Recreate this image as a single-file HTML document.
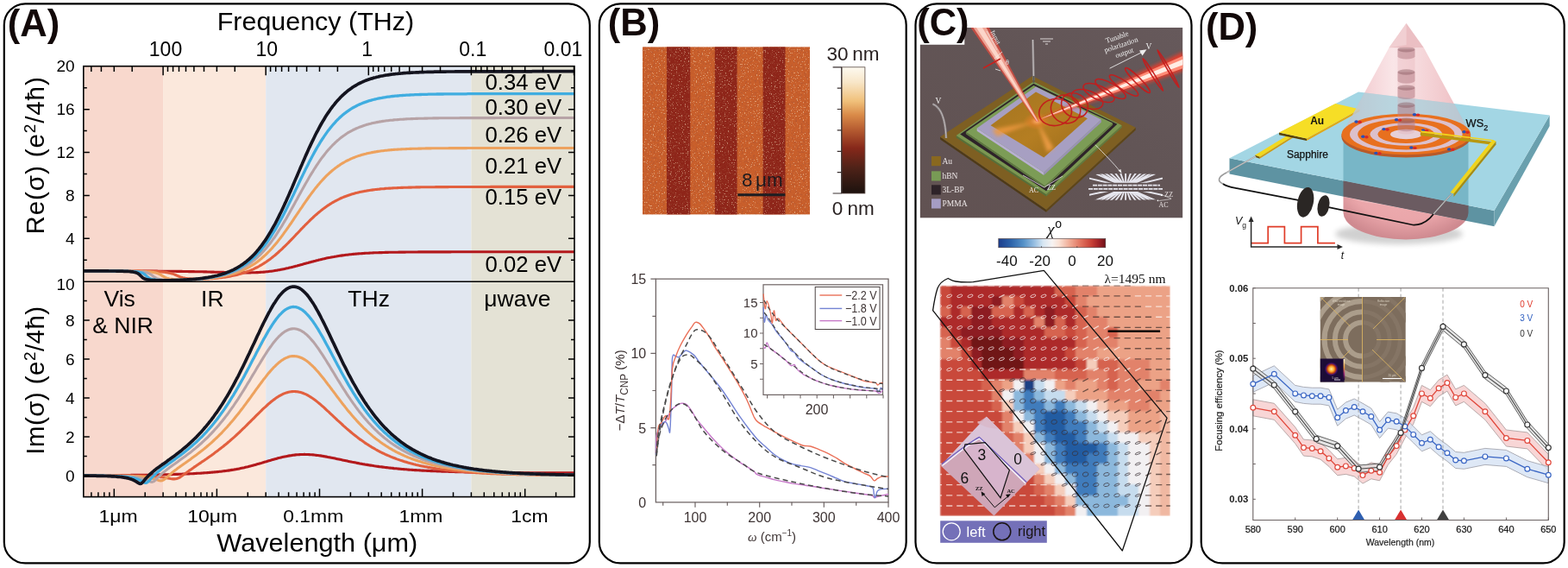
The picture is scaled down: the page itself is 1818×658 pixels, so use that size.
<!DOCTYPE html>
<html><head><meta charset="utf-8"><title>Figure</title>
<style>
html,body{margin:0;padding:0;background:#fff;width:1818px;height:658px;overflow:hidden}
svg{display:block;font-family:"Liberation Sans",Arial,sans-serif}
</style></head><body>
<svg width="1818" height="658" viewBox="0 0 1818 658">
<rect width="1818" height="658" fill="#fff"/>
<rect x="4.8" y="4.4" width="679.0" height="648.0" rx="24.5" ry="24.5" fill="#fff" stroke="#000" stroke-width="2.2"/>
<rect x="694.8" y="4.4" width="355.9" height="648.0" rx="24.5" ry="24.5" fill="#fff" stroke="#000" stroke-width="2.2"/>
<rect x="1061.5" y="4.4" width="320.0" height="648.0" rx="24.5" ry="24.5" fill="#fff" stroke="#000" stroke-width="2.2"/>
<rect x="1392.7" y="4.4" width="421.0" height="648.0" rx="24.5" ry="24.5" fill="#fff" stroke="#000" stroke-width="2.2"/>
<rect x="96.8" y="76.7" width="92.3" height="498.9" fill="#f8d8cd"/>
<rect x="189.1" y="76.7" width="119.1" height="498.9" fill="#fbe8dc"/>
<rect x="308.2" y="76.7" width="238.2" height="498.9" fill="#e1e7f0"/>
<rect x="546.4" y="76.7" width="119.6" height="498.9" fill="#e4e2d5"/>
<clipPath id="ca1"><rect x="96.8" y="76.7" width="569.2" height="249.5"/></clipPath><clipPath id="ca2"><rect x="96.8" y="326.2" width="569.2" height="249.4"/></clipPath>
<g clip-path="url(#ca1)" stroke-linejoin="round"><path d="M96.8,313.8 L98.2,313.8 L99.6,313.8 L101,313.8 L102.4,313.8 L103.9,313.8 L105.3,313.8 L106.7,313.8 L108.1,313.8 L109.6,313.8 L111,313.8 L112.4,313.8 L113.8,313.8 L115.3,313.8 L116.7,313.8 L118.1,313.9 L119.5,313.9 L120.9,313.9 L122.4,313.9 L123.8,313.9 L125.2,313.9 L126.6,313.9 L128.1,313.9 L129.5,313.9 L130.9,313.9 L132.3,313.9 L133.8,313.9 L135.2,313.9 L136.6,313.9 L138,313.9 L139.4,313.9 L140.9,313.9 L142.3,313.9 L143.7,313.9 L145.1,313.9 L146.6,313.9 L148,313.9 L149.4,314 L150.8,314 L152.3,314 L153.7,314 L155.1,314 L156.5,314 L157.9,314 L159.4,314 L160.8,314 L162.2,314 L163.6,314 L165.1,314 L166.5,314 L167.9,314 L169.3,314.1 L170.8,314.1 L172.2,314.1 L173.6,314.1 L175,314.1 L176.4,314.1 L177.9,314.1 L179.3,314.1 L180.7,314.1 L182.1,314.1 L183.6,314.2 L185,314.2 L186.4,314.2 L187.8,314.2 L189.3,314.2 L190.7,314.2 L192.1,314.2 L193.5,314.2 L194.9,314.3 L196.4,314.3 L197.8,314.3 L199.2,314.3 L200.6,314.3 L202.1,314.3 L203.5,314.3 L204.9,314.4 L206.3,314.4 L207.8,314.4 L209.2,314.4 L210.6,314.4 L212,314.5 L213.4,314.5 L214.9,314.5 L216.3,314.5 L217.7,314.5 L219.1,314.6 L220.6,314.6 L222,314.6 L223.4,314.6 L224.8,314.6 L226.3,314.7 L227.7,314.7 L229.1,314.7 L230.5,314.8 L231.9,314.8 L233.4,314.8 L234.8,314.8 L236.2,314.9 L237.6,314.9 L239.1,314.9 L240.5,315 L241.9,315 L243.3,315 L244.8,315.1 L246.2,315.1 L247.6,315.1 L249,315.2 L250.4,315.2 L251.9,315.2 L253.3,315.3 L254.7,315.3 L256.1,315.3 L257.6,315.4 L259,315.4 L260.4,315.5 L261.8,315.5 L263.3,315.5 L264.7,315.6 L266.1,315.6 L267.5,315.6 L268.9,315.7 L270.4,315.7 L271.8,315.7 L273.2,315.8 L274.6,315.8 L276.1,315.8 L277.5,315.8 L278.9,315.9 L280.3,315.9 L281.8,315.9 L283.2,315.9 L284.6,315.9 L286,315.9 L287.4,315.9 L288.9,315.9 L290.3,315.9 L291.7,315.8 L293.1,315.8 L294.6,315.8 L296,315.7 L297.4,315.6 L298.8,315.6 L300.3,315.5 L301.7,315.4 L303.1,315.3 L304.5,315.2 L305.9,315.1 L307.4,315 L308.8,314.8 L310.2,314.7 L311.6,314.5 L313.1,314.3 L314.5,314.2 L315.9,314 L317.3,313.8 L318.8,313.5 L320.2,313.3 L321.6,313.1 L323,312.8 L324.4,312.6 L325.9,312.3 L327.3,312 L328.7,311.7 L330.1,311.4 L331.6,311.1 L333,310.8 L334.4,310.5 L335.8,310.1 L337.3,309.8 L338.7,309.4 L340.1,309.1 L341.5,308.7 L342.9,308.3 L344.4,308 L345.8,307.6 L347.2,307.2 L348.6,306.8 L350.1,306.4 L351.5,306 L352.9,305.6 L354.3,305.2 L355.8,304.8 L357.2,304.5 L358.6,304.1 L360,303.7 L361.4,303.3 L362.9,302.9 L364.3,302.5 L365.7,302.2 L367.1,301.8 L368.6,301.5 L370,301.1 L371.4,300.8 L372.8,300.4 L374.3,300.1 L375.7,299.8 L377.1,299.4 L378.5,299.1 L379.9,298.8 L381.4,298.5 L382.8,298.3 L384.2,298 L385.6,297.7 L387.1,297.5 L388.5,297.2 L389.9,297 L391.3,296.7 L392.8,296.5 L394.2,296.3 L395.6,296.1 L397,295.9 L398.4,295.7 L399.9,295.5 L401.3,295.3 L402.7,295.2 L404.1,295 L405.6,294.8 L407,294.7 L408.4,294.5 L409.8,294.4 L411.3,294.3 L412.7,294.1 L414.1,294 L415.5,293.9 L416.9,293.8 L418.4,293.7 L419.8,293.6 L421.2,293.5 L422.6,293.4 L424.1,293.3 L425.5,293.3 L426.9,293.2 L428.3,293.1 L429.8,293 L431.2,293 L432.6,292.9 L434,292.8 L435.4,292.8 L436.9,292.7 L438.3,292.7 L439.7,292.6 L441.1,292.6 L442.6,292.6 L444,292.5 L445.4,292.5 L446.8,292.4 L448.3,292.4 L449.7,292.4 L451.1,292.3 L452.5,292.3 L453.9,292.3 L455.4,292.3 L456.8,292.2 L458.2,292.2 L459.6,292.2 L461.1,292.2 L462.5,292.1 L463.9,292.1 L465.3,292.1 L466.8,292.1 L468.2,292.1 L469.6,292.1 L471,292 L472.4,292 L473.9,292 L475.3,292 L476.7,292 L478.1,292 L479.6,292 L481,292 L482.4,292 L483.8,292 L485.3,291.9 L486.7,291.9 L488.1,291.9 L489.5,291.9 L490.9,291.9 L492.4,291.9 L493.8,291.9 L495.2,291.9 L496.6,291.9 L498.1,291.9 L499.5,291.9 L500.9,291.9 L502.3,291.9 L503.8,291.9 L505.2,291.9 L506.6,291.9 L508,291.9 L509.4,291.9 L510.9,291.9 L512.3,291.9 L513.7,291.9 L515.1,291.9 L516.6,291.9 L518,291.9 L519.4,291.9 L520.8,291.9 L522.3,291.9 L523.7,291.8 L525.1,291.8 L526.5,291.8 L527.9,291.8 L529.4,291.8 L530.8,291.8 L532.2,291.8 L533.6,291.8 L535.1,291.8 L536.5,291.8 L537.9,291.8 L539.3,291.8 L540.8,291.8 L542.2,291.8 L543.6,291.8 L545,291.8 L546.4,291.8 L547.9,291.8 L549.3,291.8 L550.7,291.8 L552.1,291.8 L553.6,291.8 L555,291.8 L556.4,291.8 L557.8,291.8 L559.3,291.8 L560.7,291.8 L562.1,291.8 L563.5,291.8 L564.9,291.8 L566.4,291.8 L567.8,291.8 L569.2,291.8 L570.6,291.8 L572.1,291.8 L573.5,291.8 L574.9,291.8 L576.3,291.8 L577.8,291.8 L579.2,291.8 L580.6,291.8 L582,291.8 L583.4,291.8 L584.9,291.8 L586.3,291.8 L587.7,291.8 L589.1,291.8 L590.6,291.8 L592,291.8 L593.4,291.8 L594.8,291.8 L596.3,291.8 L597.7,291.8 L599.1,291.8 L600.5,291.8 L601.9,291.8 L603.4,291.8 L604.8,291.8 L606.2,291.8 L607.6,291.8 L609.1,291.8 L610.5,291.8 L611.9,291.8 L613.3,291.8 L614.8,291.8 L616.2,291.8 L617.6,291.8 L619,291.8 L620.4,291.8 L621.9,291.8 L623.3,291.8 L624.7,291.8 L626.1,291.8 L627.6,291.8 L629,291.8 L630.4,291.8 L631.8,291.8 L633.3,291.8 L634.7,291.8 L636.1,291.8 L637.5,291.8 L638.9,291.8 L640.4,291.8 L641.8,291.8 L643.2,291.8 L644.6,291.8 L646.1,291.8 L647.5,291.8 L648.9,291.8 L650.3,291.8 L651.8,291.8 L653.2,291.8 L654.6,291.8 L656,291.8 L657.4,291.8 L658.9,291.8 L660.3,291.8 L661.7,291.8 L663.1,291.8 L664.6,291.8 L666,291.8" fill="none" stroke="#b3191c" stroke-width="3.1"/><path d="M96.8,313.8 L98.2,313.8 L99.6,313.8 L101,313.8 L102.4,313.8 L103.9,313.8 L105.3,313.8 L106.7,313.8 L108.1,313.8 L109.6,313.8 L111,313.8 L112.4,313.8 L113.8,313.8 L115.3,313.9 L116.7,313.9 L118.1,313.9 L119.5,313.9 L120.9,313.9 L122.4,313.9 L123.8,313.9 L125.2,313.9 L126.6,313.9 L128.1,313.9 L129.5,313.9 L130.9,313.9 L132.3,313.9 L133.8,313.9 L135.2,313.9 L136.6,313.9 L138,313.9 L139.4,313.9 L140.9,314 L142.3,314 L143.7,314 L145.1,314 L146.6,314 L148,314 L149.4,314 L150.8,314 L152.3,314 L153.7,314 L155.1,314.1 L156.5,314.1 L157.9,314.1 L159.4,314.1 L160.8,314.1 L162.2,314.1 L163.6,314.2 L165.1,314.2 L166.5,314.2 L167.9,314.2 L169.3,314.2 L170.8,314.3 L172.2,314.3 L173.6,314.3 L175,314.4 L176.4,314.4 L177.9,314.5 L179.3,314.5 L180.7,314.6 L182.1,314.6 L183.6,314.7 L185,314.8 L186.4,314.9 L187.8,315 L189.3,315.1 L190.7,315.3 L192.1,315.4 L193.5,315.6 L194.9,315.9 L196.4,316.2 L197.8,316.5 L199.2,316.9 L200.6,317.4 L202.1,317.9 L203.5,318.5 L204.9,319.1 L206.3,319.7 L207.8,320.3 L209.2,320.9 L210.6,321.3 L212,321.7 L213.4,322 L214.9,322.3 L216.3,322.5 L217.7,322.7 L219.1,322.8 L220.6,323 L222,323 L223.4,323.1 L224.8,323.2 L226.3,323.2 L227.7,323.2 L229.1,323.2 L230.5,323.2 L231.9,323.2 L233.4,323.2 L234.8,323.2 L236.2,323.1 L237.6,323.1 L239.1,323 L240.5,322.9 L241.9,322.9 L243.3,322.8 L244.8,322.7 L246.2,322.6 L247.6,322.5 L249,322.4 L250.4,322.2 L251.9,322.1 L253.3,322 L254.7,321.8 L256.1,321.6 L257.6,321.5 L259,321.3 L260.4,321.1 L261.8,320.9 L263.3,320.6 L264.7,320.4 L266.1,320.2 L267.5,319.9 L268.9,319.6 L270.4,319.3 L271.8,319 L273.2,318.7 L274.6,318.4 L276.1,318 L277.5,317.6 L278.9,317.2 L280.3,316.8 L281.8,316.4 L283.2,315.9 L284.6,315.4 L286,314.9 L287.4,314.4 L288.9,313.9 L290.3,313.3 L291.7,312.7 L293.1,312.1 L294.6,311.4 L296,310.7 L297.4,310 L298.8,309.3 L300.3,308.5 L301.7,307.7 L303.1,306.9 L304.5,306 L305.9,305.1 L307.4,304.2 L308.8,303.3 L310.2,302.3 L311.6,301.3 L313.1,300.2 L314.5,299.1 L315.9,298 L317.3,296.9 L318.8,295.7 L320.2,294.5 L321.6,293.3 L323,292 L324.4,290.7 L325.9,289.4 L327.3,288.1 L328.7,286.7 L330.1,285.3 L331.6,283.9 L333,282.5 L334.4,281.1 L335.8,279.6 L337.3,278.1 L338.7,276.7 L340.1,275.2 L341.5,273.7 L342.9,272.2 L344.4,270.7 L345.8,269.2 L347.2,267.7 L348.6,266.2 L350.1,264.7 L351.5,263.2 L352.9,261.8 L354.3,260.3 L355.8,258.9 L357.2,257.5 L358.6,256.1 L360,254.7 L361.4,253.3 L362.9,252 L364.3,250.7 L365.7,249.4 L367.1,248.2 L368.6,246.9 L370,245.7 L371.4,244.6 L372.8,243.4 L374.3,242.3 L375.7,241.3 L377.1,240.2 L378.5,239.2 L379.9,238.2 L381.4,237.3 L382.8,236.4 L384.2,235.5 L385.6,234.7 L387.1,233.8 L388.5,233 L389.9,232.3 L391.3,231.6 L392.8,230.9 L394.2,230.2 L395.6,229.5 L397,228.9 L398.4,228.3 L399.9,227.7 L401.3,227.2 L402.7,226.7 L404.1,226.2 L405.6,225.7 L407,225.2 L408.4,224.8 L409.8,224.4 L411.3,224 L412.7,223.6 L414.1,223.3 L415.5,222.9 L416.9,222.6 L418.4,222.3 L419.8,222 L421.2,221.7 L422.6,221.4 L424.1,221.2 L425.5,220.9 L426.9,220.7 L428.3,220.5 L429.8,220.3 L431.2,220.1 L432.6,219.9 L434,219.7 L435.4,219.5 L436.9,219.4 L438.3,219.2 L439.7,219.1 L441.1,218.9 L442.6,218.8 L444,218.7 L445.4,218.6 L446.8,218.4 L448.3,218.3 L449.7,218.2 L451.1,218.1 L452.5,218.1 L453.9,218 L455.4,217.9 L456.8,217.8 L458.2,217.7 L459.6,217.7 L461.1,217.6 L462.5,217.5 L463.9,217.5 L465.3,217.4 L466.8,217.4 L468.2,217.3 L469.6,217.3 L471,217.2 L472.4,217.2 L473.9,217.1 L475.3,217.1 L476.7,217.1 L478.1,217 L479.6,217 L481,217 L482.4,216.9 L483.8,216.9 L485.3,216.9 L486.7,216.9 L488.1,216.8 L489.5,216.8 L490.9,216.8 L492.4,216.8 L493.8,216.8 L495.2,216.7 L496.6,216.7 L498.1,216.7 L499.5,216.7 L500.9,216.7 L502.3,216.7 L503.8,216.7 L505.2,216.6 L506.6,216.6 L508,216.6 L509.4,216.6 L510.9,216.6 L512.3,216.6 L513.7,216.6 L515.1,216.6 L516.6,216.6 L518,216.6 L519.4,216.6 L520.8,216.5 L522.3,216.5 L523.7,216.5 L525.1,216.5 L526.5,216.5 L527.9,216.5 L529.4,216.5 L530.8,216.5 L532.2,216.5 L533.6,216.5 L535.1,216.5 L536.5,216.5 L537.9,216.5 L539.3,216.5 L540.8,216.5 L542.2,216.5 L543.6,216.5 L545,216.5 L546.4,216.5 L547.9,216.5 L549.3,216.5 L550.7,216.5 L552.1,216.5 L553.6,216.5 L555,216.5 L556.4,216.5 L557.8,216.5 L559.3,216.5 L560.7,216.5 L562.1,216.5 L563.5,216.5 L564.9,216.5 L566.4,216.5 L567.8,216.5 L569.2,216.4 L570.6,216.4 L572.1,216.4 L573.5,216.4 L574.9,216.4 L576.3,216.4 L577.8,216.4 L579.2,216.4 L580.6,216.4 L582,216.4 L583.4,216.4 L584.9,216.4 L586.3,216.4 L587.7,216.4 L589.1,216.4 L590.6,216.4 L592,216.4 L593.4,216.4 L594.8,216.4 L596.3,216.4 L597.7,216.4 L599.1,216.4 L600.5,216.4 L601.9,216.4 L603.4,216.4 L604.8,216.4 L606.2,216.4 L607.6,216.4 L609.1,216.4 L610.5,216.4 L611.9,216.4 L613.3,216.4 L614.8,216.4 L616.2,216.4 L617.6,216.4 L619,216.4 L620.4,216.4 L621.9,216.4 L623.3,216.4 L624.7,216.4 L626.1,216.4 L627.6,216.4 L629,216.4 L630.4,216.4 L631.8,216.4 L633.3,216.4 L634.7,216.4 L636.1,216.4 L637.5,216.4 L638.9,216.4 L640.4,216.4 L641.8,216.4 L643.2,216.4 L644.6,216.4 L646.1,216.4 L647.5,216.4 L648.9,216.4 L650.3,216.4 L651.8,216.4 L653.2,216.4 L654.6,216.4 L656,216.4 L657.4,216.4 L658.9,216.4 L660.3,216.4 L661.7,216.4 L663.1,216.4 L664.6,216.4 L666,216.4" fill="none" stroke="#e2603f" stroke-width="3.1"/><path d="M96.8,313.8 L98.2,313.8 L99.6,313.8 L101,313.8 L102.4,313.8 L103.9,313.8 L105.3,313.8 L106.7,313.8 L108.1,313.8 L109.6,313.8 L111,313.8 L112.4,313.9 L113.8,313.9 L115.3,313.9 L116.7,313.9 L118.1,313.9 L119.5,313.9 L120.9,313.9 L122.4,313.9 L123.8,313.9 L125.2,313.9 L126.6,313.9 L128.1,313.9 L129.5,313.9 L130.9,313.9 L132.3,313.9 L133.8,313.9 L135.2,313.9 L136.6,314 L138,314 L139.4,314 L140.9,314 L142.3,314 L143.7,314 L145.1,314 L146.6,314 L148,314.1 L149.4,314.1 L150.8,314.1 L152.3,314.1 L153.7,314.1 L155.1,314.1 L156.5,314.2 L157.9,314.2 L159.4,314.2 L160.8,314.3 L162.2,314.3 L163.6,314.4 L165.1,314.4 L166.5,314.5 L167.9,314.5 L169.3,314.6 L170.8,314.7 L172.2,314.8 L173.6,314.9 L175,315 L176.4,315.2 L177.9,315.4 L179.3,315.7 L180.7,316 L182.1,316.4 L183.6,317 L185,317.6 L186.4,318.4 L187.8,319.3 L189.3,320.2 L190.7,321 L192.1,321.7 L193.5,322.2 L194.9,322.6 L196.4,323 L197.8,323.2 L199.2,323.4 L200.6,323.6 L202.1,323.7 L203.5,323.8 L204.9,323.9 L206.3,323.9 L207.8,324 L209.2,324 L210.6,324 L212,324 L213.4,324 L214.9,324 L216.3,324 L217.7,324 L219.1,324 L220.6,323.9 L222,323.9 L223.4,323.8 L224.8,323.8 L226.3,323.7 L227.7,323.6 L229.1,323.6 L230.5,323.5 L231.9,323.4 L233.4,323.3 L234.8,323.2 L236.2,323.1 L237.6,323 L239.1,322.8 L240.5,322.7 L241.9,322.6 L243.3,322.4 L244.8,322.3 L246.2,322.1 L247.6,321.9 L249,321.7 L250.4,321.5 L251.9,321.3 L253.3,321.1 L254.7,320.8 L256.1,320.6 L257.6,320.3 L259,320 L260.4,319.7 L261.8,319.4 L263.3,319.1 L264.7,318.8 L266.1,318.4 L267.5,318 L268.9,317.6 L270.4,317.2 L271.8,316.7 L273.2,316.3 L274.6,315.8 L276.1,315.3 L277.5,314.7 L278.9,314.2 L280.3,313.6 L281.8,312.9 L283.2,312.3 L284.6,311.6 L286,310.9 L287.4,310.1 L288.9,309.4 L290.3,308.5 L291.7,307.7 L293.1,306.8 L294.6,305.9 L296,304.9 L297.4,303.9 L298.8,302.9 L300.3,301.8 L301.7,300.6 L303.1,299.5 L304.5,298.2 L305.9,297 L307.4,295.7 L308.8,294.3 L310.2,292.9 L311.6,291.5 L313.1,290 L314.5,288.5 L315.9,286.9 L317.3,285.3 L318.8,283.6 L320.2,281.9 L321.6,280.2 L323,278.4 L324.4,276.6 L325.9,274.7 L327.3,272.8 L328.7,270.9 L330.1,268.9 L331.6,266.9 L333,264.9 L334.4,262.9 L335.8,260.8 L337.3,258.8 L338.7,256.7 L340.1,254.6 L341.5,252.4 L342.9,250.3 L344.4,248.2 L345.8,246.1 L347.2,244 L348.6,241.9 L350.1,239.8 L351.5,237.7 L352.9,235.6 L354.3,233.6 L355.8,231.5 L357.2,229.5 L358.6,227.5 L360,225.6 L361.4,223.7 L362.9,221.8 L364.3,219.9 L365.7,218.1 L367.1,216.4 L368.6,214.6 L370,212.9 L371.4,211.3 L372.8,209.7 L374.3,208.1 L375.7,206.6 L377.1,205.1 L378.5,203.7 L379.9,202.3 L381.4,201 L382.8,199.7 L384.2,198.5 L385.6,197.3 L387.1,196.1 L388.5,195 L389.9,193.9 L391.3,192.9 L392.8,191.9 L394.2,190.9 L395.6,190 L397,189.1 L398.4,188.3 L399.9,187.5 L401.3,186.7 L402.7,186 L404.1,185.3 L405.6,184.6 L407,183.9 L408.4,183.3 L409.8,182.7 L411.3,182.2 L412.7,181.6 L414.1,181.1 L415.5,180.6 L416.9,180.2 L418.4,179.7 L419.8,179.3 L421.2,178.9 L422.6,178.5 L424.1,178.2 L425.5,177.8 L426.9,177.5 L428.3,177.2 L429.8,176.9 L431.2,176.6 L432.6,176.4 L434,176.1 L435.4,175.9 L436.9,175.6 L438.3,175.4 L439.7,175.2 L441.1,175 L442.6,174.8 L444,174.7 L445.4,174.5 L446.8,174.3 L448.3,174.2 L449.7,174 L451.1,173.9 L452.5,173.8 L453.9,173.6 L455.4,173.5 L456.8,173.4 L458.2,173.3 L459.6,173.2 L461.1,173.1 L462.5,173 L463.9,173 L465.3,172.9 L466.8,172.8 L468.2,172.7 L469.6,172.7 L471,172.6 L472.4,172.5 L473.9,172.5 L475.3,172.4 L476.7,172.4 L478.1,172.3 L479.6,172.3 L481,172.2 L482.4,172.2 L483.8,172.2 L485.3,172.1 L486.7,172.1 L488.1,172.1 L489.5,172 L490.9,172 L492.4,172 L493.8,171.9 L495.2,171.9 L496.6,171.9 L498.1,171.9 L499.5,171.9 L500.9,171.8 L502.3,171.8 L503.8,171.8 L505.2,171.8 L506.6,171.8 L508,171.7 L509.4,171.7 L510.9,171.7 L512.3,171.7 L513.7,171.7 L515.1,171.7 L516.6,171.7 L518,171.7 L519.4,171.7 L520.8,171.6 L522.3,171.6 L523.7,171.6 L525.1,171.6 L526.5,171.6 L527.9,171.6 L529.4,171.6 L530.8,171.6 L532.2,171.6 L533.6,171.6 L535.1,171.6 L536.5,171.6 L537.9,171.6 L539.3,171.6 L540.8,171.6 L542.2,171.5 L543.6,171.5 L545,171.5 L546.4,171.5 L547.9,171.5 L549.3,171.5 L550.7,171.5 L552.1,171.5 L553.6,171.5 L555,171.5 L556.4,171.5 L557.8,171.5 L559.3,171.5 L560.7,171.5 L562.1,171.5 L563.5,171.5 L564.9,171.5 L566.4,171.5 L567.8,171.5 L569.2,171.5 L570.6,171.5 L572.1,171.5 L573.5,171.5 L574.9,171.5 L576.3,171.5 L577.8,171.5 L579.2,171.5 L580.6,171.5 L582,171.5 L583.4,171.5 L584.9,171.5 L586.3,171.5 L587.7,171.5 L589.1,171.5 L590.6,171.5 L592,171.5 L593.4,171.5 L594.8,171.5 L596.3,171.5 L597.7,171.5 L599.1,171.5 L600.5,171.5 L601.9,171.5 L603.4,171.5 L604.8,171.5 L606.2,171.5 L607.6,171.5 L609.1,171.5 L610.5,171.5 L611.9,171.5 L613.3,171.5 L614.8,171.5 L616.2,171.5 L617.6,171.5 L619,171.5 L620.4,171.5 L621.9,171.5 L623.3,171.5 L624.7,171.5 L626.1,171.5 L627.6,171.5 L629,171.5 L630.4,171.5 L631.8,171.5 L633.3,171.5 L634.7,171.5 L636.1,171.5 L637.5,171.5 L638.9,171.5 L640.4,171.5 L641.8,171.5 L643.2,171.5 L644.6,171.5 L646.1,171.5 L647.5,171.5 L648.9,171.5 L650.3,171.5 L651.8,171.5 L653.2,171.5 L654.6,171.5 L656,171.5 L657.4,171.5 L658.9,171.5 L660.3,171.5 L661.7,171.5 L663.1,171.5 L664.6,171.5 L666,171.5" fill="none" stroke="#eda25e" stroke-width="3.1"/><path d="M96.8,313.8 L98.2,313.8 L99.6,313.8 L101,313.8 L102.4,313.8 L103.9,313.8 L105.3,313.8 L106.7,313.8 L108.1,313.8 L109.6,313.8 L111,313.9 L112.4,313.9 L113.8,313.9 L115.3,313.9 L116.7,313.9 L118.1,313.9 L119.5,313.9 L120.9,313.9 L122.4,313.9 L123.8,313.9 L125.2,313.9 L126.6,313.9 L128.1,313.9 L129.5,313.9 L130.9,313.9 L132.3,314 L133.8,314 L135.2,314 L136.6,314 L138,314 L139.4,314 L140.9,314 L142.3,314 L143.7,314.1 L145.1,314.1 L146.6,314.1 L148,314.1 L149.4,314.2 L150.8,314.2 L152.3,314.2 L153.7,314.3 L155.1,314.3 L156.5,314.4 L157.9,314.4 L159.4,314.5 L160.8,314.6 L162.2,314.7 L163.6,314.8 L165.1,314.9 L166.5,315.1 L167.9,315.3 L169.3,315.6 L170.8,316 L172.2,316.5 L173.6,317.1 L175,318 L176.4,319 L177.9,320.2 L179.3,321.2 L180.7,322 L182.1,322.6 L183.6,323.1 L185,323.4 L186.4,323.7 L187.8,323.9 L189.3,324 L190.7,324.1 L192.1,324.2 L193.5,324.3 L194.9,324.3 L196.4,324.4 L197.8,324.4 L199.2,324.4 L200.6,324.4 L202.1,324.4 L203.5,324.4 L204.9,324.4 L206.3,324.4 L207.8,324.4 L209.2,324.4 L210.6,324.3 L212,324.3 L213.4,324.2 L214.9,324.2 L216.3,324.1 L217.7,324.1 L219.1,324 L220.6,324 L222,323.9 L223.4,323.8 L224.8,323.7 L226.3,323.6 L227.7,323.5 L229.1,323.4 L230.5,323.3 L231.9,323.2 L233.4,323 L234.8,322.9 L236.2,322.8 L237.6,322.6 L239.1,322.5 L240.5,322.3 L241.9,322.1 L243.3,321.9 L244.8,321.7 L246.2,321.5 L247.6,321.3 L249,321 L250.4,320.8 L251.9,320.5 L253.3,320.2 L254.7,319.9 L256.1,319.6 L257.6,319.3 L259,318.9 L260.4,318.6 L261.8,318.2 L263.3,317.8 L264.7,317.4 L266.1,316.9 L267.5,316.4 L268.9,315.9 L270.4,315.4 L271.8,314.9 L273.2,314.3 L274.6,313.7 L276.1,313 L277.5,312.4 L278.9,311.7 L280.3,310.9 L281.8,310.2 L283.2,309.4 L284.6,308.5 L286,307.7 L287.4,306.7 L288.9,305.8 L290.3,304.8 L291.7,303.7 L293.1,302.6 L294.6,301.5 L296,300.3 L297.4,299.1 L298.8,297.8 L300.3,296.4 L301.7,295.1 L303.1,293.6 L304.5,292.1 L305.9,290.6 L307.4,289 L308.8,287.3 L310.2,285.6 L311.6,283.8 L313.1,282 L314.5,280.1 L315.9,278.2 L317.3,276.2 L318.8,274.2 L320.2,272.1 L321.6,269.9 L323,267.7 L324.4,265.5 L325.9,263.2 L327.3,260.9 L328.7,258.5 L330.1,256.1 L331.6,253.7 L333,251.2 L334.4,248.7 L335.8,246.2 L337.3,243.6 L338.7,241.1 L340.1,238.5 L341.5,235.9 L342.9,233.3 L344.4,230.7 L345.8,228.1 L347.2,225.5 L348.6,222.9 L350.1,220.3 L351.5,217.8 L352.9,215.2 L354.3,212.7 L355.8,210.2 L357.2,207.8 L358.6,205.3 L360,202.9 L361.4,200.6 L362.9,198.3 L364.3,196 L365.7,193.8 L367.1,191.6 L368.6,189.5 L370,187.4 L371.4,185.4 L372.8,183.4 L374.3,181.5 L375.7,179.7 L377.1,177.9 L378.5,176.1 L379.9,174.4 L381.4,172.8 L382.8,171.2 L384.2,169.7 L385.6,168.2 L387.1,166.8 L388.5,165.4 L389.9,164.1 L391.3,162.8 L392.8,161.6 L394.2,160.4 L395.6,159.3 L397,158.2 L398.4,157.2 L399.9,156.2 L401.3,155.2 L402.7,154.3 L404.1,153.4 L405.6,152.6 L407,151.8 L408.4,151.1 L409.8,150.3 L411.3,149.7 L412.7,149 L414.1,148.4 L415.5,147.8 L416.9,147.2 L418.4,146.7 L419.8,146.2 L421.2,145.7 L422.6,145.2 L424.1,144.8 L425.5,144.3 L426.9,143.9 L428.3,143.5 L429.8,143.2 L431.2,142.8 L432.6,142.5 L434,142.2 L435.4,141.9 L436.9,141.6 L438.3,141.4 L439.7,141.1 L441.1,140.9 L442.6,140.6 L444,140.4 L445.4,140.2 L446.8,140 L448.3,139.8 L449.7,139.7 L451.1,139.5 L452.5,139.3 L453.9,139.2 L455.4,139.1 L456.8,138.9 L458.2,138.8 L459.6,138.7 L461.1,138.6 L462.5,138.5 L463.9,138.3 L465.3,138.3 L466.8,138.2 L468.2,138.1 L469.6,138 L471,137.9 L472.4,137.8 L473.9,137.8 L475.3,137.7 L476.7,137.6 L478.1,137.6 L479.6,137.5 L481,137.5 L482.4,137.4 L483.8,137.4 L485.3,137.3 L486.7,137.3 L488.1,137.2 L489.5,137.2 L490.9,137.2 L492.4,137.1 L493.8,137.1 L495.2,137.1 L496.6,137 L498.1,137 L499.5,137 L500.9,137 L502.3,136.9 L503.8,136.9 L505.2,136.9 L506.6,136.9 L508,136.9 L509.4,136.8 L510.9,136.8 L512.3,136.8 L513.7,136.8 L515.1,136.8 L516.6,136.8 L518,136.8 L519.4,136.7 L520.8,136.7 L522.3,136.7 L523.7,136.7 L525.1,136.7 L526.5,136.7 L527.9,136.7 L529.4,136.7 L530.8,136.7 L532.2,136.7 L533.6,136.6 L535.1,136.6 L536.5,136.6 L537.9,136.6 L539.3,136.6 L540.8,136.6 L542.2,136.6 L543.6,136.6 L545,136.6 L546.4,136.6 L547.9,136.6 L549.3,136.6 L550.7,136.6 L552.1,136.6 L553.6,136.6 L555,136.6 L556.4,136.6 L557.8,136.6 L559.3,136.6 L560.7,136.6 L562.1,136.6 L563.5,136.6 L564.9,136.6 L566.4,136.6 L567.8,136.6 L569.2,136.6 L570.6,136.6 L572.1,136.6 L573.5,136.6 L574.9,136.5 L576.3,136.5 L577.8,136.5 L579.2,136.5 L580.6,136.5 L582,136.5 L583.4,136.5 L584.9,136.5 L586.3,136.5 L587.7,136.5 L589.1,136.5 L590.6,136.5 L592,136.5 L593.4,136.5 L594.8,136.5 L596.3,136.5 L597.7,136.5 L599.1,136.5 L600.5,136.5 L601.9,136.5 L603.4,136.5 L604.8,136.5 L606.2,136.5 L607.6,136.5 L609.1,136.5 L610.5,136.5 L611.9,136.5 L613.3,136.5 L614.8,136.5 L616.2,136.5 L617.6,136.5 L619,136.5 L620.4,136.5 L621.9,136.5 L623.3,136.5 L624.7,136.5 L626.1,136.5 L627.6,136.5 L629,136.5 L630.4,136.5 L631.8,136.5 L633.3,136.5 L634.7,136.5 L636.1,136.5 L637.5,136.5 L638.9,136.5 L640.4,136.5 L641.8,136.5 L643.2,136.5 L644.6,136.5 L646.1,136.5 L647.5,136.5 L648.9,136.5 L650.3,136.5 L651.8,136.5 L653.2,136.5 L654.6,136.5 L656,136.5 L657.4,136.5 L658.9,136.5 L660.3,136.5 L661.7,136.5 L663.1,136.5 L664.6,136.5 L666,136.5" fill="none" stroke="#b7a3a6" stroke-width="3.1"/><path d="M96.8,313.8 L98.2,313.8 L99.6,313.8 L101,313.8 L102.4,313.8 L103.9,313.8 L105.3,313.8 L106.7,313.8 L108.1,313.9 L109.6,313.9 L111,313.9 L112.4,313.9 L113.8,313.9 L115.3,313.9 L116.7,313.9 L118.1,313.9 L119.5,313.9 L120.9,313.9 L122.4,313.9 L123.8,313.9 L125.2,313.9 L126.6,313.9 L128.1,313.9 L129.5,314 L130.9,314 L132.3,314 L133.8,314 L135.2,314 L136.6,314 L138,314 L139.4,314.1 L140.9,314.1 L142.3,314.1 L143.7,314.1 L145.1,314.2 L146.6,314.2 L148,314.2 L149.4,314.3 L150.8,314.3 L152.3,314.4 L153.7,314.5 L155.1,314.6 L156.5,314.7 L157.9,314.8 L159.4,315 L160.8,315.2 L162.2,315.5 L163.6,315.8 L165.1,316.3 L166.5,317.1 L167.9,318 L169.3,319.2 L170.8,320.5 L172.2,321.6 L173.6,322.4 L175,323 L176.4,323.5 L177.9,323.8 L179.3,324 L180.7,324.2 L182.1,324.3 L183.6,324.4 L185,324.5 L186.4,324.5 L187.8,324.6 L189.3,324.6 L190.7,324.6 L192.1,324.7 L193.5,324.7 L194.9,324.7 L196.4,324.7 L197.8,324.7 L199.2,324.6 L200.6,324.6 L202.1,324.6 L203.5,324.6 L204.9,324.5 L206.3,324.5 L207.8,324.5 L209.2,324.4 L210.6,324.4 L212,324.3 L213.4,324.2 L214.9,324.2 L216.3,324.1 L217.7,324 L219.1,323.9 L220.6,323.9 L222,323.8 L223.4,323.7 L224.8,323.6 L226.3,323.4 L227.7,323.3 L229.1,323.2 L230.5,323.1 L231.9,322.9 L233.4,322.8 L234.8,322.6 L236.2,322.4 L237.6,322.3 L239.1,322.1 L240.5,321.9 L241.9,321.7 L243.3,321.4 L244.8,321.2 L246.2,321 L247.6,320.7 L249,320.4 L250.4,320.1 L251.9,319.8 L253.3,319.5 L254.7,319.2 L256.1,318.8 L257.6,318.4 L259,318 L260.4,317.6 L261.8,317.1 L263.3,316.7 L264.7,316.2 L266.1,315.7 L267.5,315.1 L268.9,314.6 L270.4,314 L271.8,313.3 L273.2,312.7 L274.6,312 L276.1,311.2 L277.5,310.5 L278.9,309.7 L280.3,308.8 L281.8,307.9 L283.2,307 L284.6,306.1 L286,305.1 L287.4,304 L288.9,302.9 L290.3,301.7 L291.7,300.5 L293.1,299.3 L294.6,298 L296,296.6 L297.4,295.2 L298.8,293.7 L300.3,292.2 L301.7,290.6 L303.1,288.9 L304.5,287.2 L305.9,285.4 L307.4,283.6 L308.8,281.7 L310.2,279.7 L311.6,277.7 L313.1,275.6 L314.5,273.4 L315.9,271.2 L317.3,268.9 L318.8,266.6 L320.2,264.2 L321.6,261.7 L323,259.2 L324.4,256.7 L325.9,254 L327.3,251.4 L328.7,248.7 L330.1,245.9 L331.6,243.1 L333,240.3 L334.4,237.4 L335.8,234.5 L337.3,231.6 L338.7,228.6 L340.1,225.7 L341.5,222.7 L342.9,219.7 L344.4,216.7 L345.8,213.7 L347.2,210.8 L348.6,207.8 L350.1,204.8 L351.5,201.9 L352.9,199 L354.3,196.1 L355.8,193.2 L357.2,190.4 L358.6,187.6 L360,184.9 L361.4,182.2 L362.9,179.5 L364.3,176.9 L365.7,174.4 L367.1,171.9 L368.6,169.4 L370,167.1 L371.4,164.7 L372.8,162.5 L374.3,160.3 L375.7,158.1 L377.1,156.1 L378.5,154.1 L379.9,152.1 L381.4,150.2 L382.8,148.4 L384.2,146.7 L385.6,145 L387.1,143.3 L388.5,141.8 L389.9,140.2 L391.3,138.8 L392.8,137.4 L394.2,136 L395.6,134.7 L397,133.5 L398.4,132.3 L399.9,131.2 L401.3,130.1 L402.7,129.1 L404.1,128.1 L405.6,127.1 L407,126.2 L408.4,125.3 L409.8,124.5 L411.3,123.7 L412.7,123 L414.1,122.2 L415.5,121.6 L416.9,120.9 L418.4,120.3 L419.8,119.7 L421.2,119.1 L422.6,118.6 L424.1,118.1 L425.5,117.6 L426.9,117.1 L428.3,116.7 L429.8,116.3 L431.2,115.9 L432.6,115.5 L434,115.2 L435.4,114.8 L436.9,114.5 L438.3,114.2 L439.7,113.9 L441.1,113.6 L442.6,113.4 L444,113.1 L445.4,112.9 L446.8,112.7 L448.3,112.4 L449.7,112.2 L451.1,112.1 L452.5,111.9 L453.9,111.7 L455.4,111.5 L456.8,111.4 L458.2,111.2 L459.6,111.1 L461.1,111 L462.5,110.9 L463.9,110.7 L465.3,110.6 L466.8,110.5 L468.2,110.4 L469.6,110.3 L471,110.2 L472.4,110.2 L473.9,110.1 L475.3,110 L476.7,109.9 L478.1,109.9 L479.6,109.8 L481,109.7 L482.4,109.7 L483.8,109.6 L485.3,109.6 L486.7,109.5 L488.1,109.5 L489.5,109.4 L490.9,109.4 L492.4,109.3 L493.8,109.3 L495.2,109.3 L496.6,109.2 L498.1,109.2 L499.5,109.2 L500.9,109.1 L502.3,109.1 L503.8,109.1 L505.2,109.1 L506.6,109 L508,109 L509.4,109 L510.9,109 L512.3,109 L513.7,109 L515.1,108.9 L516.6,108.9 L518,108.9 L519.4,108.9 L520.8,108.9 L522.3,108.9 L523.7,108.9 L525.1,108.8 L526.5,108.8 L527.9,108.8 L529.4,108.8 L530.8,108.8 L532.2,108.8 L533.6,108.8 L535.1,108.8 L536.5,108.8 L537.9,108.8 L539.3,108.8 L540.8,108.8 L542.2,108.7 L543.6,108.7 L545,108.7 L546.4,108.7 L547.9,108.7 L549.3,108.7 L550.7,108.7 L552.1,108.7 L553.6,108.7 L555,108.7 L556.4,108.7 L557.8,108.7 L559.3,108.7 L560.7,108.7 L562.1,108.7 L563.5,108.7 L564.9,108.7 L566.4,108.7 L567.8,108.7 L569.2,108.7 L570.6,108.7 L572.1,108.7 L573.5,108.7 L574.9,108.7 L576.3,108.7 L577.8,108.7 L579.2,108.7 L580.6,108.7 L582,108.7 L583.4,108.7 L584.9,108.7 L586.3,108.7 L587.7,108.7 L589.1,108.7 L590.6,108.7 L592,108.7 L593.4,108.7 L594.8,108.7 L596.3,108.7 L597.7,108.7 L599.1,108.7 L600.5,108.7 L601.9,108.7 L603.4,108.7 L604.8,108.7 L606.2,108.7 L607.6,108.7 L609.1,108.7 L610.5,108.6 L611.9,108.6 L613.3,108.6 L614.8,108.6 L616.2,108.6 L617.6,108.6 L619,108.6 L620.4,108.6 L621.9,108.6 L623.3,108.6 L624.7,108.6 L626.1,108.6 L627.6,108.6 L629,108.6 L630.4,108.6 L631.8,108.6 L633.3,108.6 L634.7,108.6 L636.1,108.6 L637.5,108.6 L638.9,108.6 L640.4,108.6 L641.8,108.6 L643.2,108.6 L644.6,108.6 L646.1,108.6 L647.5,108.6 L648.9,108.6 L650.3,108.6 L651.8,108.6 L653.2,108.6 L654.6,108.6 L656,108.6 L657.4,108.6 L658.9,108.6 L660.3,108.6 L661.7,108.6 L663.1,108.6 L664.6,108.6 L666,108.6" fill="none" stroke="#40ade0" stroke-width="3.3"/><path d="M96.8,313.8 L98.2,313.8 L99.6,313.8 L101,313.8 L102.4,313.8 L103.9,313.8 L105.3,313.8 L106.7,313.9 L108.1,313.9 L109.6,313.9 L111,313.9 L112.4,313.9 L113.8,313.9 L115.3,313.9 L116.7,313.9 L118.1,313.9 L119.5,313.9 L120.9,313.9 L122.4,313.9 L123.8,313.9 L125.2,313.9 L126.6,314 L128.1,314 L129.5,314 L130.9,314 L132.3,314 L133.8,314 L135.2,314.1 L136.6,314.1 L138,314.1 L139.4,314.1 L140.9,314.2 L142.3,314.2 L143.7,314.3 L145.1,314.3 L146.6,314.4 L148,314.4 L149.4,314.5 L150.8,314.6 L152.3,314.8 L153.7,314.9 L155.1,315.2 L156.5,315.5 L157.9,315.9 L159.4,316.5 L160.8,317.4 L162.2,318.6 L163.6,320 L165.1,321.4 L166.5,322.4 L167.9,323.1 L169.3,323.6 L170.8,323.9 L172.2,324.1 L173.6,324.3 L175,324.5 L176.4,324.6 L177.9,324.6 L179.3,324.7 L180.7,324.8 L182.1,324.8 L183.6,324.8 L185,324.8 L186.4,324.9 L187.8,324.9 L189.3,324.9 L190.7,324.9 L192.1,324.8 L193.5,324.8 L194.9,324.8 L196.4,324.8 L197.8,324.8 L199.2,324.7 L200.6,324.7 L202.1,324.7 L203.5,324.6 L204.9,324.6 L206.3,324.5 L207.8,324.5 L209.2,324.4 L210.6,324.3 L212,324.3 L213.4,324.2 L214.9,324.1 L216.3,324 L217.7,323.9 L219.1,323.8 L220.6,323.7 L222,323.6 L223.4,323.5 L224.8,323.4 L226.3,323.3 L227.7,323.1 L229.1,323 L230.5,322.8 L231.9,322.7 L233.4,322.5 L234.8,322.3 L236.2,322.1 L237.6,321.9 L239.1,321.7 L240.5,321.5 L241.9,321.2 L243.3,321 L244.8,320.7 L246.2,320.4 L247.6,320.2 L249,319.8 L250.4,319.5 L251.9,319.2 L253.3,318.8 L254.7,318.4 L256.1,318 L257.6,317.6 L259,317.1 L260.4,316.7 L261.8,316.2 L263.3,315.6 L264.7,315.1 L266.1,314.5 L267.5,313.9 L268.9,313.3 L270.4,312.6 L271.8,311.9 L273.2,311.1 L274.6,310.4 L276.1,309.5 L277.5,308.7 L278.9,307.8 L280.3,306.8 L281.8,305.9 L283.2,304.8 L284.6,303.7 L286,302.6 L287.4,301.4 L288.9,300.2 L290.3,298.9 L291.7,297.6 L293.1,296.2 L294.6,294.7 L296,293.2 L297.4,291.6 L298.8,289.9 L300.3,288.2 L301.7,286.4 L303.1,284.6 L304.5,282.6 L305.9,280.7 L307.4,278.6 L308.8,276.5 L310.2,274.3 L311.6,272 L313.1,269.6 L314.5,267.2 L315.9,264.7 L317.3,262.2 L318.8,259.6 L320.2,256.9 L321.6,254.1 L323,251.3 L324.4,248.4 L325.9,245.5 L327.3,242.5 L328.7,239.5 L330.1,236.4 L331.6,233.3 L333,230.1 L334.4,226.9 L335.8,223.6 L337.3,220.4 L338.7,217.1 L340.1,213.7 L341.5,210.4 L342.9,207.1 L344.4,203.7 L345.8,200.4 L347.2,197.1 L348.6,193.7 L350.1,190.4 L351.5,187.1 L352.9,183.9 L354.3,180.6 L355.8,177.4 L357.2,174.3 L358.6,171.1 L360,168.1 L361.4,165.1 L362.9,162.1 L364.3,159.2 L365.7,156.3 L367.1,153.5 L368.6,150.8 L370,148.1 L371.4,145.5 L372.8,143 L374.3,140.5 L375.7,138.2 L377.1,135.8 L378.5,133.6 L379.9,131.4 L381.4,129.3 L382.8,127.3 L384.2,125.3 L385.6,123.4 L387.1,121.6 L388.5,119.8 L389.9,118.1 L391.3,116.5 L392.8,114.9 L394.2,113.4 L395.6,112 L397,110.6 L398.4,109.3 L399.9,108 L401.3,106.8 L402.7,105.6 L404.1,104.5 L405.6,103.4 L407,102.4 L408.4,101.4 L409.8,100.5 L411.3,99.6 L412.7,98.8 L414.1,98 L415.5,97.2 L416.9,96.5 L418.4,95.8 L419.8,95.1 L421.2,94.5 L422.6,93.9 L424.1,93.3 L425.5,92.8 L426.9,92.3 L428.3,91.8 L429.8,91.3 L431.2,90.9 L432.6,90.4 L434,90 L435.4,89.7 L436.9,89.3 L438.3,89 L439.7,88.6 L441.1,88.3 L442.6,88 L444,87.8 L445.4,87.5 L446.8,87.2 L448.3,87 L449.7,86.8 L451.1,86.6 L452.5,86.4 L453.9,86.2 L455.4,86 L456.8,85.8 L458.2,85.7 L459.6,85.5 L461.1,85.4 L462.5,85.2 L463.9,85.1 L465.3,85 L466.8,84.8 L468.2,84.7 L469.6,84.6 L471,84.5 L472.4,84.4 L473.9,84.3 L475.3,84.3 L476.7,84.2 L478.1,84.1 L479.6,84 L481,84 L482.4,83.9 L483.8,83.8 L485.3,83.8 L486.7,83.7 L488.1,83.7 L489.5,83.6 L490.9,83.6 L492.4,83.5 L493.8,83.5 L495.2,83.4 L496.6,83.4 L498.1,83.4 L499.5,83.3 L500.9,83.3 L502.3,83.3 L503.8,83.2 L505.2,83.2 L506.6,83.2 L508,83.2 L509.4,83.1 L510.9,83.1 L512.3,83.1 L513.7,83.1 L515.1,83.1 L516.6,83.1 L518,83 L519.4,83 L520.8,83 L522.3,83 L523.7,83 L525.1,83 L526.5,83 L527.9,82.9 L529.4,82.9 L530.8,82.9 L532.2,82.9 L533.6,82.9 L535.1,82.9 L536.5,82.9 L537.9,82.9 L539.3,82.9 L540.8,82.9 L542.2,82.9 L543.6,82.9 L545,82.8 L546.4,82.8 L547.9,82.8 L549.3,82.8 L550.7,82.8 L552.1,82.8 L553.6,82.8 L555,82.8 L556.4,82.8 L557.8,82.8 L559.3,82.8 L560.7,82.8 L562.1,82.8 L563.5,82.8 L564.9,82.8 L566.4,82.8 L567.8,82.8 L569.2,82.8 L570.6,82.8 L572.1,82.8 L573.5,82.8 L574.9,82.8 L576.3,82.8 L577.8,82.8 L579.2,82.8 L580.6,82.8 L582,82.8 L583.4,82.8 L584.9,82.8 L586.3,82.8 L587.7,82.8 L589.1,82.8 L590.6,82.8 L592,82.8 L593.4,82.8 L594.8,82.8 L596.3,82.8 L597.7,82.8 L599.1,82.8 L600.5,82.8 L601.9,82.8 L603.4,82.8 L604.8,82.8 L606.2,82.8 L607.6,82.8 L609.1,82.8 L610.5,82.8 L611.9,82.8 L613.3,82.8 L614.8,82.8 L616.2,82.8 L617.6,82.7 L619,82.7 L620.4,82.7 L621.9,82.7 L623.3,82.7 L624.7,82.7 L626.1,82.7 L627.6,82.7 L629,82.7 L630.4,82.7 L631.8,82.7 L633.3,82.7 L634.7,82.7 L636.1,82.7 L637.5,82.7 L638.9,82.7 L640.4,82.7 L641.8,82.7 L643.2,82.7 L644.6,82.7 L646.1,82.7 L647.5,82.7 L648.9,82.7 L650.3,82.7 L651.8,82.7 L653.2,82.7 L654.6,82.7 L656,82.7 L657.4,82.7 L658.9,82.7 L660.3,82.7 L661.7,82.7 L663.1,82.7 L664.6,82.7 L666,82.7" fill="none" stroke="#14141f" stroke-width="3.7"/></g>
<g clip-path="url(#ca2)" stroke-linejoin="round"><path d="M96.8,550.8 L98.2,550.8 L99.6,550.8 L101,550.8 L102.4,550.8 L103.9,550.8 L105.3,550.8 L106.7,550.8 L108.1,550.8 L109.6,550.8 L111,550.8 L112.4,550.7 L113.8,550.7 L115.3,550.7 L116.7,550.7 L118.1,550.7 L119.5,550.7 L120.9,550.7 L122.4,550.7 L123.8,550.7 L125.2,550.7 L126.6,550.7 L128.1,550.7 L129.5,550.6 L130.9,550.6 L132.3,550.6 L133.8,550.6 L135.2,550.6 L136.6,550.6 L138,550.6 L139.4,550.6 L140.9,550.6 L142.3,550.5 L143.7,550.5 L145.1,550.5 L146.6,550.5 L148,550.5 L149.4,550.5 L150.8,550.5 L152.3,550.4 L153.7,550.4 L155.1,550.4 L156.5,550.4 L157.9,550.4 L159.4,550.4 L160.8,550.3 L162.2,550.3 L163.6,550.3 L165.1,550.3 L166.5,550.3 L167.9,550.2 L169.3,550.2 L170.8,550.2 L172.2,550.2 L173.6,550.1 L175,550.1 L176.4,550.1 L177.9,550.1 L179.3,550 L180.7,550 L182.1,550 L183.6,550 L185,549.9 L186.4,549.9 L187.8,549.9 L189.3,549.8 L190.7,549.8 L192.1,549.8 L193.5,549.7 L194.9,549.7 L196.4,549.7 L197.8,549.6 L199.2,549.6 L200.6,549.5 L202.1,549.5 L203.5,549.4 L204.9,549.4 L206.3,549.4 L207.8,549.3 L209.2,549.3 L210.6,549.2 L212,549.1 L213.4,549.1 L214.9,549 L216.3,549 L217.7,548.9 L219.1,548.9 L220.6,548.8 L222,548.7 L223.4,548.7 L224.8,548.6 L226.3,548.5 L227.7,548.4 L229.1,548.3 L230.5,548.3 L231.9,548.2 L233.4,548.1 L234.8,548 L236.2,547.9 L237.6,547.8 L239.1,547.7 L240.5,547.6 L241.9,547.5 L243.3,547.4 L244.8,547.3 L246.2,547.1 L247.6,547 L249,546.9 L250.4,546.8 L251.9,546.6 L253.3,546.5 L254.7,546.3 L256.1,546.2 L257.6,546 L259,545.8 L260.4,545.6 L261.8,545.5 L263.3,545.3 L264.7,545.1 L266.1,544.9 L267.5,544.6 L268.9,544.4 L270.4,544.2 L271.8,543.9 L273.2,543.7 L274.6,543.4 L276.1,543.2 L277.5,542.9 L278.9,542.6 L280.3,542.3 L281.8,542 L283.2,541.7 L284.6,541.3 L286,541 L287.4,540.7 L288.9,540.3 L290.3,539.9 L291.7,539.6 L293.1,539.2 L294.6,538.8 L296,538.4 L297.4,538 L298.8,537.6 L300.3,537.2 L301.7,536.8 L303.1,536.4 L304.5,535.9 L305.9,535.5 L307.4,535.1 L308.8,534.7 L310.2,534.2 L311.6,533.8 L313.1,533.4 L314.5,533 L315.9,532.6 L317.3,532.2 L318.8,531.8 L320.2,531.4 L321.6,531 L323,530.6 L324.4,530.3 L325.9,529.9 L327.3,529.6 L328.7,529.3 L330.1,529 L331.6,528.7 L333,528.4 L334.4,528.1 L335.8,527.9 L337.3,527.7 L338.7,527.4 L340.1,527.3 L341.5,527.1 L342.9,526.9 L344.4,526.8 L345.8,526.7 L347.2,526.6 L348.6,526.5 L350.1,526.5 L351.5,526.5 L352.9,526.4 L354.3,526.5 L355.8,526.5 L357.2,526.5 L358.6,526.6 L360,526.7 L361.4,526.8 L362.9,526.9 L364.3,527 L365.7,527.2 L367.1,527.4 L368.6,527.5 L370,527.7 L371.4,527.9 L372.8,528.1 L374.3,528.4 L375.7,528.6 L377.1,528.9 L378.5,529.1 L379.9,529.4 L381.4,529.7 L382.8,529.9 L384.2,530.2 L385.6,530.5 L387.1,530.8 L388.5,531.1 L389.9,531.4 L391.3,531.7 L392.8,532 L394.2,532.3 L395.6,532.6 L397,532.9 L398.4,533.2 L399.9,533.5 L401.3,533.8 L402.7,534.1 L404.1,534.4 L405.6,534.7 L407,535 L408.4,535.3 L409.8,535.5 L411.3,535.8 L412.7,536.1 L414.1,536.4 L415.5,536.6 L416.9,536.9 L418.4,537.2 L419.8,537.4 L421.2,537.7 L422.6,537.9 L424.1,538.2 L425.5,538.4 L426.9,538.6 L428.3,538.9 L429.8,539.1 L431.2,539.3 L432.6,539.5 L434,539.8 L435.4,540 L436.9,540.2 L438.3,540.4 L439.7,540.6 L441.1,540.7 L442.6,540.9 L444,541.1 L445.4,541.3 L446.8,541.5 L448.3,541.6 L449.7,541.8 L451.1,542 L452.5,542.1 L453.9,542.3 L455.4,542.4 L456.8,542.6 L458.2,542.7 L459.6,542.8 L461.1,543 L462.5,543.1 L463.9,543.2 L465.3,543.4 L466.8,543.5 L468.2,543.6 L469.6,543.7 L471,543.8 L472.4,544 L473.9,544.1 L475.3,544.2 L476.7,544.3 L478.1,544.4 L479.6,544.5 L481,544.6 L482.4,544.6 L483.8,544.7 L485.3,544.8 L486.7,544.9 L488.1,545 L489.5,545.1 L490.9,545.1 L492.4,545.2 L493.8,545.3 L495.2,545.4 L496.6,545.4 L498.1,545.5 L499.5,545.6 L500.9,545.6 L502.3,545.7 L503.8,545.8 L505.2,545.8 L506.6,545.9 L508,545.9 L509.4,546 L510.9,546 L512.3,546.1 L513.7,546.1 L515.1,546.2 L516.6,546.2 L518,546.3 L519.4,546.3 L520.8,546.4 L522.3,546.4 L523.7,546.5 L525.1,546.5 L526.5,546.5 L527.9,546.6 L529.4,546.6 L530.8,546.7 L532.2,546.7 L533.6,546.7 L535.1,546.8 L536.5,546.8 L537.9,546.8 L539.3,546.9 L540.8,546.9 L542.2,546.9 L543.6,546.9 L545,547 L546.4,547 L547.9,547 L549.3,547.1 L550.7,547.1 L552.1,547.1 L553.6,547.1 L555,547.1 L556.4,547.2 L557.8,547.2 L559.3,547.2 L560.7,547.2 L562.1,547.3 L563.5,547.3 L564.9,547.3 L566.4,547.3 L567.8,547.3 L569.2,547.3 L570.6,547.4 L572.1,547.4 L573.5,547.4 L574.9,547.4 L576.3,547.4 L577.8,547.4 L579.2,547.5 L580.6,547.5 L582,547.5 L583.4,547.5 L584.9,547.5 L586.3,547.5 L587.7,547.5 L589.1,547.5 L590.6,547.6 L592,547.6 L593.4,547.6 L594.8,547.6 L596.3,547.6 L597.7,547.6 L599.1,547.6 L600.5,547.6 L601.9,547.6 L603.4,547.6 L604.8,547.7 L606.2,547.7 L607.6,547.7 L609.1,547.7 L610.5,547.7 L611.9,547.7 L613.3,547.7 L614.8,547.7 L616.2,547.7 L617.6,547.7 L619,547.7 L620.4,547.7 L621.9,547.7 L623.3,547.7 L624.7,547.8 L626.1,547.8 L627.6,547.8 L629,547.8 L630.4,547.8 L631.8,547.8 L633.3,547.8 L634.7,547.8 L636.1,547.8 L637.5,547.8 L638.9,547.8 L640.4,547.8 L641.8,547.8 L643.2,547.8 L644.6,547.8 L646.1,547.8 L647.5,547.8 L648.9,547.8 L650.3,547.8 L651.8,547.8 L653.2,547.8 L654.6,547.8 L656,547.9 L657.4,547.9 L658.9,547.9 L660.3,547.9 L661.7,547.9 L663.1,547.9 L664.6,547.9 L666,547.9" fill="none" stroke="#b3191c" stroke-width="3.1"/><path d="M96.8,551 L98.2,551 L99.6,551 L101,551 L102.4,551 L103.9,551 L105.3,551 L106.7,551 L108.1,551 L109.6,551 L111,551 L112.4,551 L113.8,551 L115.3,551 L116.7,551 L118.1,551 L119.5,551 L120.9,551 L122.4,551 L123.8,551 L125.2,551 L126.6,551 L128.1,551 L129.5,551 L130.9,551 L132.3,551 L133.8,551 L135.2,551 L136.6,551 L138,551 L139.4,551 L140.9,551 L142.3,551 L143.7,551 L145.1,551.1 L146.6,551.1 L148,551.1 L149.4,551.1 L150.8,551.1 L152.3,551.1 L153.7,551.1 L155.1,551.2 L156.5,551.2 L157.9,551.2 L159.4,551.2 L160.8,551.2 L162.2,551.3 L163.6,551.3 L165.1,551.3 L166.5,551.4 L167.9,551.4 L169.3,551.5 L170.8,551.5 L172.2,551.6 L173.6,551.7 L175,551.7 L176.4,551.8 L177.9,551.9 L179.3,552 L180.7,552.1 L182.1,552.2 L183.6,552.3 L185,552.5 L186.4,552.6 L187.8,552.8 L189.3,553 L190.7,553.2 L192.1,553.5 L193.5,553.7 L194.9,553.9 L196.4,554.2 L197.8,554.5 L199.2,554.7 L200.6,554.9 L202.1,554.9 L203.5,554.8 L204.9,554.5 L206.3,554.1 L207.8,553.4 L209.2,552.6 L210.6,551.6 L212,550.6 L213.4,549.6 L214.9,548.5 L216.3,547.5 L217.7,546.4 L219.1,545.4 L220.6,544.4 L222,543.4 L223.4,542.4 L224.8,541.4 L226.3,540.4 L227.7,539.4 L229.1,538.5 L230.5,537.5 L231.9,536.6 L233.4,535.6 L234.8,534.6 L236.2,533.7 L237.6,532.7 L239.1,531.7 L240.5,530.7 L241.9,529.7 L243.3,528.7 L244.8,527.7 L246.2,526.7 L247.6,525.7 L249,524.6 L250.4,523.6 L251.9,522.5 L253.3,521.4 L254.7,520.3 L256.1,519.2 L257.6,518.1 L259,517 L260.4,515.8 L261.8,514.7 L263.3,513.5 L264.7,512.3 L266.1,511.1 L267.5,509.8 L268.9,508.6 L270.4,507.3 L271.8,506.1 L273.2,504.8 L274.6,503.5 L276.1,502.2 L277.5,500.8 L278.9,499.5 L280.3,498.1 L281.8,496.7 L283.2,495.4 L284.6,494 L286,492.6 L287.4,491.2 L288.9,489.7 L290.3,488.3 L291.7,486.9 L293.1,485.5 L294.6,484.1 L296,482.6 L297.4,481.2 L298.8,479.8 L300.3,478.4 L301.7,477 L303.1,475.6 L304.5,474.2 L305.9,472.9 L307.4,471.6 L308.8,470.3 L310.2,469 L311.6,467.7 L313.1,466.5 L314.5,465.3 L315.9,464.2 L317.3,463.1 L318.8,462.1 L320.2,461.1 L321.6,460.1 L323,459.2 L324.4,458.4 L325.9,457.6 L327.3,456.9 L328.7,456.2 L330.1,455.6 L331.6,455.1 L333,454.7 L334.4,454.3 L335.8,454 L337.3,453.8 L338.7,453.6 L340.1,453.5 L341.5,453.5 L342.9,453.6 L344.4,453.7 L345.8,453.9 L347.2,454.2 L348.6,454.6 L350.1,455 L351.5,455.5 L352.9,456.1 L354.3,456.7 L355.8,457.4 L357.2,458.2 L358.6,459 L360,459.9 L361.4,460.8 L362.9,461.8 L364.3,462.8 L365.7,463.8 L367.1,464.9 L368.6,466.1 L370,467.2 L371.4,468.4 L372.8,469.7 L374.3,470.9 L375.7,472.2 L377.1,473.5 L378.5,474.8 L379.9,476.1 L381.4,477.4 L382.8,478.8 L384.2,480.1 L385.6,481.4 L387.1,482.8 L388.5,484.1 L389.9,485.5 L391.3,486.8 L392.8,488.1 L394.2,489.4 L395.6,490.7 L397,492 L398.4,493.3 L399.9,494.6 L401.3,495.9 L402.7,497.1 L404.1,498.3 L405.6,499.5 L407,500.7 L408.4,501.9 L409.8,503.1 L411.3,504.2 L412.7,505.3 L414.1,506.4 L415.5,507.5 L416.9,508.6 L418.4,509.6 L419.8,510.6 L421.2,511.6 L422.6,512.6 L424.1,513.6 L425.5,514.5 L426.9,515.4 L428.3,516.3 L429.8,517.2 L431.2,518.1 L432.6,518.9 L434,519.7 L435.4,520.5 L436.9,521.3 L438.3,522.1 L439.7,522.8 L441.1,523.6 L442.6,524.3 L444,525 L445.4,525.6 L446.8,526.3 L448.3,527 L449.7,527.6 L451.1,528.2 L452.5,528.8 L453.9,529.4 L455.4,530 L456.8,530.5 L458.2,531 L459.6,531.6 L461.1,532.1 L462.5,532.6 L463.9,533.1 L465.3,533.6 L466.8,534 L468.2,534.5 L469.6,534.9 L471,535.3 L472.4,535.8 L473.9,536.2 L475.3,536.6 L476.7,536.9 L478.1,537.3 L479.6,537.7 L481,538 L482.4,538.4 L483.8,538.7 L485.3,539.1 L486.7,539.4 L488.1,539.7 L489.5,540 L490.9,540.3 L492.4,540.6 L493.8,540.8 L495.2,541.1 L496.6,541.4 L498.1,541.6 L499.5,541.9 L500.9,542.1 L502.3,542.4 L503.8,542.6 L505.2,542.8 L506.6,543 L508,543.3 L509.4,543.5 L510.9,543.7 L512.3,543.9 L513.7,544 L515.1,544.2 L516.6,544.4 L518,544.6 L519.4,544.8 L520.8,544.9 L522.3,545.1 L523.7,545.2 L525.1,545.4 L526.5,545.5 L527.9,545.7 L529.4,545.8 L530.8,546 L532.2,546.1 L533.6,546.2 L535.1,546.4 L536.5,546.5 L537.9,546.6 L539.3,546.7 L540.8,546.8 L542.2,546.9 L543.6,547.1 L545,547.2 L546.4,547.3 L547.9,547.4 L549.3,547.5 L550.7,547.5 L552.1,547.6 L553.6,547.7 L555,547.8 L556.4,547.9 L557.8,548 L559.3,548.1 L560.7,548.1 L562.1,548.2 L563.5,548.3 L564.9,548.4 L566.4,548.4 L567.8,548.5 L569.2,548.6 L570.6,548.6 L572.1,548.7 L573.5,548.7 L574.9,548.8 L576.3,548.9 L577.8,548.9 L579.2,549 L580.6,549 L582,549.1 L583.4,549.1 L584.9,549.2 L586.3,549.2 L587.7,549.3 L589.1,549.3 L590.6,549.3 L592,549.4 L593.4,549.4 L594.8,549.5 L596.3,549.5 L597.7,549.5 L599.1,549.6 L600.5,549.6 L601.9,549.7 L603.4,549.7 L604.8,549.7 L606.2,549.8 L607.6,549.8 L609.1,549.8 L610.5,549.8 L611.9,549.9 L613.3,549.9 L614.8,549.9 L616.2,550 L617.6,550 L619,550 L620.4,550 L621.9,550.1 L623.3,550.1 L624.7,550.1 L626.1,550.1 L627.6,550.1 L629,550.2 L630.4,550.2 L631.8,550.2 L633.3,550.2 L634.7,550.2 L636.1,550.3 L637.5,550.3 L638.9,550.3 L640.4,550.3 L641.8,550.3 L643.2,550.3 L644.6,550.4 L646.1,550.4 L647.5,550.4 L648.9,550.4 L650.3,550.4 L651.8,550.4 L653.2,550.4 L654.6,550.5 L656,550.5 L657.4,550.5 L658.9,550.5 L660.3,550.5 L661.7,550.5 L663.1,550.5 L664.6,550.5 L666,550.5" fill="none" stroke="#e2603f" stroke-width="3.1"/><path d="M96.8,551 L98.2,551 L99.6,551 L101,551 L102.4,551 L103.9,551 L105.3,551 L106.7,551 L108.1,551 L109.6,551 L111,551 L112.4,551 L113.8,551 L115.3,551 L116.7,551 L118.1,551 L119.5,551 L120.9,551 L122.4,551 L123.8,551 L125.2,551 L126.6,551 L128.1,551 L129.5,551 L130.9,551 L132.3,551.1 L133.8,551.1 L135.2,551.1 L136.6,551.1 L138,551.1 L139.4,551.1 L140.9,551.2 L142.3,551.2 L143.7,551.2 L145.1,551.2 L146.6,551.3 L148,551.3 L149.4,551.4 L150.8,551.4 L152.3,551.5 L153.7,551.5 L155.1,551.6 L156.5,551.7 L157.9,551.7 L159.4,551.8 L160.8,551.9 L162.2,552 L163.6,552.1 L165.1,552.3 L166.5,552.4 L167.9,552.6 L169.3,552.8 L170.8,553 L172.2,553.3 L173.6,553.5 L175,553.8 L176.4,554.2 L177.9,554.6 L179.3,555 L180.7,555.4 L182.1,555.9 L183.6,556.4 L185,556.7 L186.4,556.9 L187.8,556.7 L189.3,556.1 L190.7,555.2 L192.1,554.1 L193.5,552.8 L194.9,551.6 L196.4,550.3 L197.8,549.1 L199.2,547.8 L200.6,546.7 L202.1,545.5 L203.5,544.4 L204.9,543.4 L206.3,542.3 L207.8,541.3 L209.2,540.2 L210.6,539.2 L212,538.2 L213.4,537.2 L214.9,536.2 L216.3,535.2 L217.7,534.2 L219.1,533.2 L220.6,532.2 L222,531.1 L223.4,530.1 L224.8,529.1 L226.3,528 L227.7,527 L229.1,525.9 L230.5,524.8 L231.9,523.7 L233.4,522.6 L234.8,521.5 L236.2,520.4 L237.6,519.2 L239.1,518 L240.5,516.8 L241.9,515.6 L243.3,514.4 L244.8,513.1 L246.2,511.8 L247.6,510.5 L249,509.2 L250.4,507.9 L251.9,506.5 L253.3,505.1 L254.7,503.7 L256.1,502.3 L257.6,500.8 L259,499.3 L260.4,497.8 L261.8,496.3 L263.3,494.7 L264.7,493.1 L266.1,491.5 L267.5,489.8 L268.9,488.2 L270.4,486.5 L271.8,484.8 L273.2,483 L274.6,481.3 L276.1,479.5 L277.5,477.7 L278.9,475.8 L280.3,474 L281.8,472.1 L283.2,470.2 L284.6,468.3 L286,466.4 L287.4,464.5 L288.9,462.5 L290.3,460.6 L291.7,458.6 L293.1,456.6 L294.6,454.7 L296,452.7 L297.4,450.7 L298.8,448.8 L300.3,446.8 L301.7,444.9 L303.1,443 L304.5,441.1 L305.9,439.2 L307.4,437.4 L308.8,435.6 L310.2,433.8 L311.6,432.1 L313.1,430.4 L314.5,428.8 L315.9,427.2 L317.3,425.7 L318.8,424.3 L320.2,422.9 L321.6,421.6 L323,420.3 L324.4,419.2 L325.9,418.1 L327.3,417.1 L328.7,416.2 L330.1,415.4 L331.6,414.7 L333,414.1 L334.4,413.5 L335.8,413.1 L337.3,412.8 L338.7,412.6 L340.1,412.5 L341.5,412.6 L342.9,412.7 L344.4,412.9 L345.8,413.2 L347.2,413.7 L348.6,414.2 L350.1,414.8 L351.5,415.5 L352.9,416.4 L354.3,417.3 L355.8,418.3 L357.2,419.4 L358.6,420.5 L360,421.8 L361.4,423.1 L362.9,424.5 L364.3,425.9 L365.7,427.4 L367.1,429 L368.6,430.6 L370,432.3 L371.4,434 L372.8,435.7 L374.3,437.5 L375.7,439.3 L377.1,441.1 L378.5,443 L379.9,444.9 L381.4,446.7 L382.8,448.6 L384.2,450.5 L385.6,452.4 L387.1,454.3 L388.5,456.2 L389.9,458.1 L391.3,460 L392.8,461.9 L394.2,463.8 L395.6,465.6 L397,467.5 L398.4,469.3 L399.9,471.1 L401.3,472.9 L402.7,474.7 L404.1,476.4 L405.6,478.1 L407,479.8 L408.4,481.5 L409.8,483.1 L411.3,484.7 L412.7,486.3 L414.1,487.9 L415.5,489.4 L416.9,490.9 L418.4,492.4 L419.8,493.8 L421.2,495.3 L422.6,496.6 L424.1,498 L425.5,499.3 L426.9,500.6 L428.3,501.9 L429.8,503.2 L431.2,504.4 L432.6,505.6 L434,506.7 L435.4,507.9 L436.9,509 L438.3,510.1 L439.7,511.1 L441.1,512.2 L442.6,513.2 L444,514.2 L445.4,515.1 L446.8,516.1 L448.3,517 L449.7,517.9 L451.1,518.8 L452.5,519.6 L453.9,520.4 L455.4,521.3 L456.8,522 L458.2,522.8 L459.6,523.6 L461.1,524.3 L462.5,525 L463.9,525.7 L465.3,526.4 L466.8,527 L468.2,527.7 L469.6,528.3 L471,528.9 L472.4,529.5 L473.9,530.1 L475.3,530.6 L476.7,531.2 L478.1,531.7 L479.6,532.2 L481,532.7 L482.4,533.2 L483.8,533.7 L485.3,534.2 L486.7,534.6 L488.1,535 L489.5,535.5 L490.9,535.9 L492.4,536.3 L493.8,536.7 L495.2,537.1 L496.6,537.5 L498.1,537.8 L499.5,538.2 L500.9,538.5 L502.3,538.9 L503.8,539.2 L505.2,539.5 L506.6,539.8 L508,540.1 L509.4,540.4 L510.9,540.7 L512.3,541 L513.7,541.2 L515.1,541.5 L516.6,541.8 L518,542 L519.4,542.2 L520.8,542.5 L522.3,542.7 L523.7,542.9 L525.1,543.2 L526.5,543.4 L527.9,543.6 L529.4,543.8 L530.8,544 L532.2,544.2 L533.6,544.3 L535.1,544.5 L536.5,544.7 L537.9,544.9 L539.3,545 L540.8,545.2 L542.2,545.3 L543.6,545.5 L545,545.6 L546.4,545.8 L547.9,545.9 L549.3,546.1 L550.7,546.2 L552.1,546.3 L553.6,546.4 L555,546.6 L556.4,546.7 L557.8,546.8 L559.3,546.9 L560.7,547 L562.1,547.1 L563.5,547.2 L564.9,547.3 L566.4,547.4 L567.8,547.5 L569.2,547.6 L570.6,547.7 L572.1,547.8 L573.5,547.9 L574.9,548 L576.3,548.1 L577.8,548.1 L579.2,548.2 L580.6,548.3 L582,548.4 L583.4,548.4 L584.9,548.5 L586.3,548.6 L587.7,548.6 L589.1,548.7 L590.6,548.7 L592,548.8 L593.4,548.9 L594.8,548.9 L596.3,549 L597.7,549 L599.1,549.1 L600.5,549.1 L601.9,549.2 L603.4,549.2 L604.8,549.3 L606.2,549.3 L607.6,549.4 L609.1,549.4 L610.5,549.5 L611.9,549.5 L613.3,549.5 L614.8,549.6 L616.2,549.6 L617.6,549.6 L619,549.7 L620.4,549.7 L621.9,549.7 L623.3,549.8 L624.7,549.8 L626.1,549.8 L627.6,549.9 L629,549.9 L630.4,549.9 L631.8,550 L633.3,550 L634.7,550 L636.1,550 L637.5,550.1 L638.9,550.1 L640.4,550.1 L641.8,550.1 L643.2,550.2 L644.6,550.2 L646.1,550.2 L647.5,550.2 L648.9,550.2 L650.3,550.3 L651.8,550.3 L653.2,550.3 L654.6,550.3 L656,550.3 L657.4,550.3 L658.9,550.4 L660.3,550.4 L661.7,550.4 L663.1,550.4 L664.6,550.4 L666,550.4" fill="none" stroke="#eda25e" stroke-width="3.1"/><path d="M96.8,551 L98.2,551 L99.6,551 L101,551 L102.4,551 L103.9,551 L105.3,551 L106.7,551 L108.1,551 L109.6,551 L111,551 L112.4,551 L113.8,551 L115.3,551.1 L116.7,551.1 L118.1,551.1 L119.5,551.1 L120.9,551.1 L122.4,551.1 L123.8,551.1 L125.2,551.2 L126.6,551.2 L128.1,551.2 L129.5,551.2 L130.9,551.2 L132.3,551.3 L133.8,551.3 L135.2,551.3 L136.6,551.4 L138,551.4 L139.4,551.5 L140.9,551.5 L142.3,551.6 L143.7,551.7 L145.1,551.7 L146.6,551.8 L148,551.9 L149.4,552 L150.8,552.1 L152.3,552.2 L153.7,552.4 L155.1,552.5 L156.5,552.7 L157.9,552.9 L159.4,553.1 L160.8,553.4 L162.2,553.7 L163.6,554 L165.1,554.4 L166.5,554.8 L167.9,555.3 L169.3,555.9 L170.8,556.5 L172.2,557.2 L173.6,557.8 L175,558.3 L176.4,558.4 L177.9,557.9 L179.3,556.9 L180.7,555.6 L182.1,554.1 L183.6,552.7 L185,551.3 L186.4,549.9 L187.8,548.6 L189.3,547.4 L190.7,546.2 L192.1,545.1 L193.5,544 L194.9,542.9 L196.4,541.8 L197.8,540.8 L199.2,539.7 L200.6,538.7 L202.1,537.7 L203.5,536.7 L204.9,535.7 L206.3,534.7 L207.8,533.6 L209.2,532.6 L210.6,531.6 L212,530.6 L213.4,529.5 L214.9,528.5 L216.3,527.4 L217.7,526.3 L219.1,525.3 L220.6,524.2 L222,523.1 L223.4,521.9 L224.8,520.8 L226.3,519.6 L227.7,518.4 L229.1,517.2 L230.5,516 L231.9,514.8 L233.4,513.5 L234.8,512.2 L236.2,510.9 L237.6,509.5 L239.1,508.2 L240.5,506.8 L241.9,505.4 L243.3,503.9 L244.8,502.4 L246.2,500.9 L247.6,499.4 L249,497.8 L250.4,496.2 L251.9,494.6 L253.3,493 L254.7,491.3 L256.1,489.6 L257.6,487.8 L259,486 L260.4,484.2 L261.8,482.4 L263.3,480.5 L264.7,478.6 L266.1,476.6 L267.5,474.7 L268.9,472.7 L270.4,470.6 L271.8,468.5 L273.2,466.4 L274.6,464.3 L276.1,462.1 L277.5,459.9 L278.9,457.7 L280.3,455.5 L281.8,453.2 L283.2,450.9 L284.6,448.6 L286,446.3 L287.4,443.9 L288.9,441.6 L290.3,439.2 L291.7,436.8 L293.1,434.4 L294.6,432 L296,429.7 L297.4,427.3 L298.8,424.9 L300.3,422.5 L301.7,420.2 L303.1,417.9 L304.5,415.6 L305.9,413.3 L307.4,411 L308.8,408.8 L310.2,406.7 L311.6,404.6 L313.1,402.5 L314.5,400.6 L315.9,398.6 L317.3,396.8 L318.8,395 L320.2,393.3 L321.6,391.7 L323,390.2 L324.4,388.8 L325.9,387.5 L327.3,386.3 L328.7,385.2 L330.1,384.2 L331.6,383.4 L333,382.6 L334.4,382 L335.8,381.5 L337.3,381.1 L338.7,380.9 L340.1,380.8 L341.5,380.8 L342.9,381 L344.4,381.3 L345.8,381.7 L347.2,382.2 L348.6,382.9 L350.1,383.7 L351.5,384.6 L352.9,385.6 L354.3,386.7 L355.8,387.9 L357.2,389.3 L358.6,390.7 L360,392.2 L361.4,393.9 L362.9,395.6 L364.3,397.3 L365.7,399.2 L367.1,401.1 L368.6,403.1 L370,405.2 L371.4,407.3 L372.8,409.4 L374.3,411.6 L375.7,413.8 L377.1,416 L378.5,418.3 L379.9,420.6 L381.4,422.9 L382.8,425.3 L384.2,427.6 L385.6,429.9 L387.1,432.3 L388.5,434.6 L389.9,437 L391.3,439.3 L392.8,441.6 L394.2,443.9 L395.6,446.2 L397,448.4 L398.4,450.7 L399.9,452.9 L401.3,455.1 L402.7,457.3 L404.1,459.4 L405.6,461.5 L407,463.6 L408.4,465.6 L409.8,467.6 L411.3,469.6 L412.7,471.6 L414.1,473.5 L415.5,475.4 L416.9,477.2 L418.4,479 L419.8,480.8 L421.2,482.6 L422.6,484.3 L424.1,485.9 L425.5,487.6 L426.9,489.2 L428.3,490.7 L429.8,492.3 L431.2,493.8 L432.6,495.2 L434,496.7 L435.4,498.1 L436.9,499.4 L438.3,500.8 L439.7,502.1 L441.1,503.3 L442.6,504.6 L444,505.8 L445.4,507 L446.8,508.1 L448.3,509.3 L449.7,510.4 L451.1,511.4 L452.5,512.5 L453.9,513.5 L455.4,514.5 L456.8,515.5 L458.2,516.4 L459.6,517.3 L461.1,518.2 L462.5,519.1 L463.9,519.9 L465.3,520.8 L466.8,521.6 L468.2,522.4 L469.6,523.1 L471,523.9 L472.4,524.6 L473.9,525.3 L475.3,526 L476.7,526.7 L478.1,527.3 L479.6,528 L481,528.6 L482.4,529.2 L483.8,529.8 L485.3,530.3 L486.7,530.9 L488.1,531.4 L489.5,532 L490.9,532.5 L492.4,533 L493.8,533.5 L495.2,533.9 L496.6,534.4 L498.1,534.8 L499.5,535.3 L500.9,535.7 L502.3,536.1 L503.8,536.5 L505.2,536.9 L506.6,537.3 L508,537.7 L509.4,538 L510.9,538.4 L512.3,538.7 L513.7,539 L515.1,539.4 L516.6,539.7 L518,540 L519.4,540.3 L520.8,540.6 L522.3,540.8 L523.7,541.1 L525.1,541.4 L526.5,541.6 L527.9,541.9 L529.4,542.1 L530.8,542.4 L532.2,542.6 L533.6,542.8 L535.1,543.1 L536.5,543.3 L537.9,543.5 L539.3,543.7 L540.8,543.9 L542.2,544.1 L543.6,544.3 L545,544.4 L546.4,544.6 L547.9,544.8 L549.3,545 L550.7,545.1 L552.1,545.3 L553.6,545.4 L555,545.6 L556.4,545.7 L557.8,545.9 L559.3,546 L560.7,546.1 L562.1,546.3 L563.5,546.4 L564.9,546.5 L566.4,546.7 L567.8,546.8 L569.2,546.9 L570.6,547 L572.1,547.1 L573.5,547.2 L574.9,547.3 L576.3,547.4 L577.8,547.5 L579.2,547.6 L580.6,547.7 L582,547.8 L583.4,547.9 L584.9,547.9 L586.3,548 L587.7,548.1 L589.1,548.2 L590.6,548.3 L592,548.3 L593.4,548.4 L594.8,548.5 L596.3,548.5 L597.7,548.6 L599.1,548.7 L600.5,548.7 L601.9,548.8 L603.4,548.9 L604.8,548.9 L606.2,549 L607.6,549 L609.1,549.1 L610.5,549.1 L611.9,549.2 L613.3,549.2 L614.8,549.3 L616.2,549.3 L617.6,549.4 L619,549.4 L620.4,549.4 L621.9,549.5 L623.3,549.5 L624.7,549.6 L626.1,549.6 L627.6,549.6 L629,549.7 L630.4,549.7 L631.8,549.7 L633.3,549.8 L634.7,549.8 L636.1,549.8 L637.5,549.9 L638.9,549.9 L640.4,549.9 L641.8,550 L643.2,550 L644.6,550 L646.1,550 L647.5,550.1 L648.9,550.1 L650.3,550.1 L651.8,550.1 L653.2,550.2 L654.6,550.2 L656,550.2 L657.4,550.2 L658.9,550.2 L660.3,550.3 L661.7,550.3 L663.1,550.3 L664.6,550.3 L666,550.3" fill="none" stroke="#b7a3a6" stroke-width="3.1"/><path d="M96.8,551 L98.2,551 L99.6,551 L101,551 L102.4,551 L103.9,551.1 L105.3,551.1 L106.7,551.1 L108.1,551.1 L109.6,551.1 L111,551.1 L112.4,551.1 L113.8,551.1 L115.3,551.1 L116.7,551.2 L118.1,551.2 L119.5,551.2 L120.9,551.2 L122.4,551.3 L123.8,551.3 L125.2,551.3 L126.6,551.4 L128.1,551.4 L129.5,551.4 L130.9,551.5 L132.3,551.5 L133.8,551.6 L135.2,551.6 L136.6,551.7 L138,551.8 L139.4,551.9 L140.9,552 L142.3,552.1 L143.7,552.2 L145.1,552.3 L146.6,552.5 L148,552.7 L149.4,552.8 L150.8,553.1 L152.3,553.3 L153.7,553.6 L155.1,553.9 L156.5,554.2 L157.9,554.7 L159.4,555.1 L160.8,555.7 L162.2,556.3 L163.6,557 L165.1,557.8 L166.5,558.6 L167.9,559.3 L169.3,559.4 L170.8,558.8 L172.2,557.6 L173.6,556 L175,554.4 L176.4,552.9 L177.9,551.4 L179.3,550 L180.7,548.7 L182.1,547.4 L183.6,546.2 L185,545.1 L186.4,543.9 L187.8,542.8 L189.3,541.8 L190.7,540.7 L192.1,539.7 L193.5,538.7 L194.9,537.6 L196.4,536.6 L197.8,535.6 L199.2,534.6 L200.6,533.6 L202.1,532.6 L203.5,531.5 L204.9,530.5 L206.3,529.5 L207.8,528.4 L209.2,527.3 L210.6,526.3 L212,525.2 L213.4,524.1 L214.9,523 L216.3,521.8 L217.7,520.7 L219.1,519.5 L220.6,518.3 L222,517.1 L223.4,515.8 L224.8,514.6 L226.3,513.3 L227.7,512 L229.1,510.7 L230.5,509.3 L231.9,507.9 L233.4,506.5 L234.8,505.1 L236.2,503.6 L237.6,502.1 L239.1,500.6 L240.5,499 L241.9,497.4 L243.3,495.8 L244.8,494.2 L246.2,492.5 L247.6,490.7 L249,489 L250.4,487.2 L251.9,485.4 L253.3,483.5 L254.7,481.6 L256.1,479.6 L257.6,477.6 L259,475.6 L260.4,473.6 L261.8,471.5 L263.3,469.3 L264.7,467.2 L266.1,465 L267.5,462.7 L268.9,460.4 L270.4,458.1 L271.8,455.7 L273.2,453.3 L274.6,450.9 L276.1,448.4 L277.5,445.9 L278.9,443.4 L280.3,440.9 L281.8,438.3 L283.2,435.7 L284.6,433 L286,430.4 L287.4,427.7 L288.9,425 L290.3,422.3 L291.7,419.6 L293.1,416.8 L294.6,414.1 L296,411.4 L297.4,408.6 L298.8,405.9 L300.3,403.2 L301.7,400.5 L303.1,397.9 L304.5,395.2 L305.9,392.6 L307.4,390.1 L308.8,387.6 L310.2,385.1 L311.6,382.7 L313.1,380.4 L314.5,378.1 L315.9,375.9 L317.3,373.8 L318.8,371.7 L320.2,369.8 L321.6,368 L323,366.3 L324.4,364.6 L325.9,363.2 L327.3,361.8 L328.7,360.5 L330.1,359.4 L331.6,358.4 L333,357.6 L334.4,356.9 L335.8,356.3 L337.3,355.9 L338.7,355.7 L340.1,355.5 L341.5,355.6 L342.9,355.7 L344.4,356.1 L345.8,356.5 L347.2,357.2 L348.6,357.9 L350.1,358.8 L351.5,359.9 L352.9,361 L354.3,362.3 L355.8,363.8 L357.2,365.3 L358.6,366.9 L360,368.7 L361.4,370.6 L362.9,372.5 L364.3,374.6 L365.7,376.7 L367.1,378.9 L368.6,381.2 L370,383.6 L371.4,386 L372.8,388.4 L374.3,390.9 L375.7,393.5 L377.1,396.1 L378.5,398.7 L379.9,401.3 L381.4,404 L382.8,406.6 L384.2,409.3 L385.6,412 L387.1,414.7 L388.5,417.4 L389.9,420.1 L391.3,422.7 L392.8,425.4 L394.2,428 L395.6,430.7 L397,433.3 L398.4,435.8 L399.9,438.4 L401.3,440.9 L402.7,443.4 L404.1,445.8 L405.6,448.3 L407,450.7 L408.4,453 L409.8,455.3 L411.3,457.6 L412.7,459.8 L414.1,462 L415.5,464.2 L416.9,466.3 L418.4,468.4 L419.8,470.4 L421.2,472.4 L422.6,474.4 L424.1,476.3 L425.5,478.2 L426.9,480 L428.3,481.8 L429.8,483.6 L431.2,485.3 L432.6,487 L434,488.6 L435.4,490.2 L436.9,491.8 L438.3,493.3 L439.7,494.8 L441.1,496.3 L442.6,497.7 L444,499.1 L445.4,500.5 L446.8,501.8 L448.3,503.1 L449.7,504.4 L451.1,505.6 L452.5,506.8 L453.9,508 L455.4,509.1 L456.8,510.2 L458.2,511.3 L459.6,512.3 L461.1,513.4 L462.5,514.4 L463.9,515.4 L465.3,516.3 L466.8,517.2 L468.2,518.1 L469.6,519 L471,519.9 L472.4,520.7 L473.9,521.5 L475.3,522.3 L476.7,523.1 L478.1,523.8 L479.6,524.6 L481,525.3 L482.4,526 L483.8,526.6 L485.3,527.3 L486.7,527.9 L488.1,528.5 L489.5,529.2 L490.9,529.7 L492.4,530.3 L493.8,530.9 L495.2,531.4 L496.6,531.9 L498.1,532.5 L499.5,533 L500.9,533.4 L502.3,533.9 L503.8,534.4 L505.2,534.8 L506.6,535.3 L508,535.7 L509.4,536.1 L510.9,536.5 L512.3,536.9 L513.7,537.3 L515.1,537.6 L516.6,538 L518,538.4 L519.4,538.7 L520.8,539 L522.3,539.4 L523.7,539.7 L525.1,540 L526.5,540.3 L527.9,540.6 L529.4,540.8 L530.8,541.1 L532.2,541.4 L533.6,541.7 L535.1,541.9 L536.5,542.1 L537.9,542.4 L539.3,542.6 L540.8,542.8 L542.2,543.1 L543.6,543.3 L545,543.5 L546.4,543.7 L547.9,543.9 L549.3,544.1 L550.7,544.3 L552.1,544.5 L553.6,544.6 L555,544.8 L556.4,545 L557.8,545.1 L559.3,545.3 L560.7,545.4 L562.1,545.6 L563.5,545.7 L564.9,545.9 L566.4,546 L567.8,546.2 L569.2,546.3 L570.6,546.4 L572.1,546.5 L573.5,546.7 L574.9,546.8 L576.3,546.9 L577.8,547 L579.2,547.1 L580.6,547.2 L582,547.3 L583.4,547.4 L584.9,547.5 L586.3,547.6 L587.7,547.7 L589.1,547.8 L590.6,547.9 L592,548 L593.4,548 L594.8,548.1 L596.3,548.2 L597.7,548.3 L599.1,548.3 L600.5,548.4 L601.9,548.5 L603.4,548.6 L604.8,548.6 L606.2,548.7 L607.6,548.7 L609.1,548.8 L610.5,548.9 L611.9,548.9 L613.3,549 L614.8,549 L616.2,549.1 L617.6,549.1 L619,549.2 L620.4,549.2 L621.9,549.3 L623.3,549.3 L624.7,549.4 L626.1,549.4 L627.6,549.5 L629,549.5 L630.4,549.5 L631.8,549.6 L633.3,549.6 L634.7,549.7 L636.1,549.7 L637.5,549.7 L638.9,549.8 L640.4,549.8 L641.8,549.8 L643.2,549.9 L644.6,549.9 L646.1,549.9 L647.5,549.9 L648.9,550 L650.3,550 L651.8,550 L653.2,550.1 L654.6,550.1 L656,550.1 L657.4,550.1 L658.9,550.1 L660.3,550.2 L661.7,550.2 L663.1,550.2 L664.6,550.2 L666,550.3" fill="none" stroke="#40ade0" stroke-width="3.3"/><path d="M96.8,551.1 L98.2,551.1 L99.6,551.1 L101,551.1 L102.4,551.1 L103.9,551.2 L105.3,551.2 L106.7,551.2 L108.1,551.2 L109.6,551.2 L111,551.2 L112.4,551.3 L113.8,551.3 L115.3,551.3 L116.7,551.3 L118.1,551.4 L119.5,551.4 L120.9,551.5 L122.4,551.5 L123.8,551.5 L125.2,551.6 L126.6,551.7 L128.1,551.7 L129.5,551.8 L130.9,551.9 L132.3,551.9 L133.8,552 L135.2,552.1 L136.6,552.3 L138,552.4 L139.4,552.5 L140.9,552.7 L142.3,552.9 L143.7,553.1 L145.1,553.3 L146.6,553.6 L148,553.9 L149.4,554.3 L150.8,554.7 L152.3,555.1 L153.7,555.7 L155.1,556.3 L156.5,557.1 L157.9,557.9 L159.4,558.9 L160.8,559.8 L162.2,560.4 L163.6,560.2 L165.1,559.1 L166.5,557.5 L167.9,555.7 L169.3,554 L170.8,552.5 L172.2,551 L173.6,549.6 L175,548.3 L176.4,547.1 L177.9,545.9 L179.3,544.7 L180.7,543.6 L182.1,542.6 L183.6,541.5 L185,540.5 L186.4,539.4 L187.8,538.4 L189.3,537.4 L190.7,536.4 L192.1,535.4 L193.5,534.4 L194.9,533.3 L196.4,532.3 L197.8,531.3 L199.2,530.3 L200.6,529.2 L202.1,528.2 L203.5,527.1 L204.9,526 L206.3,524.9 L207.8,523.8 L209.2,522.7 L210.6,521.6 L212,520.4 L213.4,519.2 L214.9,518 L216.3,516.8 L217.7,515.6 L219.1,514.3 L220.6,513 L222,511.7 L223.4,510.4 L224.8,509 L226.3,507.6 L227.7,506.2 L229.1,504.7 L230.5,503.2 L231.9,501.7 L233.4,500.2 L234.8,498.6 L236.2,497 L237.6,495.3 L239.1,493.7 L240.5,491.9 L241.9,490.2 L243.3,488.4 L244.8,486.6 L246.2,484.7 L247.6,482.8 L249,480.8 L250.4,478.8 L251.9,476.8 L253.3,474.7 L254.7,472.6 L256.1,470.5 L257.6,468.3 L259,466 L260.4,463.7 L261.8,461.4 L263.3,459 L264.7,456.6 L266.1,454.2 L267.5,451.7 L268.9,449.1 L270.4,446.5 L271.8,443.9 L273.2,441.2 L274.6,438.5 L276.1,435.8 L277.5,433 L278.9,430.2 L280.3,427.3 L281.8,424.4 L283.2,421.5 L284.6,418.6 L286,415.6 L287.4,412.6 L288.9,409.6 L290.3,406.6 L291.7,403.5 L293.1,400.5 L294.6,397.5 L296,394.4 L297.4,391.4 L298.8,388.3 L300.3,385.3 L301.7,382.3 L303.1,379.3 L304.5,376.4 L305.9,373.5 L307.4,370.6 L308.8,367.8 L310.2,365.1 L311.6,362.4 L313.1,359.8 L314.5,357.2 L315.9,354.8 L317.3,352.4 L318.8,350.2 L320.2,348 L321.6,346 L323,344 L324.4,342.2 L325.9,340.6 L327.3,339 L328.7,337.6 L330.1,336.4 L331.6,335.3 L333,334.4 L334.4,333.6 L335.8,333 L337.3,332.5 L338.7,332.2 L340.1,332.1 L341.5,332.1 L342.9,332.3 L344.4,332.7 L345.8,333.2 L347.2,333.9 L348.6,334.8 L350.1,335.8 L351.5,337 L352.9,338.3 L354.3,339.7 L355.8,341.3 L357.2,343 L358.6,344.9 L360,346.9 L361.4,349 L362.9,351.1 L364.3,353.4 L365.7,355.8 L367.1,358.3 L368.6,360.9 L370,363.5 L371.4,366.2 L372.8,369 L374.3,371.8 L375.7,374.6 L377.1,377.5 L378.5,380.4 L379.9,383.4 L381.4,386.4 L382.8,389.4 L384.2,392.4 L385.6,395.4 L387.1,398.4 L388.5,401.4 L389.9,404.4 L391.3,407.4 L392.8,410.4 L394.2,413.3 L395.6,416.3 L397,419.2 L398.4,422.1 L399.9,424.9 L401.3,427.7 L402.7,430.5 L404.1,433.3 L405.6,436 L407,438.6 L408.4,441.3 L409.8,443.9 L411.3,446.4 L412.7,448.9 L414.1,451.4 L415.5,453.8 L416.9,456.2 L418.4,458.5 L419.8,460.8 L421.2,463 L422.6,465.2 L424.1,467.4 L425.5,469.5 L426.9,471.5 L428.3,473.5 L429.8,475.5 L431.2,477.4 L432.6,479.3 L434,481.2 L435.4,483 L436.9,484.7 L438.3,486.4 L439.7,488.1 L441.1,489.8 L442.6,491.4 L444,492.9 L445.4,494.4 L446.8,495.9 L448.3,497.4 L449.7,498.8 L451.1,500.2 L452.5,501.5 L453.9,502.8 L455.4,504.1 L456.8,505.3 L458.2,506.5 L459.6,507.7 L461.1,508.9 L462.5,510 L463.9,511.1 L465.3,512.2 L466.8,513.2 L468.2,514.2 L469.6,515.2 L471,516.2 L472.4,517.1 L473.9,518 L475.3,518.9 L476.7,519.7 L478.1,520.6 L479.6,521.4 L481,522.2 L482.4,523 L483.8,523.7 L485.3,524.5 L486.7,525.2 L488.1,525.9 L489.5,526.5 L490.9,527.2 L492.4,527.8 L493.8,528.5 L495.2,529.1 L496.6,529.7 L498.1,530.2 L499.5,530.8 L500.9,531.4 L502.3,531.9 L503.8,532.4 L505.2,532.9 L506.6,533.4 L508,533.9 L509.4,534.3 L510.9,534.8 L512.3,535.2 L513.7,535.6 L515.1,536.1 L516.6,536.5 L518,536.9 L519.4,537.2 L520.8,537.6 L522.3,538 L523.7,538.3 L525.1,538.7 L526.5,539 L527.9,539.3 L529.4,539.6 L530.8,539.9 L532.2,540.2 L533.6,540.5 L535.1,540.8 L536.5,541.1 L537.9,541.4 L539.3,541.6 L540.8,541.9 L542.2,542.1 L543.6,542.4 L545,542.6 L546.4,542.8 L547.9,543 L549.3,543.3 L550.7,543.5 L552.1,543.7 L553.6,543.9 L555,544.1 L556.4,544.3 L557.8,544.4 L559.3,544.6 L560.7,544.8 L562.1,545 L563.5,545.1 L564.9,545.3 L566.4,545.4 L567.8,545.6 L569.2,545.7 L570.6,545.9 L572.1,546 L573.5,546.1 L574.9,546.3 L576.3,546.4 L577.8,546.5 L579.2,546.6 L580.6,546.8 L582,546.9 L583.4,547 L584.9,547.1 L586.3,547.2 L587.7,547.3 L589.1,547.4 L590.6,547.5 L592,547.6 L593.4,547.7 L594.8,547.8 L596.3,547.9 L597.7,548 L599.1,548 L600.5,548.1 L601.9,548.2 L603.4,548.3 L604.8,548.3 L606.2,548.4 L607.6,548.5 L609.1,548.6 L610.5,548.6 L611.9,548.7 L613.3,548.7 L614.8,548.8 L616.2,548.9 L617.6,548.9 L619,549 L620.4,549 L621.9,549.1 L623.3,549.1 L624.7,549.2 L626.1,549.2 L627.6,549.3 L629,549.3 L630.4,549.4 L631.8,549.4 L633.3,549.5 L634.7,549.5 L636.1,549.5 L637.5,549.6 L638.9,549.6 L640.4,549.7 L641.8,549.7 L643.2,549.7 L644.6,549.8 L646.1,549.8 L647.5,549.8 L648.9,549.9 L650.3,549.9 L651.8,549.9 L653.2,549.9 L654.6,550 L656,550 L657.4,550 L658.9,550.1 L660.3,550.1 L661.7,550.1 L663.1,550.1 L664.6,550.1 L666,550.2" fill="none" stroke="#14141f" stroke-width="3.7"/></g>
<rect x="96.8" y="76.7" width="569.2" height="498.9" fill="none" stroke="#000" stroke-width="1.6"/>
<line x1="96.8" y1="326.2" x2="666.0" y2="326.2" stroke="#000" stroke-width="1.6"/>
<path d="M665.5,76.7v10.5M629.6,76.7v6.3M608.7,76.7v6.3M593.8,76.7v6.3M582.2,76.7v6.3M572.8,76.7v6.3M564.8,76.7v6.3M557.9,76.7v6.3M551.8,76.7v6.3M546.4,76.7v10.5M510.5,76.7v6.3M489.6,76.7v6.3M474.7,76.7v6.3M463.1,76.7v6.3M453.7,76.7v6.3M445.7,76.7v6.3M438.8,76.7v6.3M432.7,76.7v6.3M427.3,76.7v10.5M391.4,76.7v6.3M370.5,76.7v6.3M355.6,76.7v6.3M344,76.7v6.3M334.6,76.7v6.3M326.6,76.7v6.3M319.7,76.7v6.3M313.6,76.7v6.3M308.2,76.7v10.5M272.3,76.7v6.3M251.4,76.7v6.3M236.5,76.7v6.3M224.9,76.7v6.3M215.5,76.7v6.3M207.5,76.7v6.3M200.6,76.7v6.3M194.5,76.7v6.3M189.1,76.7v10.5M153.2,76.7v6.3M132.3,76.7v6.3M117.4,76.7v6.3M105.8,76.7v6.3M105.9,575.6v-5.3M113.9,575.6v-5.3M120.8,575.6v-5.3M126.9,575.6v-5.3M132.3,575.6v-9.3M168.2,575.6v-5.3M189.1,575.6v-5.3M204,575.6v-5.3M215.5,575.6v-5.3M225,575.6v-5.3M233,575.6v-5.3M239.9,575.6v-5.3M246,575.6v-5.3M251.4,575.6v-9.3M287.3,575.6v-5.3M308.2,575.6v-5.3M323.1,575.6v-5.3M334.6,575.6v-5.3M344.1,575.6v-5.3M352.1,575.6v-5.3M359,575.6v-5.3M365.1,575.6v-5.3M370.5,575.6v-9.3M406.4,575.6v-5.3M427.3,575.6v-5.3M442.2,575.6v-5.3M453.7,575.6v-5.3M463.2,575.6v-5.3M471.2,575.6v-5.3M478.1,575.6v-5.3M484.2,575.6v-5.3M489.6,575.6v-9.3M525.5,575.6v-5.3M546.4,575.6v-5.3M561.3,575.6v-5.3M572.8,575.6v-5.3M582.3,575.6v-5.3M590.3,575.6v-5.3M597.2,575.6v-5.3M603.3,575.6v-5.3M608.7,575.6v-9.3M644.6,575.6v-5.3M96.8,301.3h4M666.0,301.3h-4M96.8,276.3h7M666.0,276.3h-7M96.8,251.4h4M666.0,251.4h-4M96.8,226.4h7M666.0,226.4h-7M96.8,201.5h4M666.0,201.5h-4M96.8,176.6h7M666.0,176.6h-7M96.8,151.6h4M666.0,151.6h-4M96.8,126.7h7M666.0,126.7h-7M96.8,101.7h4M666.0,101.7h-4M96.8,551h7M666.0,551h-7M96.8,528.5h4M666.0,528.5h-4M96.8,506h7M666.0,506h-7M96.8,483.5h4M666.0,483.5h-4M96.8,461h7M666.0,461h-7M96.8,438.5h4M666.0,438.5h-4M96.8,416h7M666.0,416h-7M96.8,393.5h4M666.0,393.5h-4M96.8,371h7M666.0,371h-7M96.8,348.5h4M666.0,348.5h-4" stroke="#000" stroke-width="1.5" fill="none"/>
<text x="8.8" y="41.6" font-size="43.5" font-weight="bold" fill="#120808">(A)</text>
<text transform="translate(365.9,35) scale(1.015,1)" font-size="30" text-anchor="middle" fill="#000">Frequency (THz)</text>
<text transform="translate(192,64.8)" font-size="23" text-anchor="middle" fill="#000">100</text>
<text transform="translate(309.3,64.8)" font-size="23" text-anchor="middle" fill="#000">10</text>
<text transform="translate(425.6,64.8)" font-size="23" text-anchor="middle" fill="#000">1</text>
<text transform="translate(548.3,64.8)" font-size="23" text-anchor="middle" fill="#000">0.1</text>
<text transform="translate(652.9,64.8)" font-size="23" text-anchor="middle" fill="#000">0.01</text>
<text x="86.6" y="83.4" font-size="19" text-anchor="end" fill="#000">20</text>
<text x="86.6" y="133.3" font-size="19" text-anchor="end" fill="#000">16</text>
<text x="86.6" y="183.2" font-size="19" text-anchor="end" fill="#000">12</text>
<text x="86.6" y="233" font-size="19" text-anchor="end" fill="#000">8</text>
<text x="86.6" y="282.9" font-size="19" text-anchor="end" fill="#000">4</text>
<text x="86.6" y="336" font-size="19" text-anchor="end" fill="#000">10</text>
<text x="86.6" y="377.6" font-size="19" text-anchor="end" fill="#000">8</text>
<text x="86.6" y="422.6" font-size="19" text-anchor="end" fill="#000">6</text>
<text x="86.6" y="467.6" font-size="19" text-anchor="end" fill="#000">4</text>
<text x="86.6" y="512.6" font-size="19" text-anchor="end" fill="#000">2</text>
<text x="86.6" y="557.6" font-size="19" text-anchor="end" fill="#000">0</text>
<text transform="translate(51,179.9) rotate(-90)" font-size="29.5" text-anchor="middle" letter-spacing="0.9">Re(σ) (e<tspan font-size="19" dy="-10.5">2</tspan><tspan dy="10.5">/4ħ)</tspan></text>
<text transform="translate(51,440.6) rotate(-90)" font-size="29.5" text-anchor="middle" letter-spacing="0.45">Im(σ) (e<tspan font-size="19" dy="-10.5">2</tspan><tspan dy="10.5">/4ħ)</tspan></text>
<text transform="translate(651.2,104.2) scale(1.03,1)" font-size="25" text-anchor="end" fill="#000">0.34 eV</text>
<text transform="translate(651.2,133.4) scale(1.03,1)" font-size="25" text-anchor="end" fill="#000">0.30 eV</text>
<text transform="translate(651.2,164.6) scale(1.03,1)" font-size="25" text-anchor="end" fill="#000">0.26 eV</text>
<text transform="translate(651.2,200.7) scale(1.03,1)" font-size="25" text-anchor="end" fill="#000">0.21 eV</text>
<text transform="translate(651.2,237.3) scale(1.03,1)" font-size="25" text-anchor="end" fill="#000">0.15 eV</text>
<text transform="translate(651.2,315.1) scale(1.03,1)" font-size="25" text-anchor="end" fill="#000">0.02 eV</text>
<text transform="translate(138.6,354.6) scale(1.04,1)" font-size="25.5" text-anchor="middle" fill="#000">Vis</text>
<text transform="translate(142.6,385.5) scale(1.04,1)" font-size="25.5" text-anchor="middle" fill="#000">&amp; NIR</text>
<text transform="translate(246.3,354.6) scale(1.04,1)" font-size="25.5" text-anchor="middle" fill="#000">IR</text>
<text transform="translate(427.6,354.6) scale(1.04,1)" font-size="25.5" text-anchor="middle" fill="#000">THz</text>
<text transform="translate(599.9,354.8) scale(1.04,1)" font-size="25.5" text-anchor="middle" fill="#000">μwave</text>
<text transform="translate(137,605.2) scale(1.12,1)" font-size="20.5" text-anchor="middle" fill="#000">1μm</text>
<text transform="translate(246.1,605.2) scale(1.12,1)" font-size="20.5" text-anchor="middle" fill="#000">10μm</text>
<text transform="translate(363.2,605.2) scale(1.12,1)" font-size="20.5" text-anchor="middle" fill="#000">0.1mm</text>
<text transform="translate(488,605.2) scale(1.12,1)" font-size="20.5" text-anchor="middle" fill="#000">1mm</text>
<text transform="translate(614,605.2) scale(1.12,1)" font-size="20.5" text-anchor="middle" fill="#000">1cm</text>
<text transform="translate(367.8,638.6) scale(1.04,1)" font-size="29.5" text-anchor="middle" fill="#000">Wavelength (μm)</text>
<text x="704.8" y="41.2" font-size="43.5" font-weight="bold" fill="#120808">(B)</text>
<defs><filter id="grain" x="0" y="0" width="100%" height="100%"><feTurbulence type="fractalNoise" baseFrequency="0.7" numOctaves="2" seed="3" result="n"/><feColorMatrix in="n" type="matrix" values="0 0 0 0 1  0 0 0 0 0.86  0 0 0 0 0.6  9 0 0 0 -5.7" result="m"/><feComposite in="m" in2="SourceGraphic" operator="in"/></filter><filter id="grain2" x="0" y="0" width="100%" height="100%"><feTurbulence type="fractalNoise" baseFrequency="0.45" numOctaves="2" seed="9" result="n"/><feColorMatrix in="n" type="matrix" values="0 0 0 0 0.35  0 0 0 0 0.08  0 0 0 0 0.04  5 0 0 0 -2.6" result="m"/><feComposite in="m" in2="SourceGraphic" operator="in"/></filter><linearGradient id="afmcb" x1="0" y1="0" x2="0" y2="1"><stop offset="0" stop-color="#fdf9f0"/><stop offset="0.12" stop-color="#f8e6c8"/><stop offset="0.27" stop-color="#f0c07a"/><stop offset="0.38" stop-color="#d98a48"/><stop offset="0.5" stop-color="#b45a30"/><stop offset="0.64" stop-color="#86281a"/><stop offset="0.8" stop-color="#4e2218"/><stop offset="1" stop-color="#1c120e"/></linearGradient></defs>
<rect x="745" y="54.4" width="194" height="194" fill="#c95f2b"/>
<rect x="773" y="54.4" width="27.3" height="194" fill="#8e2519"/>
<rect x="828.8" y="54.4" width="25.8" height="194" fill="#8e2519"/>
<rect x="884.6" y="54.4" width="25.9" height="194" fill="#8e2519"/>
<rect x="745" y="54.4" width="194" height="194" fill="#fff" filter="url(#grain2)" opacity="0.35"/>
<rect x="745" y="54.4" width="194" height="194" fill="#fff" filter="url(#grain)" opacity="0.45"/>
<rect x="855.3" y="224.2" width="55.1" height="3.1" fill="#1e1e22"/>
<text x="860" y="215.8" font-size="22.5" fill="#1c1a1e">8<tspan dx="3.5">μm</tspan></text>
<rect x="975.8" y="77.8" width="27.1" height="146.2" fill="url(#afmcb)"/>
<rect x="975.8" y="77.8" width="27.1" height="146.2" fill="none" stroke="#5a4a44" stroke-width="0.8"/>
<path d="M965.6,77.8H975.8M970.7,102.2H975.8M970.7,126.5H975.8M970.7,150.9H975.8M970.7,175.3H975.8M970.7,199.7H975.8M965.6,224H975.8M975.8,77.8V224" stroke="#3a3030" stroke-width="1.2" fill="none"/>
<text x="958.5" y="70.3" font-size="22.5" fill="#2a2222">30<tspan dx="4.6">nm</tspan></text>
<text x="964.8" y="248.7" font-size="22.5" fill="#2a2222">0<tspan dx="5.2">nm</tspan></text>
<path d="M760.4,323.2H1030.0V581.8H760.4Z" fill="none" stroke="#6e6464" stroke-width="1.3"/>
<path d="M768.7,581.8v4M806,581.8v6M843.3,581.8v4M880.7,581.8v6M918,581.8v4M955.3,581.8v6M992.7,581.8v4M1030,581.8v6M760.4,538.7h-4M760.4,495.6h-6M760.4,452.5h-4M760.4,409.4h-6M760.4,366.3h-4M760.4,323.2h-6" stroke="#6e6464" stroke-width="1.2" fill="none"/>
<text x="749.2" y="587.7" font-size="16" text-anchor="end" fill="#3e3434">0</text>
<text x="749.2" y="501.5" font-size="16" text-anchor="end" fill="#3e3434">5</text>
<text x="749.2" y="415.3" font-size="16" text-anchor="end" fill="#3e3434">10</text>
<text x="749.2" y="329.1" font-size="16" text-anchor="end" fill="#3e3434">15</text>
<text x="806" y="604.8" font-size="16" text-anchor="middle" fill="#3e3434">100</text>
<text x="880.7" y="604.8" font-size="16" text-anchor="middle" fill="#3e3434">200</text>
<text x="955.3" y="604.8" font-size="16" text-anchor="middle" fill="#3e3434">300</text>
<text x="1030" y="604.8" font-size="16" text-anchor="middle" fill="#3e3434">400</text>
<text x="895" y="626.7" font-size="15" text-anchor="middle" fill="#3e3434"><tspan font-style="italic" font-family="Liberation Serif, serif">ω</tspan> (cm<tspan font-size="10" dy="-6">−1</tspan><tspan dy="6">)</tspan></text>
<text transform="translate(724,452.3) rotate(-90) scale(0.98,1)" font-size="15.5" text-anchor="middle" fill="#3e3434">−Δ<tspan font-style="italic">T</tspan>/<tspan font-style="italic">T</tspan><tspan font-size="12" dy="4">CNP</tspan><tspan dy="-4"> (%)</tspan></text>
<g fill="none" stroke-width="1.4" stroke-linejoin="round"><path d="M760.5,524.9 C760.6,521.5 760.5,509.6 761.2,504.7 C761.9,499.9 763.2,498.3 764.9,495.6 C766.6,492.9 769.8,490.7 771.4,488.4 C773,486.1 773.3,484.2 774.6,481.8 C776,479.4 778.1,475.7 779.6,473.9 C781.1,472 782.2,471.6 783.6,470.6 C785,469.6 786.5,468.4 787.8,467.8 C789,467.3 789.7,467 791.1,467.2 C792.4,467.3 794.1,467 796,468.5 C797.9,470.1 800.3,473.8 802.3,476.6 C804.2,479.4 805.1,482 807.5,485.3 C809.9,488.6 813.4,492.6 816.6,496.5 C819.8,500.3 823.5,504.8 826.9,508.5 C830.3,512.3 833.7,515.9 837.1,519 C840.4,522.2 843.7,524.8 847.1,527.5 C850.5,530.2 854.4,533.3 857.5,535.4 C860.6,537.6 863,538.7 865.7,540.4 C868.5,542.1 871.9,544.2 873.9,545.8 C876,547.3 875.8,548.7 878.2,549.9 C880.6,551.1 884.7,551.8 888.1,552.8 C891.6,553.8 895.3,555.1 898.7,555.9 C902.2,556.8 905.6,557.3 909,558 C912.5,558.7 914,559.2 919.2,560.1 C924.4,560.9 933.6,562.1 940.4,563.2 C947.3,564.2 953.5,565.2 960.3,566.3 C967,567.3 973.9,568.4 980.7,569.4 C987.6,570.4 996.6,571.8 1001.3,572.5 C1006.1,573.2 1007.3,573.2 1009.1,573.5 C1010.9,573.9 1011.3,574 1012.1,574.6 C1012.8,575.1 1013,576.4 1013.6,576.6 C1014.2,576.8 1014.3,576.2 1015.8,575.8 C1017.3,575.3 1020.2,574.6 1022.5,574 C1024.9,573.5 1028.8,572.7 1030,572.5" stroke="#c678c8"/><path d="M760.5,526.6 C760.8,522.6 761.7,508.2 762.7,502.5 C763.7,496.7 765.1,494.5 766.4,492.2 C767.8,489.9 769.6,489 770.7,488.7 C771.8,488.4 772.4,489.2 773.1,490.4 C773.9,491.7 774.6,494.8 775.2,496.1 C775.9,497.4 776.3,505.5 776.9,498.2 C777.5,490.9 778.2,466.5 778.7,452.5 C779.1,438.5 778.7,421 779.6,414.4 C780.4,407.8 782.3,413 783.6,412.8 C784.9,412.7 785.9,414.5 787.3,413.7 C788.7,413 790.6,409.6 792,408.4 C793.5,407.1 794,405.7 796,406.1 C798,406.6 802,409.1 804.3,411.1 C806.6,413.1 807.7,415.4 809.7,418 C811.8,420.6 813.7,423.2 816.6,426.6 C819.5,430.1 823.5,434.6 826.9,438.7 C830.3,442.8 833.7,446.9 837.1,451.5 C840.4,456.1 843.7,461.2 847.1,466.3 C850.5,471.4 854,477.1 857.5,482.2 C861,487.2 864.5,492 868,496.5 C871.4,500.9 874.8,505.3 878.2,508.9 C881.6,512.5 884.7,514.9 888.1,518 C891.6,521.1 895.3,524.7 898.7,527.3 C902.2,529.9 905.6,531.8 909,533.5 C912.5,535.3 915.8,536.7 919.2,537.7 C922.6,538.7 925.8,538.9 929.2,539.6 C932.6,540.2 936.3,540.6 939.7,541.6 C943,542.6 945.9,544.2 949.4,545.6 C952.8,547 956.8,548.5 960.3,549.9 C963.8,551.3 966.9,552.8 970.3,554.2 C973.7,555.6 977.2,557.2 980.7,558.2 C984.2,559.2 987.7,559.6 991.2,560.2 C994.6,560.9 997.9,561.4 1001.3,562.1 C1004.7,562.9 1009.6,563 1011.6,564.6 C1013.5,566.1 1012.7,569.4 1013.2,571.5 C1013.7,573.5 1013.9,576.3 1014.3,576.6 C1014.8,576.9 1015.3,574.6 1015.8,573.2 C1016.4,571.8 1016.5,569.4 1017.6,568.4 C1018.7,567.3 1020.5,567 1022.5,566.6 C1024.6,566.3 1028.8,566.3 1030,566.3" stroke="#7484d4"/><path d="M761.2,524.9 C761.5,520 762.3,501.3 763.2,495.6 C764.1,489.9 765.1,492.7 766.4,490.4 C767.8,488.1 769.9,482.7 771.4,481.8 C772.9,480.9 774.5,488.1 775.5,485.3 C776.6,482.4 777,474.3 777.6,464.6 C778.3,454.8 778.6,435.3 779.6,426.6 C780.6,418 782.2,416.9 783.6,412.8 C785,408.8 785.7,406.7 787.8,402.5 C789.8,398.3 793.6,391.7 796,387.7 C798.4,383.7 800.5,380.8 802.3,378.4 C804,376 804.8,373.9 806.3,373.4 C807.8,372.8 809.5,373.5 811.2,374.9 C812.9,376.3 814.7,379.1 816.6,381.6 C818.5,384.2 820.4,387 822.4,390.4 C824.5,393.9 826.5,398.2 828.9,402.2 C831.4,406.2 834,409.7 837.1,414.4 C840.1,419.1 843.7,424.6 847.1,430.1 C850.5,435.6 854.4,441.9 857.5,447.3 C860.6,452.8 863,457 865.7,462.8 C868.5,468.6 871.9,477.9 873.9,482.2 C876,486.4 875.8,486.3 878.2,488.4 C880.6,490.5 884.7,492.7 888.1,494.7 C891.6,496.8 895,498.6 898.7,500.6 C902.5,502.6 906.4,504.8 910.5,506.8 C914.6,508.8 919.8,511.3 923.3,512.8 C926.8,514.4 928.7,515.6 931.4,516.3 C934.2,517 936.7,516.3 939.7,517 C942.6,517.7 945.9,519.2 949.4,520.6 C952.8,522 956.8,523.5 960.3,525.3 C963.8,527 966.9,528.9 970.3,530.9 C973.7,533 977.2,535.7 980.7,537.7 C984.2,539.7 987.7,541.3 991.2,543 C994.6,544.7 998.3,546.4 1001.3,547.8 C1004.3,549.3 1007.1,550.1 1009.1,551.6 C1011.1,553.1 1012.2,556.4 1013.6,556.8 C1015,557.2 1016.1,555 1017.6,554.2 C1019.1,553.4 1020.5,552.5 1022.5,552.1 C1024.6,551.8 1028.8,552 1030,552" stroke="#ea7058"/></g>
<g fill="none" stroke="#4a4a4a" stroke-width="1.5" stroke-dasharray="6 4"><path d="M761.2,526.6 C761.6,522.3 761.6,511.7 763.4,500.8 C765.3,489.9 769.7,471.8 772.4,461.1 C775.1,450.5 777.1,444.5 779.6,437 C782.1,429.5 784.6,422.6 787.3,416.3 C790.1,410 793.5,403.9 796,399.1 C798.5,394.2 800.2,389.9 802.3,387 C804.3,384.1 805.2,381.7 808.2,381.8 C811.3,381.9 815.9,382.6 820.7,387.7 C825.5,392.8 830.2,401.7 837.1,412.3 C843.9,423 854.8,440.5 861.7,451.5 C868.6,462.4 872.1,469.8 878.2,478 C884.4,486.2 890.4,494.1 898.6,500.6 C906.8,507.1 917.1,511.8 927.4,517 C937.7,522.1 947.9,526.7 960.3,531.5 C972.6,536.3 989.7,542.2 1001.3,545.8 C1013,549.3 1025.2,551.7 1030,552.8"/><path d="M761.2,528.4 C761.8,523.5 763.1,510 764.9,499 C766.8,488.1 769.9,473.2 772.4,462.8 C774.9,452.5 777.6,443.9 779.9,437 C782.1,430.1 783.8,425.6 785.8,421.5 C787.9,417.4 789.9,414.1 792,412.3 C794.2,410.6 796.5,410.8 798.5,411.1 C800.6,411.5 800.6,411.1 804.3,414.4 C808,417.7 815.2,423.9 820.7,430.8 C826.2,437.6 830.9,445.8 837.1,455.4 C843.2,465 850.7,478.8 857.5,488.4 C864.4,497.9 871.3,506 878.2,512.8 C885.1,519.7 890.6,524.6 898.8,529.4 C907,534.2 917.3,537.5 927.6,541.6 C937.8,545.7 947.9,550.6 960.3,554 C972.6,557.5 989.9,560 1001.5,562.1 C1013.1,564.2 1025.3,565.9 1030,566.6"/><path d="M761.2,524.9 C761.8,521.2 763.1,509.4 764.9,502.5 C766.8,495.6 769.9,488.4 772.4,483.5 C774.9,478.6 777.3,475.8 779.9,473.2 C782.4,470.6 785.1,468.4 787.8,467.8 C790.5,467.3 793,467.1 796,469.7 C799,472.4 802.6,478.4 806,483.5 C809.4,488.7 811.4,494.3 816.6,500.6 C821.8,506.9 829.5,514.9 837.1,521.1 C844.6,527.3 854.8,533.2 861.7,537.7 C868.6,542.1 868.6,544.4 878.2,547.8 C887.8,551.3 905.5,555.1 919.2,558.2 C932.9,561.3 946.6,563.9 960.3,566.3 C974,568.7 989.9,571.1 1001.5,572.5 C1013.1,573.9 1025.3,574.5 1030,574.9"/></g>
<rect x="885.0" y="329.8" width="138.5" height="127.6" fill="#fff" stroke="#6e6464" stroke-width="1.2"/>
<g fill="none" stroke-width="1.3" stroke-linejoin="round"><path d="M885.1,401.9 C885.5,402.1 886.5,403.9 887.2,403 C887.9,402.1 888.4,396.8 889.2,396.8 C890.1,396.8 890.4,400.9 892.3,403 C894.2,405.1 897.4,406.7 900.5,409.1 C903.6,411.5 908.1,414.9 910.8,417.3 C913.5,419.7 915.2,422.6 916.9,423.5 C918.6,424.4 919.8,421.7 921,422.4 C922.2,423.1 922.4,425.7 924.1,427.6 C925.8,429.5 928.4,431.8 931.3,433.7 C934.2,435.6 938.1,437.2 941.5,438.8 C944.9,440.4 948.2,441.7 951.8,443 C955.4,444.3 959.2,445.5 963.3,446.5 C967.4,447.5 971.9,448.3 976.2,449.1 C980.5,449.9 984.8,450.7 989.1,451.2 C993.4,451.7 997.7,451.9 1002,452.2 C1006.3,452.5 1012.2,452.4 1015,453 C1017.8,453.6 1017.7,455.4 1018.8,455.6 C1019.9,455.8 1020.6,454.9 1021.4,454.3 C1022.2,453.7 1023.1,452.6 1023.5,452.2" stroke="#c678c8"/><path d="M885.1,355.8 C885.3,358.7 885.7,371.7 886.2,373.2 C886.7,374.7 887.5,365.5 888.2,365 C888.9,364.5 889.1,368.2 890.3,370.1 C891.5,372 893.7,373.9 895.4,376.3 C897.1,378.7 897.9,381.1 900.5,384.5 C903.1,387.9 908.1,393.2 910.8,396.8 C913.5,400.4 915.4,404.2 916.9,406 C918.4,407.8 919.1,407 920,407.5 C920.9,408 921.3,408.2 922,409.1 C922.7,410.1 922.6,411.5 924.1,413.2 C925.6,414.9 928.4,417.2 931.3,419.4 C934.2,421.6 938.1,424.1 941.5,426.5 C944.9,428.9 948.2,431.6 951.8,433.7 C955.4,435.8 959.2,437.7 963.3,439.3 C967.4,440.9 971.9,442.3 976.2,443.5 C980.5,444.7 984.8,445.6 989.1,446.5 C993.4,447.4 997.7,448.5 1002,449.1 C1006.3,449.8 1012.2,449.6 1015,450.4 C1017.8,451.2 1017.7,454 1018.8,453.8 C1019.9,453.6 1020.6,449.5 1021.4,449.1 C1022.2,448.8 1023.1,451.3 1023.5,451.7" stroke="#7484d4"/><path d="M885.1,340.4 C885.5,343.3 886.5,356.4 887.2,357.8 C887.9,359.2 888.4,348.6 889.2,348.6 C890.1,348.6 891.5,354.9 892.3,357.8 C893.1,360.7 893.5,363.3 894,366 C894.5,368.7 894.8,375.2 895.4,374.2 C896,373.2 896.7,360.4 897.4,359.9 C898.1,359.4 898.6,369.7 899.5,371.2 C900.4,372.7 900.7,367.7 902.6,369.1 C904.5,370.5 907.7,376 910.8,379.4 C913.9,382.8 917.6,386.2 921,389.6 C924.4,393 927.9,396.5 931.3,399.9 C934.7,403.3 938.1,406.9 941.5,410.1 C944.9,413.4 948.7,417 951.8,419.4 C954.9,421.8 955.9,422.6 960,424.5 C964.1,426.4 971.4,429.1 976.2,431 C981.1,432.9 984.8,434.5 989.1,436.2 C993.4,437.9 997.7,440.2 1002,441.4 C1006.3,442.6 1012.4,442.7 1015,443.5 C1017.6,444.3 1016.4,446 1017.5,446 C1018.6,446 1020.4,443.9 1021.4,443.5 C1022.4,443.1 1023.1,443.5 1023.5,443.5" stroke="#ea7058"/></g>
<g fill="none" stroke="#4a4a4a" stroke-width="1.3" stroke-dasharray="5 3.5"><path d="M886,348 C887,349.7 889.7,354.6 892,358 C894.3,361.4 896.9,364.9 900,368.5 C903.1,372.1 907.3,375.9 910.8,379.4 C914.3,382.9 917.6,386.2 921,389.6 C924.4,393 927.9,396.5 931.3,399.9 C934.7,403.3 938.1,406.9 941.5,410.1 C944.9,413.4 948.2,416.7 951.8,419.4 C955.4,422.1 959.2,424.5 963.3,426.5 C967.4,428.5 971.9,429.8 976.2,431.5 C980.5,433.2 984.8,435 989.1,436.5 C993.4,438 997.7,439.4 1002,440.5 C1006.3,441.6 1011.4,442.6 1015,443.3 C1018.6,444 1022.1,444.3 1023.5,444.5"/><path d="M886,362 C887,363.3 889.6,366.5 892,370 C894.4,373.5 897.4,378.5 900.5,383 C903.6,387.5 907.4,392.6 910.8,396.8 C914.2,401 917.6,404.4 921,408 C924.4,411.6 927.9,415.4 931.3,418.5 C934.7,421.6 938.1,424 941.5,426.5 C944.9,429 948.2,431.6 951.8,433.7 C955.4,435.8 959.2,437.7 963.3,439.3 C967.4,440.9 971.9,442.3 976.2,443.5 C980.5,444.7 984.8,445.6 989.1,446.5 C993.4,447.4 997.7,448 1002,448.6 C1006.3,449.2 1011.4,449.6 1015,450 C1018.6,450.4 1022.1,450.7 1023.5,450.8"/><path d="M886,399 C887,399.7 889.6,401.3 892,403 C894.4,404.7 897.4,406.7 900.5,409.1 C903.6,411.5 907.4,414.7 910.8,417.3 C914.2,419.9 917.6,422 921,424.5 C924.4,427 927.9,430.1 931.3,432.5 C934.7,434.9 938.1,437.1 941.5,438.8 C944.9,440.6 948.2,441.7 951.8,443 C955.4,444.3 959.2,445.5 963.3,446.5 C967.4,447.5 971.9,448.4 976.2,449.1 C980.5,449.9 984.8,450.5 989.1,451 C993.4,451.5 997.7,451.9 1002,452.2 C1006.3,452.5 1011.4,452.8 1015,453 C1018.6,453.2 1022.1,453.3 1023.5,453.4"/></g>
<path d="M885.0,439.2h-4M885.0,421.5h-4M885.0,403.8h-4M885.0,386h-4M885.0,368.2h-4M885.0,350.5h-4M889.6,457.4v4M908.8,457.4v4M928,457.4v4M947.2,457.4v4M966.4,457.4v4M985.6,457.4v4M1004.8,457.4v4M1024,457.4v4" stroke="#6e6464" stroke-width="1.1" fill="none"/>
<text x="878.5" y="426.8" font-size="15" text-anchor="end" fill="#3e3434">5</text>
<text x="878.5" y="391.3" font-size="15" text-anchor="end" fill="#3e3434">10</text>
<text x="878.5" y="355.8" font-size="15" text-anchor="end" fill="#3e3434">15</text>
<text x="947" y="480" font-size="16" text-anchor="middle" fill="#3e3434">200</text>
<rect x="945.2" y="332.4" width="74.8" height="49.1" fill="#fff" stroke="#4a4242" stroke-width="1"/>
<line x1="950.4" y1="342" x2="976.2" y2="342" stroke="#ea7058" stroke-width="1.4"/>
<text transform="translate(980,347) scale(0.9,1)" font-size="14" fill="#3e3434">−2.2 V</text>
<line x1="950.4" y1="357.4" x2="976.2" y2="357.4" stroke="#7484d4" stroke-width="1.4"/>
<text transform="translate(980,362.4) scale(0.9,1)" font-size="14" fill="#3e3434">−1.8 V</text>
<line x1="950.4" y1="371.6" x2="976.2" y2="371.6" stroke="#c678c8" stroke-width="1.4"/>
<text transform="translate(980,376.6) scale(0.9,1)" font-size="14" fill="#3e3434">−1.0 V</text>
<defs><linearGradient id="cbg" x1="0" y1="1" x2="1" y2="0"><stop offset="0" stop-color="#615252"/><stop offset="0.6" stop-color="#625556"/><stop offset="1" stop-color="#66595b"/></linearGradient><radialGradient id="cspot" cx="0.5" cy="0.5" r="0.5"><stop offset="0" stop-color="#ffb070" stop-opacity="1"/><stop offset="0.5" stop-color="#e8802a" stop-opacity="0.55"/><stop offset="1" stop-color="#e8802a" stop-opacity="0"/></radialGradient><linearGradient id="cin" x1="0" y1="0" x2="1" y2="1"><stop offset="0" stop-color="#ff7060" stop-opacity="0.9"/><stop offset="1" stop-color="#ffc0a0" stop-opacity="0.95"/></linearGradient><filter id="cglow" x="-20%" y="-20%" width="140%" height="140%"><feGaussianBlur stdDeviation="2.2"/></filter><filter id="cblur1" x="-10%" y="-10%" width="120%" height="120%"><feGaussianBlur stdDeviation="0.6"/></filter></defs>
<clipPath id="cimg"><rect x="1066.6" y="31.9" width="304.8" height="220.7"/></clipPath>
<g clip-path="url(#cimg)">
<rect x="1066.6" y="31.9" width="304.8" height="220.7" fill="url(#cbg)"/>
<polygon points="1090.1,158.5 1213,242.8 1213,245.8 1090.1,161.5" fill="#4e3a18"/><polygon points="1213,242.8 1316.7,147.8 1316.7,150.8 1213,245.8" fill="#5e4618"/><polygon points="1090.1,158.5 1197,88 1316.7,147.8 1213,242.8" fill="#7e5f22"/>
<polygon points="1108.7,157.1 1213,225 1213,227.5 1108.7,159.6" fill="#55703a"/><polygon points="1213,225 1300.7,145.2 1300.7,147.7 1213,227.5" fill="#607a40"/><polygon points="1108.7,157.1 1198.4,94.6 1300.7,145.2 1213,225" fill="#7a9852"/>
<polygon points="1113.2,155.6 1198.4,96.8 1295.4,143.8 1213,221.2" fill="#2e2329"/>
<polygon points="1119.9,153.1 1211.6,215.6 1211.6,217.8 1119.9,155.3" fill="#5e7a40"/><polygon points="1211.6,215.6 1290.1,142.5 1290.1,144.7 1211.6,217.8" fill="#688444"/><polygon points="1119.9,153.1 1198.4,99.1 1290.1,142.5 1211.6,215.6" fill="#7c9c56"/>
<polygon points="1132.7,148.6 1210.3,199.7 1210.3,202.9 1132.7,151.8" fill="#b8b0d2"/><polygon points="1210.3,199.7 1276.8,138.5 1276.8,141.7 1210.3,202.9" fill="#9a92b6"/><polygon points="1132.7,148.6 1201,100.5 1276.8,138.5 1210.3,199.7" fill="#a79fc2"/>
<defs><linearGradient id="cau" x1="0" y1="0" x2="1" y2="1"><stop offset="0" stop-color="#a27420"/><stop offset="0.55" stop-color="#b57e22"/><stop offset="1" stop-color="#9a6c1c"/></linearGradient></defs>
<polygon points="1148.6,145.2 1201,106.6 1260.9,137.2 1210.3,182.4" fill="url(#cau)"/>
<g filter="url(#cglow)" opacity="0.85"><polygon points="1202.3,140.6 1150,150 1156,158" fill="#f09a40"/><polygon points="1202.3,140.6 1214,176 1222,172" fill="#f4a048"/></g>
<ellipse cx="1202.3" cy="140.6" rx="16" ry="10" fill="url(#cspot)"/>
<path d="M1186,203 L1210.5,217 L1232,204" fill="none" stroke="#e8e0e8" stroke-width="0.8"/>
<path d="M1081.5,120.5 C1090,124 1096,135 1097,160" fill="none" stroke="#8a8486" stroke-width="2.6"/>
<path d="M1081.5,120.5 C1090,124 1096,135 1097,160" fill="none" stroke="#c9c2c2" stroke-width="0.9"/>
<path d="M1197.5,46 L1198.5,93" fill="none" stroke="#8a8486" stroke-width="2.6"/>
<path d="M1197.5,46 L1198.5,93" fill="none" stroke="#cfc8c8" stroke-width="0.9"/>
<path d="M1198.5,88 L1198.5,96" stroke="#5a5a50" stroke-width="2"/>
<path d="M1206,45h15M1209,48h9M1212,51h3" stroke="#dcd6d6" stroke-width="1"/>
<text x="1088" y="120" font-size="9.5" text-anchor="middle" font-family="Liberation Serif, serif" fill="#eee">V</text>
<g filter="url(#cblur1)">
<polygon points="1125.5,31.9 1147,31.9 1204.5,140.5 1201.5,141" fill="#e24a3c" opacity="0.75"/>
<polygon points="1128.5,31.9 1143.5,31.9 1203.6,140.3 1202.2,140.8" fill="#f7b4a4" opacity="0.85"/>
<polygon points="1132,31.9 1139,31.9 1203,140.4 1202.6,140.6" fill="#ffe2d6" opacity="0.8"/>
</g>
<g filter="url(#cglow)">
<polygon points="1202.8,139.4 1372,60 1372,82" fill="#f03a2a" opacity="0.9"/>
</g>
<polygon points="1202.8,139.4 1372,64.5 1372,79" fill="#ff8f7a" opacity="0.95"/>
<polygon points="1204,138.6 1372,68.5 1372,75" fill="#fff2ea" opacity="0.95"/>
<g fill="none" stroke="#c41c1c" stroke-width="1.6" opacity="0.95"><ellipse cx="1223.6" cy="130" rx="19" ry="15.5" transform="rotate(-10 1223.6 130)"/><ellipse cx="1235.6" cy="126.5" rx="17.5" ry="16" transform="rotate(30 1235.6 126.5)"/><ellipse cx="1246" cy="122" rx="16" ry="13.5" transform="rotate(30 1246 122)"/><ellipse cx="1260.6" cy="115" rx="19" ry="10" transform="rotate(20 1260.6 115)"/><ellipse cx="1274" cy="107.5" rx="19.5" ry="8" transform="rotate(25 1274 107.5)"/><ellipse cx="1287.5" cy="103" rx="20" ry="6.5" transform="rotate(30 1287.5 103)"/><ellipse cx="1303" cy="99" rx="20" ry="5" transform="rotate(35 1303 99)"/><ellipse cx="1319" cy="93" rx="20" ry="3.5" transform="rotate(45 1319 93)"/><ellipse cx="1336.8" cy="86.5" rx="22" ry="1.6" transform="rotate(58 1336.8 86.5)"/><ellipse cx="1354.5" cy="79.6" rx="25" ry="1.3" transform="rotate(60 1354.5 79.6)"/></g>
<path d="M1140,79 L1160,68" stroke="#c8201c" stroke-width="1.6"/>
<path d="M1153,68 L1162,60 M1154,80 L1160,82" stroke="#eee" stroke-width="0.8"/>
<text x="1166" y="75" font-size="8" font-family="Liberation Serif, serif" fill="#eee">θ</text>
<text transform="translate(1148,37) rotate(62)" font-size="8" font-family="Liberation Serif, serif" fill="#eee">Input</text>
<path d="M1144,36 L1156,58" stroke="#eee" stroke-width="0.7"/>
<g transform="translate(1283,50) rotate(-19)" font-family="Liberation Serif, serif" fill="#eee" font-size="8.5"><text x="0" y="0">Tunable</text><text x="-5" y="10">polarization</text><text x="5" y="20">output</text></g>
<path d="M1286.6,79.2 L1325,60" stroke="#eee" stroke-width="0.9"/><polygon points="1329.5,57.3 1321,58.5 1324.5,64.5" fill="#eee"/>
<text x="1332" y="57.3" font-size="9.5" text-anchor="middle" font-family="Liberation Serif, serif" fill="#eee">V</text>
<clipPath id="cstar"><path d="M1263,202.5 C1290,200.5 1320,200.5 1348,202.5 L1348,211.8 L1263,211.8 Z M1263,222 L1348,222 L1348,231 C1320,232 1290,232 1263,231 Z"/></clipPath>
<g clip-path="url(#cstar)"><path d="M1305.2,216.8L1246,190M1305.2,216.8L1246,243M1305.2,216.8L1255.8,190M1305.2,216.8L1255.8,243M1305.2,216.8L1265.7,190M1305.2,216.8L1265.7,243M1305.2,216.8L1275.5,190M1305.2,216.8L1275.5,243M1305.2,216.8L1285.3,190M1305.2,216.8L1285.3,243M1305.2,216.8L1295.2,190M1305.2,216.8L1295.2,243M1305.2,216.8L1305,190M1305.2,216.8L1305,243M1305.2,216.8L1314.8,190M1305.2,216.8L1314.8,243M1305.2,216.8L1324.7,190M1305.2,216.8L1324.7,243M1305.2,216.8L1334.5,190M1305.2,216.8L1334.5,243M1305.2,216.8L1344.3,190M1305.2,216.8L1344.3,243M1305.2,216.8L1354.2,190M1305.2,216.8L1354.2,243M1305.2,216.8L1364,190M1305.2,216.8L1364,243M1305.2,216.8L1250,203.5M1305.2,216.8L1360,203.5M1305.2,216.8L1250,228.5M1305.2,216.8L1360,228.5" stroke="#e6e6ee" stroke-width="1.9" fill="none"/></g>
<path d="M1267,214.7 H1345 M1262,218.8 H1348" stroke="#e6e6ee" stroke-width="1.8" stroke-dasharray="5 0.8"/>
<path d="M1270,167.8 C1280,178 1292,190 1299,199" stroke="#eee" stroke-width="0.8" fill="none"/><polygon points="1300.5,201 1296.5,197.5 1299.5,196" fill="#eee"/>
<text x="1350.3" y="227.6" font-size="8" font-family="Liberation Serif, serif" fill="#e8e2e2">ZZ</text>
<text x="1343.6" y="240.2" font-size="8" font-family="Liberation Serif, serif" fill="#e8e2e2">AC</text>
<path d="M1344,232.5 L1358,230.5 M1348,226 L1358,230" stroke="#eee" stroke-width="0.6"/><circle cx="1346.8" cy="226" r="0.9" fill="#fff"/><circle cx="1342.5" cy="232.3" r="0.9" fill="#fff"/>
<text x="1193" y="223" font-size="8" font-family="Liberation Serif, serif" fill="#eee">AC</text>
<text x="1214" y="220" font-size="8" font-family="Liberation Serif, serif" fill="#eee">ZZ</text>
<rect x="1080" y="181" width="10.8" height="11.2" fill="#89681f"/>
<text x="1092.5" y="190" font-size="9.5" font-family="Liberation Serif, serif" fill="#ece6e6">Au</text>
<rect x="1080" y="198.3" width="10.8" height="11.2" fill="#789a55"/>
<text x="1092.5" y="207.3" font-size="9.5" font-family="Liberation Serif, serif" fill="#ece6e6">hBN</text>
<rect x="1080" y="214.3" width="10.8" height="11.2" fill="#2e2329"/>
<text x="1092.5" y="223.3" font-size="9.5" font-family="Liberation Serif, serif" fill="#ece6e6">3L-BP</text>
<rect x="1080" y="230.3" width="10.8" height="11.2" fill="#a59dc4"/>
<text x="1092.5" y="239.3" font-size="9.5" font-family="Liberation Serif, serif" fill="#ece6e6">PMMA</text>
</g>
<path d="M1066,31 H1118.3 V51.8 H1066 Z" fill="#fff"/>
<text x="1063.2" y="41.2" font-size="43.5" font-weight="bold" fill="#120808">(C)</text>
<defs><linearGradient id="chicb" x1="0" y1="0" x2="1" y2="0"><stop offset="0" stop-color="#1c3e8c"/><stop offset="0.117" stop-color="#2d64aa"/><stop offset="0.233" stop-color="#5591c8"/><stop offset="0.333" stop-color="#96bee1"/><stop offset="0.417" stop-color="#d7e6f2"/><stop offset="0.5" stop-color="#f6f3f2"/><stop offset="0.567" stop-color="#fae1d4"/><stop offset="0.667" stop-color="#f0aa94"/><stop offset="0.767" stop-color="#e1735f"/><stop offset="0.867" stop-color="#c84137"/><stop offset="0.933" stop-color="#a52328"/><stop offset="1" stop-color="#6e1218"/></linearGradient></defs>
<rect x="1157.8" y="276.5" width="124" height="10.3" fill="url(#chicb)" stroke="#4a3a3a" stroke-width="0.6"/>
<path d="M1207.5,286.8v-1.5M1248.8,286.8v-1.5" stroke="#333" stroke-width="0.8"/>
<text x="1214.3" y="271.5" font-size="19" font-family="Liberation Serif, serif" fill="#111"><tspan font-style="italic">χ</tspan><tspan font-family="Liberation Sans, sans-serif" font-size="14" dy="-7.5" dx="0.5">o</tspan></text>
<text x="1167.4" y="308.3" font-size="17" text-anchor="middle" fill="#111">-40</text>
<text x="1205.6" y="308.3" font-size="17" text-anchor="middle" fill="#111">-20</text>
<text x="1243" y="308.3" font-size="17" text-anchor="middle" fill="#111">0</text>
<text x="1281.5" y="308.3" font-size="17" text-anchor="middle" fill="#111">20</text>
<text x="1316" y="327.5" font-size="15.5" text-anchor="middle" font-family="Liberation Serif, serif" fill="#111">λ=1495 nm</text>
<defs><filter id="cellblur" x="0" y="0" width="1" height="1"><feGaussianBlur stdDeviation="0.9" edgeMode="duplicate"/></filter><clipPath id="mapclip0"><rect x="1089.5" y="330.5" width="267.3" height="267.3"/></clipPath></defs>
<g clip-path="url(#mapclip0)"><g filter="url(#cellblur)" shape-rendering="crispEdges"><rect x="1089.5" y="330.5" width="12.5" height="12.5" fill="#c9493b"/><rect x="1101.65" y="330.5" width="12.5" height="12.5" fill="#ad2a2b"/><rect x="1113.8" y="330.5" width="12.5" height="12.5" fill="#ad2a2b"/><rect x="1125.95" y="330.5" width="12.5" height="12.5" fill="#ad2a2b"/><rect x="1138.1" y="330.5" width="12.5" height="12.5" fill="#ad2a2b"/><rect x="1150.25" y="330.5" width="12.5" height="12.5" fill="#ad2a2b"/><rect x="1162.4" y="330.5" width="12.5" height="12.5" fill="#ad2a2b"/><rect x="1174.55" y="330.5" width="12.5" height="12.5" fill="#ad2a2b"/><rect x="1186.7" y="330.5" width="12.5" height="12.5" fill="#ad2a2b"/><rect x="1198.85" y="330.5" width="12.5" height="12.5" fill="#ad2a2b"/><rect x="1211" y="330.5" width="12.5" height="12.5" fill="#ad2a2b"/><rect x="1223.15" y="330.5" width="12.5" height="12.5" fill="#d6634f"/><rect x="1235.3" y="330.5" width="12.5" height="12.5" fill="#d6634f"/><rect x="1247.45" y="330.5" width="12.5" height="12.5" fill="#e2826b"/><rect x="1259.6" y="330.5" width="12.5" height="12.5" fill="#e2826b"/><rect x="1271.75" y="330.5" width="12.5" height="12.5" fill="#eca286"/><rect x="1283.9" y="330.5" width="12.5" height="12.5" fill="#eca286"/><rect x="1296.05" y="330.5" width="12.5" height="12.5" fill="#eca286"/><rect x="1308.2" y="330.5" width="12.5" height="12.5" fill="#eca286"/><rect x="1320.35" y="330.5" width="12.5" height="12.5" fill="#eca286"/><rect x="1332.5" y="330.5" width="12.5" height="12.5" fill="#eca286"/><rect x="1344.65" y="330.5" width="12.15" height="12.5" fill="#eca286"/><rect x="1089.5" y="342.65" width="12.5" height="12.5" fill="#c9493b"/><rect x="1101.65" y="342.65" width="12.5" height="12.5" fill="#ad2a2b"/><rect x="1113.8" y="342.65" width="12.5" height="12.5" fill="#ad2a2b"/><rect x="1125.95" y="342.65" width="12.5" height="12.5" fill="#ad2a2b"/><rect x="1138.1" y="342.65" width="12.5" height="12.5" fill="#ad2a2b"/><rect x="1150.25" y="342.65" width="12.5" height="12.5" fill="#8d1d21"/><rect x="1162.4" y="342.65" width="12.5" height="12.5" fill="#e2826b"/><rect x="1174.55" y="342.65" width="12.5" height="12.5" fill="#c9493b"/><rect x="1186.7" y="342.65" width="12.5" height="12.5" fill="#ad2a2b"/><rect x="1198.85" y="342.65" width="12.5" height="12.5" fill="#ad2a2b"/><rect x="1211" y="342.65" width="12.5" height="12.5" fill="#ad2a2b"/><rect x="1223.15" y="342.65" width="12.5" height="12.5" fill="#ad2a2b"/><rect x="1235.3" y="342.65" width="12.5" height="12.5" fill="#c9493b"/><rect x="1247.45" y="342.65" width="12.5" height="12.5" fill="#e2826b"/><rect x="1259.6" y="342.65" width="12.5" height="12.5" fill="#eca286"/><rect x="1271.75" y="342.65" width="12.5" height="12.5" fill="#eca286"/><rect x="1283.9" y="342.65" width="12.5" height="12.5" fill="#eca286"/><rect x="1296.05" y="342.65" width="12.5" height="12.5" fill="#eca286"/><rect x="1308.2" y="342.65" width="12.5" height="12.5" fill="#eca286"/><rect x="1320.35" y="342.65" width="12.5" height="12.5" fill="#eca286"/><rect x="1332.5" y="342.65" width="12.5" height="12.5" fill="#eca286"/><rect x="1344.65" y="342.65" width="12.15" height="12.5" fill="#eca286"/><rect x="1089.5" y="354.8" width="12.5" height="12.5" fill="#d6634f"/><rect x="1101.65" y="354.8" width="12.5" height="12.5" fill="#ad2a2b"/><rect x="1113.8" y="354.8" width="12.5" height="12.5" fill="#d6634f"/><rect x="1125.95" y="354.8" width="12.5" height="12.5" fill="#8d1d21"/><rect x="1138.1" y="354.8" width="12.5" height="12.5" fill="#8d1d21"/><rect x="1150.25" y="354.8" width="12.5" height="12.5" fill="#d6634f"/><rect x="1162.4" y="354.8" width="12.5" height="12.5" fill="#d6634f"/><rect x="1174.55" y="354.8" width="12.5" height="12.5" fill="#ad2a2b"/><rect x="1186.7" y="354.8" width="12.5" height="12.5" fill="#d6634f"/><rect x="1198.85" y="354.8" width="12.5" height="12.5" fill="#ad2a2b"/><rect x="1211" y="354.8" width="12.5" height="12.5" fill="#8d1d21"/><rect x="1223.15" y="354.8" width="12.5" height="12.5" fill="#ad2a2b"/><rect x="1235.3" y="354.8" width="12.5" height="12.5" fill="#ad2a2b"/><rect x="1247.45" y="354.8" width="12.5" height="12.5" fill="#d6634f"/><rect x="1259.6" y="354.8" width="12.5" height="12.5" fill="#e2826b"/><rect x="1271.75" y="354.8" width="12.5" height="12.5" fill="#eca286"/><rect x="1283.9" y="354.8" width="12.5" height="12.5" fill="#eca286"/><rect x="1296.05" y="354.8" width="12.5" height="12.5" fill="#eca286"/><rect x="1308.2" y="354.8" width="12.5" height="12.5" fill="#eca286"/><rect x="1320.35" y="354.8" width="12.5" height="12.5" fill="#eca286"/><rect x="1332.5" y="354.8" width="12.5" height="12.5" fill="#eca286"/><rect x="1344.65" y="354.8" width="12.15" height="12.5" fill="#eca286"/><rect x="1089.5" y="366.95" width="12.5" height="12.5" fill="#ad2a2b"/><rect x="1101.65" y="366.95" width="12.5" height="12.5" fill="#ad2a2b"/><rect x="1113.8" y="366.95" width="12.5" height="12.5" fill="#ad2a2b"/><rect x="1125.95" y="366.95" width="12.5" height="12.5" fill="#8d1d21"/><rect x="1138.1" y="366.95" width="12.5" height="12.5" fill="#8d1d21"/><rect x="1150.25" y="366.95" width="12.5" height="12.5" fill="#ad2a2b"/><rect x="1162.4" y="366.95" width="12.5" height="12.5" fill="#ad2a2b"/><rect x="1174.55" y="366.95" width="12.5" height="12.5" fill="#ad2a2b"/><rect x="1186.7" y="366.95" width="12.5" height="12.5" fill="#ad2a2b"/><rect x="1198.85" y="366.95" width="12.5" height="12.5" fill="#e2826b"/><rect x="1211" y="366.95" width="12.5" height="12.5" fill="#8d1d21"/><rect x="1223.15" y="366.95" width="12.5" height="12.5" fill="#d6634f"/><rect x="1235.3" y="366.95" width="12.5" height="12.5" fill="#ad2a2b"/><rect x="1247.45" y="366.95" width="12.5" height="12.5" fill="#d6634f"/><rect x="1259.6" y="366.95" width="12.5" height="12.5" fill="#e2826b"/><rect x="1271.75" y="366.95" width="12.5" height="12.5" fill="#e2826b"/><rect x="1283.9" y="366.95" width="12.5" height="12.5" fill="#eca286"/><rect x="1296.05" y="366.95" width="12.5" height="12.5" fill="#eca286"/><rect x="1308.2" y="366.95" width="12.5" height="12.5" fill="#eca286"/><rect x="1320.35" y="366.95" width="12.5" height="12.5" fill="#eca286"/><rect x="1332.5" y="366.95" width="12.5" height="12.5" fill="#eca286"/><rect x="1344.65" y="366.95" width="12.15" height="12.5" fill="#eca286"/><rect x="1089.5" y="379.1" width="12.5" height="12.5" fill="#d6634f"/><rect x="1101.65" y="379.1" width="12.5" height="12.5" fill="#ad2a2b"/><rect x="1113.8" y="379.1" width="12.5" height="12.5" fill="#8d1d21"/><rect x="1125.95" y="379.1" width="12.5" height="12.5" fill="#8d1d21"/><rect x="1138.1" y="379.1" width="12.5" height="12.5" fill="#8d1d21"/><rect x="1150.25" y="379.1" width="12.5" height="12.5" fill="#8d1d21"/><rect x="1162.4" y="379.1" width="12.5" height="12.5" fill="#ad2a2b"/><rect x="1174.55" y="379.1" width="12.5" height="12.5" fill="#ad2a2b"/><rect x="1186.7" y="379.1" width="12.5" height="12.5" fill="#ad2a2b"/><rect x="1198.85" y="379.1" width="12.5" height="12.5" fill="#ad2a2b"/><rect x="1211" y="379.1" width="12.5" height="12.5" fill="#d6634f"/><rect x="1223.15" y="379.1" width="12.5" height="12.5" fill="#d6634f"/><rect x="1235.3" y="379.1" width="12.5" height="12.5" fill="#c9493b"/><rect x="1247.45" y="379.1" width="12.5" height="12.5" fill="#d6634f"/><rect x="1259.6" y="379.1" width="12.5" height="12.5" fill="#e2826b"/><rect x="1271.75" y="379.1" width="12.5" height="12.5" fill="#e2826b"/><rect x="1283.9" y="379.1" width="12.5" height="12.5" fill="#d6634f"/><rect x="1296.05" y="379.1" width="12.5" height="12.5" fill="#eca286"/><rect x="1308.2" y="379.1" width="12.5" height="12.5" fill="#eca286"/><rect x="1320.35" y="379.1" width="12.5" height="12.5" fill="#eca286"/><rect x="1332.5" y="379.1" width="12.5" height="12.5" fill="#eca286"/><rect x="1344.65" y="379.1" width="12.15" height="12.5" fill="#eca286"/><rect x="1089.5" y="391.25" width="12.5" height="12.5" fill="#e2826b"/><rect x="1101.65" y="391.25" width="12.5" height="12.5" fill="#c9493b"/><rect x="1113.8" y="391.25" width="12.5" height="12.5" fill="#ad2a2b"/><rect x="1125.95" y="391.25" width="12.5" height="12.5" fill="#6f1519"/><rect x="1138.1" y="391.25" width="12.5" height="12.5" fill="#6f1519"/><rect x="1150.25" y="391.25" width="12.5" height="12.5" fill="#6f1519"/><rect x="1162.4" y="391.25" width="12.5" height="12.5" fill="#8d1d21"/><rect x="1174.55" y="391.25" width="12.5" height="12.5" fill="#8d1d21"/><rect x="1186.7" y="391.25" width="12.5" height="12.5" fill="#ad2a2b"/><rect x="1198.85" y="391.25" width="12.5" height="12.5" fill="#ad2a2b"/><rect x="1211" y="391.25" width="12.5" height="12.5" fill="#ad2a2b"/><rect x="1223.15" y="391.25" width="12.5" height="12.5" fill="#ad2a2b"/><rect x="1235.3" y="391.25" width="12.5" height="12.5" fill="#ad2a2b"/><rect x="1247.45" y="391.25" width="12.5" height="12.5" fill="#d6634f"/><rect x="1259.6" y="391.25" width="12.5" height="12.5" fill="#e2826b"/><rect x="1271.75" y="391.25" width="12.5" height="12.5" fill="#e2826b"/><rect x="1283.9" y="391.25" width="12.5" height="12.5" fill="#e2826b"/><rect x="1296.05" y="391.25" width="12.5" height="12.5" fill="#eca286"/><rect x="1308.2" y="391.25" width="12.5" height="12.5" fill="#eca286"/><rect x="1320.35" y="391.25" width="12.5" height="12.5" fill="#eca286"/><rect x="1332.5" y="391.25" width="12.5" height="12.5" fill="#eca286"/><rect x="1344.65" y="391.25" width="12.15" height="12.5" fill="#eca286"/><rect x="1089.5" y="403.4" width="12.5" height="12.5" fill="#e2826b"/><rect x="1101.65" y="403.4" width="12.5" height="12.5" fill="#e2826b"/><rect x="1113.8" y="403.4" width="12.5" height="12.5" fill="#c9493b"/><rect x="1125.95" y="403.4" width="12.5" height="12.5" fill="#8d1d21"/><rect x="1138.1" y="403.4" width="12.5" height="12.5" fill="#6f1519"/><rect x="1150.25" y="403.4" width="12.5" height="12.5" fill="#6f1519"/><rect x="1162.4" y="403.4" width="12.5" height="12.5" fill="#6f1519"/><rect x="1174.55" y="403.4" width="12.5" height="12.5" fill="#8d1d21"/><rect x="1186.7" y="403.4" width="12.5" height="12.5" fill="#ad2a2b"/><rect x="1198.85" y="403.4" width="12.5" height="12.5" fill="#ad2a2b"/><rect x="1211" y="403.4" width="12.5" height="12.5" fill="#ad2a2b"/><rect x="1223.15" y="403.4" width="12.5" height="12.5" fill="#ad2a2b"/><rect x="1235.3" y="403.4" width="12.5" height="12.5" fill="#c9493b"/><rect x="1247.45" y="403.4" width="12.5" height="12.5" fill="#e2826b"/><rect x="1259.6" y="403.4" width="12.5" height="12.5" fill="#e2826b"/><rect x="1271.75" y="403.4" width="12.5" height="12.5" fill="#eca286"/><rect x="1283.9" y="403.4" width="12.5" height="12.5" fill="#eca286"/><rect x="1296.05" y="403.4" width="12.5" height="12.5" fill="#eca286"/><rect x="1308.2" y="403.4" width="12.5" height="12.5" fill="#eca286"/><rect x="1320.35" y="403.4" width="12.5" height="12.5" fill="#eca286"/><rect x="1332.5" y="403.4" width="12.5" height="12.5" fill="#eca286"/><rect x="1344.65" y="403.4" width="12.15" height="12.5" fill="#eca286"/><rect x="1089.5" y="415.55" width="12.5" height="12.5" fill="#c9493b"/><rect x="1101.65" y="415.55" width="12.5" height="12.5" fill="#c9493b"/><rect x="1113.8" y="415.55" width="12.5" height="12.5" fill="#c9493b"/><rect x="1125.95" y="415.55" width="12.5" height="12.5" fill="#ad2a2b"/><rect x="1138.1" y="415.55" width="12.5" height="12.5" fill="#6f1519"/><rect x="1150.25" y="415.55" width="12.5" height="12.5" fill="#6f1519"/><rect x="1162.4" y="415.55" width="12.5" height="12.5" fill="#6f1519"/><rect x="1174.55" y="415.55" width="12.5" height="12.5" fill="#6f1519"/><rect x="1186.7" y="415.55" width="12.5" height="12.5" fill="#ad2a2b"/><rect x="1198.85" y="415.55" width="12.5" height="12.5" fill="#ad2a2b"/><rect x="1211" y="415.55" width="12.5" height="12.5" fill="#ad2a2b"/><rect x="1223.15" y="415.55" width="12.5" height="12.5" fill="#ad2a2b"/><rect x="1235.3" y="415.55" width="12.5" height="12.5" fill="#ad2a2b"/><rect x="1247.45" y="415.55" width="12.5" height="12.5" fill="#c9493b"/><rect x="1259.6" y="415.55" width="12.5" height="12.5" fill="#f5cdbb"/><rect x="1271.75" y="415.55" width="12.5" height="12.5" fill="#d6634f"/><rect x="1283.9" y="415.55" width="12.5" height="12.5" fill="#d6634f"/><rect x="1296.05" y="415.55" width="12.5" height="12.5" fill="#e2826b"/><rect x="1308.2" y="415.55" width="12.5" height="12.5" fill="#e2826b"/><rect x="1320.35" y="415.55" width="12.5" height="12.5" fill="#e2826b"/><rect x="1332.5" y="415.55" width="12.5" height="12.5" fill="#eca286"/><rect x="1344.65" y="415.55" width="12.15" height="12.5" fill="#eca286"/><rect x="1089.5" y="427.7" width="12.5" height="12.5" fill="#c9493b"/><rect x="1101.65" y="427.7" width="12.5" height="12.5" fill="#c9493b"/><rect x="1113.8" y="427.7" width="12.5" height="12.5" fill="#c9493b"/><rect x="1125.95" y="427.7" width="12.5" height="12.5" fill="#c9493b"/><rect x="1138.1" y="427.7" width="12.5" height="12.5" fill="#ad2a2b"/><rect x="1150.25" y="427.7" width="12.5" height="12.5" fill="#ad2a2b"/><rect x="1162.4" y="427.7" width="12.5" height="12.5" fill="#ad2a2b"/><rect x="1174.55" y="427.7" width="12.5" height="12.5" fill="#ad2a2b"/><rect x="1186.7" y="427.7" width="12.5" height="12.5" fill="#e2826b"/><rect x="1198.85" y="427.7" width="12.5" height="12.5" fill="#e2826b"/><rect x="1211" y="427.7" width="12.5" height="12.5" fill="#e2826b"/><rect x="1223.15" y="427.7" width="12.5" height="12.5" fill="#d6634f"/><rect x="1235.3" y="427.7" width="12.5" height="12.5" fill="#d6634f"/><rect x="1247.45" y="427.7" width="12.5" height="12.5" fill="#d6634f"/><rect x="1259.6" y="427.7" width="12.5" height="12.5" fill="#e2826b"/><rect x="1271.75" y="427.7" width="12.5" height="12.5" fill="#e2826b"/><rect x="1283.9" y="427.7" width="12.5" height="12.5" fill="#d6634f"/><rect x="1296.05" y="427.7" width="12.5" height="12.5" fill="#e2826b"/><rect x="1308.2" y="427.7" width="12.5" height="12.5" fill="#e2826b"/><rect x="1320.35" y="427.7" width="12.5" height="12.5" fill="#e2826b"/><rect x="1332.5" y="427.7" width="12.5" height="12.5" fill="#eca286"/><rect x="1344.65" y="427.7" width="12.15" height="12.5" fill="#eca286"/><rect x="1089.5" y="439.85" width="12.5" height="12.5" fill="#c9493b"/><rect x="1101.65" y="439.85" width="12.5" height="12.5" fill="#c9493b"/><rect x="1113.8" y="439.85" width="12.5" height="12.5" fill="#c9493b"/><rect x="1125.95" y="439.85" width="12.5" height="12.5" fill="#c9493b"/><rect x="1138.1" y="439.85" width="12.5" height="12.5" fill="#d6634f"/><rect x="1150.25" y="439.85" width="12.5" height="12.5" fill="#e2826b"/><rect x="1162.4" y="439.85" width="12.5" height="12.5" fill="#eca286"/><rect x="1174.55" y="439.85" width="12.5" height="12.5" fill="#f2f0f2"/><rect x="1186.7" y="439.85" width="12.5" height="12.5" fill="#1a4084"/><rect x="1198.85" y="439.85" width="12.5" height="12.5" fill="#c6dcee"/><rect x="1211" y="439.85" width="12.5" height="12.5" fill="#f2f0f2"/><rect x="1223.15" y="439.85" width="12.5" height="12.5" fill="#eca286"/><rect x="1235.3" y="439.85" width="12.5" height="12.5" fill="#e2826b"/><rect x="1247.45" y="439.85" width="12.5" height="12.5" fill="#eca286"/><rect x="1259.6" y="439.85" width="12.5" height="12.5" fill="#eca286"/><rect x="1271.75" y="439.85" width="12.5" height="12.5" fill="#e2826b"/><rect x="1283.9" y="439.85" width="12.5" height="12.5" fill="#d6634f"/><rect x="1296.05" y="439.85" width="12.5" height="12.5" fill="#e2826b"/><rect x="1308.2" y="439.85" width="12.5" height="12.5" fill="#e2826b"/><rect x="1320.35" y="439.85" width="12.5" height="12.5" fill="#eca286"/><rect x="1332.5" y="439.85" width="12.5" height="12.5" fill="#eca286"/><rect x="1344.65" y="439.85" width="12.15" height="12.5" fill="#e2826b"/><rect x="1089.5" y="452" width="12.5" height="12.5" fill="#c9493b"/><rect x="1101.65" y="452" width="12.5" height="12.5" fill="#c9493b"/><rect x="1113.8" y="452" width="12.5" height="12.5" fill="#c9493b"/><rect x="1125.95" y="452" width="12.5" height="12.5" fill="#c9493b"/><rect x="1138.1" y="452" width="12.5" height="12.5" fill="#c9493b"/><rect x="1150.25" y="452" width="12.5" height="12.5" fill="#e2826b"/><rect x="1162.4" y="452" width="12.5" height="12.5" fill="#f2f0f2"/><rect x="1174.55" y="452" width="12.5" height="12.5" fill="#8cb8dc"/><rect x="1186.7" y="452" width="12.5" height="12.5" fill="#3f7cbc"/><rect x="1198.85" y="452" width="12.5" height="12.5" fill="#8cb8dc"/><rect x="1211" y="452" width="12.5" height="12.5" fill="#c6dcee"/><rect x="1223.15" y="452" width="12.5" height="12.5" fill="#c6dcee"/><rect x="1235.3" y="452" width="12.5" height="12.5" fill="#f5cdbb"/><rect x="1247.45" y="452" width="12.5" height="12.5" fill="#eca286"/><rect x="1259.6" y="452" width="12.5" height="12.5" fill="#eca286"/><rect x="1271.75" y="452" width="12.5" height="12.5" fill="#eca286"/><rect x="1283.9" y="452" width="12.5" height="12.5" fill="#e2826b"/><rect x="1296.05" y="452" width="12.5" height="12.5" fill="#e2826b"/><rect x="1308.2" y="452" width="12.5" height="12.5" fill="#e2826b"/><rect x="1320.35" y="452" width="12.5" height="12.5" fill="#e2826b"/><rect x="1332.5" y="452" width="12.5" height="12.5" fill="#e2826b"/><rect x="1344.65" y="452" width="12.15" height="12.5" fill="#eca286"/><rect x="1089.5" y="464.15" width="12.5" height="12.5" fill="#c9493b"/><rect x="1101.65" y="464.15" width="12.5" height="12.5" fill="#c9493b"/><rect x="1113.8" y="464.15" width="12.5" height="12.5" fill="#c9493b"/><rect x="1125.95" y="464.15" width="12.5" height="12.5" fill="#c9493b"/><rect x="1138.1" y="464.15" width="12.5" height="12.5" fill="#c9493b"/><rect x="1150.25" y="464.15" width="12.5" height="12.5" fill="#d6634f"/><rect x="1162.4" y="464.15" width="12.5" height="12.5" fill="#f5cdbb"/><rect x="1174.55" y="464.15" width="12.5" height="12.5" fill="#8cb8dc"/><rect x="1186.7" y="464.15" width="12.5" height="12.5" fill="#3f7cbc"/><rect x="1198.85" y="464.15" width="12.5" height="12.5" fill="#3f7cbc"/><rect x="1211" y="464.15" width="12.5" height="12.5" fill="#8cb8dc"/><rect x="1223.15" y="464.15" width="12.5" height="12.5" fill="#3f7cbc"/><rect x="1235.3" y="464.15" width="12.5" height="12.5" fill="#8cb8dc"/><rect x="1247.45" y="464.15" width="12.5" height="12.5" fill="#c6dcee"/><rect x="1259.6" y="464.15" width="12.5" height="12.5" fill="#f2f0f2"/><rect x="1271.75" y="464.15" width="12.5" height="12.5" fill="#f5cdbb"/><rect x="1283.9" y="464.15" width="12.5" height="12.5" fill="#eca286"/><rect x="1296.05" y="464.15" width="12.5" height="12.5" fill="#eca286"/><rect x="1308.2" y="464.15" width="12.5" height="12.5" fill="#e2826b"/><rect x="1320.35" y="464.15" width="12.5" height="12.5" fill="#e2826b"/><rect x="1332.5" y="464.15" width="12.5" height="12.5" fill="#eca286"/><rect x="1344.65" y="464.15" width="12.15" height="12.5" fill="#eca286"/><rect x="1089.5" y="476.3" width="12.5" height="12.5" fill="#c9493b"/><rect x="1101.65" y="476.3" width="12.5" height="12.5" fill="#c9493b"/><rect x="1113.8" y="476.3" width="12.5" height="12.5" fill="#c9493b"/><rect x="1125.95" y="476.3" width="12.5" height="12.5" fill="#c9493b"/><rect x="1138.1" y="476.3" width="12.5" height="12.5" fill="#c9493b"/><rect x="1150.25" y="476.3" width="12.5" height="12.5" fill="#c9493b"/><rect x="1162.4" y="476.3" width="12.5" height="12.5" fill="#e2826b"/><rect x="1174.55" y="476.3" width="12.5" height="12.5" fill="#f2f0f2"/><rect x="1186.7" y="476.3" width="12.5" height="12.5" fill="#8cb8dc"/><rect x="1198.85" y="476.3" width="12.5" height="12.5" fill="#3f7cbc"/><rect x="1211" y="476.3" width="12.5" height="12.5" fill="#245ca2"/><rect x="1223.15" y="476.3" width="12.5" height="12.5" fill="#245ca2"/><rect x="1235.3" y="476.3" width="12.5" height="12.5" fill="#3f7cbc"/><rect x="1247.45" y="476.3" width="12.5" height="12.5" fill="#8cb8dc"/><rect x="1259.6" y="476.3" width="12.5" height="12.5" fill="#c6dcee"/><rect x="1271.75" y="476.3" width="12.5" height="12.5" fill="#f2f0f2"/><rect x="1283.9" y="476.3" width="12.5" height="12.5" fill="#f5cdbb"/><rect x="1296.05" y="476.3" width="12.5" height="12.5" fill="#f5cdbb"/><rect x="1308.2" y="476.3" width="12.5" height="12.5" fill="#eca286"/><rect x="1320.35" y="476.3" width="12.5" height="12.5" fill="#eca286"/><rect x="1332.5" y="476.3" width="12.5" height="12.5" fill="#eca286"/><rect x="1344.65" y="476.3" width="12.15" height="12.5" fill="#f0b8a2"/><rect x="1089.5" y="488.45" width="12.5" height="12.5" fill="#c9493b"/><rect x="1101.65" y="488.45" width="12.5" height="12.5" fill="#c9493b"/><rect x="1113.8" y="488.45" width="12.5" height="12.5" fill="#c9493b"/><rect x="1125.95" y="488.45" width="12.5" height="12.5" fill="#c9493b"/><rect x="1138.1" y="488.45" width="12.5" height="12.5" fill="#c9493b"/><rect x="1150.25" y="488.45" width="12.5" height="12.5" fill="#c9493b"/><rect x="1162.4" y="488.45" width="12.5" height="12.5" fill="#e2826b"/><rect x="1174.55" y="488.45" width="12.5" height="12.5" fill="#f5cdbb"/><rect x="1186.7" y="488.45" width="12.5" height="12.5" fill="#f2f0f2"/><rect x="1198.85" y="488.45" width="12.5" height="12.5" fill="#3f7cbc"/><rect x="1211" y="488.45" width="12.5" height="12.5" fill="#245ca2"/><rect x="1223.15" y="488.45" width="12.5" height="12.5" fill="#245ca2"/><rect x="1235.3" y="488.45" width="12.5" height="12.5" fill="#3f7cbc"/><rect x="1247.45" y="488.45" width="12.5" height="12.5" fill="#3f7cbc"/><rect x="1259.6" y="488.45" width="12.5" height="12.5" fill="#8cb8dc"/><rect x="1271.75" y="488.45" width="12.5" height="12.5" fill="#c6dcee"/><rect x="1283.9" y="488.45" width="12.5" height="12.5" fill="#f2f0f2"/><rect x="1296.05" y="488.45" width="12.5" height="12.5" fill="#f5cdbb"/><rect x="1308.2" y="488.45" width="12.5" height="12.5" fill="#eca286"/><rect x="1320.35" y="488.45" width="12.5" height="12.5" fill="#eca286"/><rect x="1332.5" y="488.45" width="12.5" height="12.5" fill="#eca286"/><rect x="1344.65" y="488.45" width="12.15" height="12.5" fill="#f0b8a2"/><rect x="1089.5" y="500.6" width="12.5" height="12.5" fill="#c9493b"/><rect x="1101.65" y="500.6" width="12.5" height="12.5" fill="#c9493b"/><rect x="1113.8" y="500.6" width="12.5" height="12.5" fill="#c9493b"/><rect x="1125.95" y="500.6" width="12.5" height="12.5" fill="#c9493b"/><rect x="1138.1" y="500.6" width="12.5" height="12.5" fill="#c9493b"/><rect x="1150.25" y="500.6" width="12.5" height="12.5" fill="#c9493b"/><rect x="1162.4" y="500.6" width="12.5" height="12.5" fill="#d6634f"/><rect x="1174.55" y="500.6" width="12.5" height="12.5" fill="#e2826b"/><rect x="1186.7" y="500.6" width="12.5" height="12.5" fill="#f5cdbb"/><rect x="1198.85" y="500.6" width="12.5" height="12.5" fill="#8cb8dc"/><rect x="1211" y="500.6" width="12.5" height="12.5" fill="#3f7cbc"/><rect x="1223.15" y="500.6" width="12.5" height="12.5" fill="#245ca2"/><rect x="1235.3" y="500.6" width="12.5" height="12.5" fill="#245ca2"/><rect x="1247.45" y="500.6" width="12.5" height="12.5" fill="#3f7cbc"/><rect x="1259.6" y="500.6" width="12.5" height="12.5" fill="#8cb8dc"/><rect x="1271.75" y="500.6" width="12.5" height="12.5" fill="#8cb8dc"/><rect x="1283.9" y="500.6" width="12.5" height="12.5" fill="#c6dcee"/><rect x="1296.05" y="500.6" width="12.5" height="12.5" fill="#f2f0f2"/><rect x="1308.2" y="500.6" width="12.5" height="12.5" fill="#f2f0f2"/><rect x="1320.35" y="500.6" width="12.5" height="12.5" fill="#f5cdbb"/><rect x="1332.5" y="500.6" width="12.5" height="12.5" fill="#f5cdbb"/><rect x="1344.65" y="500.6" width="12.15" height="12.5" fill="#f0b8a2"/><rect x="1089.5" y="512.75" width="12.5" height="12.5" fill="#c9493b"/><rect x="1101.65" y="512.75" width="12.5" height="12.5" fill="#c9493b"/><rect x="1113.8" y="512.75" width="12.5" height="12.5" fill="#c9493b"/><rect x="1125.95" y="512.75" width="12.5" height="12.5" fill="#c9493b"/><rect x="1138.1" y="512.75" width="12.5" height="12.5" fill="#c9493b"/><rect x="1150.25" y="512.75" width="12.5" height="12.5" fill="#c9493b"/><rect x="1162.4" y="512.75" width="12.5" height="12.5" fill="#c9493b"/><rect x="1174.55" y="512.75" width="12.5" height="12.5" fill="#e2826b"/><rect x="1186.7" y="512.75" width="12.5" height="12.5" fill="#f5cdbb"/><rect x="1198.85" y="512.75" width="12.5" height="12.5" fill="#f2f0f2"/><rect x="1211" y="512.75" width="12.5" height="12.5" fill="#8cb8dc"/><rect x="1223.15" y="512.75" width="12.5" height="12.5" fill="#3f7cbc"/><rect x="1235.3" y="512.75" width="12.5" height="12.5" fill="#245ca2"/><rect x="1247.45" y="512.75" width="12.5" height="12.5" fill="#245ca2"/><rect x="1259.6" y="512.75" width="12.5" height="12.5" fill="#245ca2"/><rect x="1271.75" y="512.75" width="12.5" height="12.5" fill="#3f7cbc"/><rect x="1283.9" y="512.75" width="12.5" height="12.5" fill="#8cb8dc"/><rect x="1296.05" y="512.75" width="12.5" height="12.5" fill="#c6dcee"/><rect x="1308.2" y="512.75" width="12.5" height="12.5" fill="#f2f0f2"/><rect x="1320.35" y="512.75" width="12.5" height="12.5" fill="#f2f0f2"/><rect x="1332.5" y="512.75" width="12.5" height="12.5" fill="#f5cdbb"/><rect x="1344.65" y="512.75" width="12.15" height="12.5" fill="#f0b8a2"/><rect x="1089.5" y="524.9" width="12.5" height="12.5" fill="#c9493b"/><rect x="1101.65" y="524.9" width="12.5" height="12.5" fill="#c9493b"/><rect x="1113.8" y="524.9" width="12.5" height="12.5" fill="#c9493b"/><rect x="1125.95" y="524.9" width="12.5" height="12.5" fill="#c9493b"/><rect x="1138.1" y="524.9" width="12.5" height="12.5" fill="#c9493b"/><rect x="1150.25" y="524.9" width="12.5" height="12.5" fill="#c9493b"/><rect x="1162.4" y="524.9" width="12.5" height="12.5" fill="#c9493b"/><rect x="1174.55" y="524.9" width="12.5" height="12.5" fill="#d6634f"/><rect x="1186.7" y="524.9" width="12.5" height="12.5" fill="#e2826b"/><rect x="1198.85" y="524.9" width="12.5" height="12.5" fill="#f2f0f2"/><rect x="1211" y="524.9" width="12.5" height="12.5" fill="#8cb8dc"/><rect x="1223.15" y="524.9" width="12.5" height="12.5" fill="#3f7cbc"/><rect x="1235.3" y="524.9" width="12.5" height="12.5" fill="#245ca2"/><rect x="1247.45" y="524.9" width="12.5" height="12.5" fill="#245ca2"/><rect x="1259.6" y="524.9" width="12.5" height="12.5" fill="#3f7cbc"/><rect x="1271.75" y="524.9" width="12.5" height="12.5" fill="#3f7cbc"/><rect x="1283.9" y="524.9" width="12.5" height="12.5" fill="#8cb8dc"/><rect x="1296.05" y="524.9" width="12.5" height="12.5" fill="#c6dcee"/><rect x="1308.2" y="524.9" width="12.5" height="12.5" fill="#f2f0f2"/><rect x="1320.35" y="524.9" width="12.5" height="12.5" fill="#f2f0f2"/><rect x="1332.5" y="524.9" width="12.5" height="12.5" fill="#f5cdbb"/><rect x="1344.65" y="524.9" width="12.15" height="12.5" fill="#f0b8a2"/><rect x="1089.5" y="537.05" width="12.5" height="12.5" fill="#c9493b"/><rect x="1101.65" y="537.05" width="12.5" height="12.5" fill="#c9493b"/><rect x="1113.8" y="537.05" width="12.5" height="12.5" fill="#c9493b"/><rect x="1125.95" y="537.05" width="12.5" height="12.5" fill="#c9493b"/><rect x="1138.1" y="537.05" width="12.5" height="12.5" fill="#c9493b"/><rect x="1150.25" y="537.05" width="12.5" height="12.5" fill="#c9493b"/><rect x="1162.4" y="537.05" width="12.5" height="12.5" fill="#c9493b"/><rect x="1174.55" y="537.05" width="12.5" height="12.5" fill="#c9493b"/><rect x="1186.7" y="537.05" width="12.5" height="12.5" fill="#d6634f"/><rect x="1198.85" y="537.05" width="12.5" height="12.5" fill="#f5cdbb"/><rect x="1211" y="537.05" width="12.5" height="12.5" fill="#f2f0f2"/><rect x="1223.15" y="537.05" width="12.5" height="12.5" fill="#8cb8dc"/><rect x="1235.3" y="537.05" width="12.5" height="12.5" fill="#3f7cbc"/><rect x="1247.45" y="537.05" width="12.5" height="12.5" fill="#3f7cbc"/><rect x="1259.6" y="537.05" width="12.5" height="12.5" fill="#3f7cbc"/><rect x="1271.75" y="537.05" width="12.5" height="12.5" fill="#8cb8dc"/><rect x="1283.9" y="537.05" width="12.5" height="12.5" fill="#8cb8dc"/><rect x="1296.05" y="537.05" width="12.5" height="12.5" fill="#c6dcee"/><rect x="1308.2" y="537.05" width="12.5" height="12.5" fill="#f2f0f2"/><rect x="1320.35" y="537.05" width="12.5" height="12.5" fill="#f2f0f2"/><rect x="1332.5" y="537.05" width="12.5" height="12.5" fill="#f5cdbb"/><rect x="1344.65" y="537.05" width="12.15" height="12.5" fill="#f0b8a2"/><rect x="1089.5" y="549.2" width="12.5" height="12.5" fill="#c9493b"/><rect x="1101.65" y="549.2" width="12.5" height="12.5" fill="#c9493b"/><rect x="1113.8" y="549.2" width="12.5" height="12.5" fill="#c9493b"/><rect x="1125.95" y="549.2" width="12.5" height="12.5" fill="#c9493b"/><rect x="1138.1" y="549.2" width="12.5" height="12.5" fill="#c9493b"/><rect x="1150.25" y="549.2" width="12.5" height="12.5" fill="#c9493b"/><rect x="1162.4" y="549.2" width="12.5" height="12.5" fill="#c9493b"/><rect x="1174.55" y="549.2" width="12.5" height="12.5" fill="#c9493b"/><rect x="1186.7" y="549.2" width="12.5" height="12.5" fill="#c9493b"/><rect x="1198.85" y="549.2" width="12.5" height="12.5" fill="#e2826b"/><rect x="1211" y="549.2" width="12.5" height="12.5" fill="#f5cdbb"/><rect x="1223.15" y="549.2" width="12.5" height="12.5" fill="#f2f0f2"/><rect x="1235.3" y="549.2" width="12.5" height="12.5" fill="#8cb8dc"/><rect x="1247.45" y="549.2" width="12.5" height="12.5" fill="#3f7cbc"/><rect x="1259.6" y="549.2" width="12.5" height="12.5" fill="#3f7cbc"/><rect x="1271.75" y="549.2" width="12.5" height="12.5" fill="#8cb8dc"/><rect x="1283.9" y="549.2" width="12.5" height="12.5" fill="#8cb8dc"/><rect x="1296.05" y="549.2" width="12.5" height="12.5" fill="#c6dcee"/><rect x="1308.2" y="549.2" width="12.5" height="12.5" fill="#f2f0f2"/><rect x="1320.35" y="549.2" width="12.5" height="12.5" fill="#f2f0f2"/><rect x="1332.5" y="549.2" width="12.5" height="12.5" fill="#f5cdbb"/><rect x="1344.65" y="549.2" width="12.15" height="12.5" fill="#f0b8a2"/><rect x="1089.5" y="561.35" width="12.5" height="12.5" fill="#c9493b"/><rect x="1101.65" y="561.35" width="12.5" height="12.5" fill="#c9493b"/><rect x="1113.8" y="561.35" width="12.5" height="12.5" fill="#c9493b"/><rect x="1125.95" y="561.35" width="12.5" height="12.5" fill="#c9493b"/><rect x="1138.1" y="561.35" width="12.5" height="12.5" fill="#c9493b"/><rect x="1150.25" y="561.35" width="12.5" height="12.5" fill="#c9493b"/><rect x="1162.4" y="561.35" width="12.5" height="12.5" fill="#c9493b"/><rect x="1174.55" y="561.35" width="12.5" height="12.5" fill="#c9493b"/><rect x="1186.7" y="561.35" width="12.5" height="12.5" fill="#c9493b"/><rect x="1198.85" y="561.35" width="12.5" height="12.5" fill="#d6634f"/><rect x="1211" y="561.35" width="12.5" height="12.5" fill="#e2826b"/><rect x="1223.15" y="561.35" width="12.5" height="12.5" fill="#f5cdbb"/><rect x="1235.3" y="561.35" width="12.5" height="12.5" fill="#f2f0f2"/><rect x="1247.45" y="561.35" width="12.5" height="12.5" fill="#3f7cbc"/><rect x="1259.6" y="561.35" width="12.5" height="12.5" fill="#3f7cbc"/><rect x="1271.75" y="561.35" width="12.5" height="12.5" fill="#8cb8dc"/><rect x="1283.9" y="561.35" width="12.5" height="12.5" fill="#8cb8dc"/><rect x="1296.05" y="561.35" width="12.5" height="12.5" fill="#c6dcee"/><rect x="1308.2" y="561.35" width="12.5" height="12.5" fill="#c6dcee"/><rect x="1320.35" y="561.35" width="12.5" height="12.5" fill="#f2f0f2"/><rect x="1332.5" y="561.35" width="12.5" height="12.5" fill="#f5cdbb"/><rect x="1344.65" y="561.35" width="12.15" height="12.5" fill="#f0b8a2"/><rect x="1089.5" y="573.5" width="12.5" height="12.5" fill="#c9493b"/><rect x="1101.65" y="573.5" width="12.5" height="12.5" fill="#c9493b"/><rect x="1113.8" y="573.5" width="12.5" height="12.5" fill="#c9493b"/><rect x="1125.95" y="573.5" width="12.5" height="12.5" fill="#c9493b"/><rect x="1138.1" y="573.5" width="12.5" height="12.5" fill="#c9493b"/><rect x="1150.25" y="573.5" width="12.5" height="12.5" fill="#c9493b"/><rect x="1162.4" y="573.5" width="12.5" height="12.5" fill="#c9493b"/><rect x="1174.55" y="573.5" width="12.5" height="12.5" fill="#c9493b"/><rect x="1186.7" y="573.5" width="12.5" height="12.5" fill="#c9493b"/><rect x="1198.85" y="573.5" width="12.5" height="12.5" fill="#c9493b"/><rect x="1211" y="573.5" width="12.5" height="12.5" fill="#d6634f"/><rect x="1223.15" y="573.5" width="12.5" height="12.5" fill="#e2826b"/><rect x="1235.3" y="573.5" width="12.5" height="12.5" fill="#f5cdbb"/><rect x="1247.45" y="573.5" width="12.5" height="12.5" fill="#8cb8dc"/><rect x="1259.6" y="573.5" width="12.5" height="12.5" fill="#8cb8dc"/><rect x="1271.75" y="573.5" width="12.5" height="12.5" fill="#8cb8dc"/><rect x="1283.9" y="573.5" width="12.5" height="12.5" fill="#8cb8dc"/><rect x="1296.05" y="573.5" width="12.5" height="12.5" fill="#8cb8dc"/><rect x="1308.2" y="573.5" width="12.5" height="12.5" fill="#c6dcee"/><rect x="1320.35" y="573.5" width="12.5" height="12.5" fill="#f2f0f2"/><rect x="1332.5" y="573.5" width="12.5" height="12.5" fill="#f5cdbb"/><rect x="1344.65" y="573.5" width="12.15" height="12.5" fill="#f0b8a2"/><rect x="1089.5" y="585.65" width="12.5" height="12.15" fill="#c9493b"/><rect x="1101.65" y="585.65" width="12.5" height="12.15" fill="#c9493b"/><rect x="1113.8" y="585.65" width="12.5" height="12.15" fill="#c9493b"/><rect x="1125.95" y="585.65" width="12.5" height="12.15" fill="#c9493b"/><rect x="1138.1" y="585.65" width="12.5" height="12.15" fill="#c9493b"/><rect x="1150.25" y="585.65" width="12.5" height="12.15" fill="#c9493b"/><rect x="1162.4" y="585.65" width="12.5" height="12.15" fill="#c9493b"/><rect x="1174.55" y="585.65" width="12.5" height="12.15" fill="#c9493b"/><rect x="1186.7" y="585.65" width="12.5" height="12.15" fill="#c9493b"/><rect x="1198.85" y="585.65" width="12.5" height="12.15" fill="#c9493b"/><rect x="1211" y="585.65" width="12.5" height="12.15" fill="#c9493b"/><rect x="1223.15" y="585.65" width="12.5" height="12.15" fill="#d6634f"/><rect x="1235.3" y="585.65" width="12.5" height="12.15" fill="#e2826b"/><rect x="1247.45" y="585.65" width="12.5" height="12.15" fill="#f2f0f2"/><rect x="1259.6" y="585.65" width="12.5" height="12.15" fill="#8cb8dc"/><rect x="1271.75" y="585.65" width="12.5" height="12.15" fill="#8cb8dc"/><rect x="1283.9" y="585.65" width="12.5" height="12.15" fill="#8cb8dc"/><rect x="1296.05" y="585.65" width="12.5" height="12.15" fill="#c6dcee"/><rect x="1308.2" y="585.65" width="12.5" height="12.15" fill="#c6dcee"/><rect x="1320.35" y="585.65" width="12.5" height="12.15" fill="#f2f0f2"/><rect x="1332.5" y="585.65" width="12.5" height="12.15" fill="#f5cdbb"/><rect x="1344.65" y="585.65" width="12.15" height="12.15" fill="#f0b8a2"/></g></g>
<clipPath id="mapclip"><rect x="1089.5" y="330.5" width="267.3" height="267.3"/></clipPath>
<g clip-path="url(#mapclip)">
<g fill="none" stroke="#f8f0f0" stroke-width="0.85" opacity="0.8"><ellipse cx="1088.5" cy="342.9" rx="3.2" ry="1.5" transform="rotate(-20 1088.5 342.9)"/><ellipse cx="1100.7" cy="342.9" rx="3.2" ry="1.5" transform="rotate(-20 1100.7 342.9)"/><ellipse cx="1112.8" cy="342.9" rx="3.2" ry="1.5" transform="rotate(-20 1112.8 342.9)"/><ellipse cx="1125" cy="342.9" rx="3.2" ry="1.5" transform="rotate(-20 1125 342.9)"/><ellipse cx="1137.1" cy="342.9" rx="3.2" ry="1.5" transform="rotate(-20 1137.1 342.9)"/><ellipse cx="1149.2" cy="342.9" rx="3.2" ry="1.5" transform="rotate(-20 1149.2 342.9)"/><ellipse cx="1173.5" cy="342.9" rx="3.2" ry="1.5" transform="rotate(-20 1173.5 342.9)"/><ellipse cx="1185.7" cy="342.9" rx="3.2" ry="1.5" transform="rotate(-20 1185.7 342.9)"/><ellipse cx="1197.8" cy="342.9" rx="3.2" ry="1.5" transform="rotate(-20 1197.8 342.9)"/><ellipse cx="1210" cy="342.9" rx="3.2" ry="1.5" transform="rotate(-20 1210 342.9)"/><ellipse cx="1222.2" cy="342.9" rx="3.2" ry="1.5" transform="rotate(-20 1222.2 342.9)"/><ellipse cx="1088.5" cy="355.1" rx="3.2" ry="1.5" transform="rotate(-20 1088.5 355.1)"/><ellipse cx="1100.7" cy="355.1" rx="3.2" ry="1.5" transform="rotate(-20 1100.7 355.1)"/><ellipse cx="1112.8" cy="355.1" rx="3.2" ry="1.5" transform="rotate(-20 1112.8 355.1)"/><ellipse cx="1125" cy="355.1" rx="3.2" ry="1.5" transform="rotate(-20 1125 355.1)"/><ellipse cx="1137.1" cy="355.1" rx="3.2" ry="1.5" transform="rotate(-20 1137.1 355.1)"/><ellipse cx="1149.2" cy="355.1" rx="3.2" ry="1.5" transform="rotate(-20 1149.2 355.1)"/><ellipse cx="1161.4" cy="355.1" rx="3.2" ry="1.5" transform="rotate(-20 1161.4 355.1)"/><ellipse cx="1173.5" cy="355.1" rx="3.2" ry="1.5" transform="rotate(-20 1173.5 355.1)"/><ellipse cx="1185.7" cy="355.1" rx="3.2" ry="1.5" transform="rotate(-20 1185.7 355.1)"/><ellipse cx="1197.8" cy="355.1" rx="3.2" ry="1.5" transform="rotate(-20 1197.8 355.1)"/><ellipse cx="1210" cy="355.1" rx="3.2" ry="1.5" transform="rotate(-20 1210 355.1)"/><ellipse cx="1222.2" cy="355.1" rx="3.2" ry="1.5" transform="rotate(-20 1222.2 355.1)"/><ellipse cx="1234.3" cy="355.1" rx="3.2" ry="1.5" transform="rotate(-20 1234.3 355.1)"/><ellipse cx="1088.5" cy="367.2" rx="3.2" ry="1.5" transform="rotate(-20 1088.5 367.2)"/><ellipse cx="1100.7" cy="367.2" rx="3.2" ry="1.5" transform="rotate(-20 1100.7 367.2)"/><ellipse cx="1112.8" cy="367.2" rx="3.2" ry="1.5" transform="rotate(-20 1112.8 367.2)"/><ellipse cx="1125" cy="367.2" rx="3.2" ry="1.5" transform="rotate(-20 1125 367.2)"/><ellipse cx="1137.1" cy="367.2" rx="3.2" ry="1.5" transform="rotate(-20 1137.1 367.2)"/><ellipse cx="1149.2" cy="367.2" rx="3.2" ry="1.5" transform="rotate(-20 1149.2 367.2)"/><ellipse cx="1161.4" cy="367.2" rx="3.2" ry="1.5" transform="rotate(-20 1161.4 367.2)"/><ellipse cx="1173.5" cy="367.2" rx="3.2" ry="1.5" transform="rotate(-20 1173.5 367.2)"/><ellipse cx="1185.7" cy="367.2" rx="3.2" ry="1.5" transform="rotate(-20 1185.7 367.2)"/><ellipse cx="1210" cy="367.2" rx="3.2" ry="1.5" transform="rotate(-20 1210 367.2)"/><ellipse cx="1222.2" cy="367.2" rx="3.2" ry="1.5" transform="rotate(-20 1222.2 367.2)"/><ellipse cx="1234.3" cy="367.2" rx="3.2" ry="1.5" transform="rotate(-20 1234.3 367.2)"/><ellipse cx="1246.5" cy="367.2" rx="3.2" ry="1.5" transform="rotate(-20 1246.5 367.2)"/><ellipse cx="1088.5" cy="379.4" rx="3.2" ry="1.5" transform="rotate(-20 1088.5 379.4)"/><ellipse cx="1100.7" cy="379.4" rx="3.2" ry="1.5" transform="rotate(-20 1100.7 379.4)"/><ellipse cx="1112.8" cy="379.4" rx="3.2" ry="1.5" transform="rotate(-20 1112.8 379.4)"/><ellipse cx="1125" cy="379.4" rx="3.2" ry="1.5" transform="rotate(-20 1125 379.4)"/><ellipse cx="1137.1" cy="379.4" rx="3.2" ry="1.5" transform="rotate(-20 1137.1 379.4)"/><ellipse cx="1149.2" cy="379.4" rx="3.2" ry="1.5" transform="rotate(-20 1149.2 379.4)"/><ellipse cx="1161.4" cy="379.4" rx="3.2" ry="1.5" transform="rotate(-20 1161.4 379.4)"/><ellipse cx="1173.5" cy="379.4" rx="3.2" ry="1.5" transform="rotate(-20 1173.5 379.4)"/><ellipse cx="1185.7" cy="379.4" rx="3.2" ry="1.5" transform="rotate(-20 1185.7 379.4)"/><ellipse cx="1197.8" cy="379.4" rx="3.2" ry="1.5" transform="rotate(-20 1197.8 379.4)"/><ellipse cx="1210" cy="379.4" rx="3.2" ry="1.5" transform="rotate(-20 1210 379.4)"/><ellipse cx="1222.2" cy="379.4" rx="3.2" ry="1.5" transform="rotate(-20 1222.2 379.4)"/><ellipse cx="1234.3" cy="379.4" rx="3.2" ry="1.5" transform="rotate(-20 1234.3 379.4)"/><ellipse cx="1246.5" cy="379.4" rx="3.2" ry="1.5" transform="rotate(-20 1246.5 379.4)"/><ellipse cx="1100.7" cy="391.6" rx="3.2" ry="1.5" transform="rotate(-20 1100.7 391.6)"/><ellipse cx="1112.8" cy="391.6" rx="3.2" ry="1.5" transform="rotate(-20 1112.8 391.6)"/><ellipse cx="1125" cy="391.6" rx="3.2" ry="1.5" transform="rotate(-20 1125 391.6)"/><ellipse cx="1137.1" cy="391.6" rx="3.2" ry="1.5" transform="rotate(-20 1137.1 391.6)"/><ellipse cx="1149.2" cy="391.6" rx="3.2" ry="1.5" transform="rotate(-20 1149.2 391.6)"/><ellipse cx="1161.4" cy="391.6" rx="3.2" ry="1.5" transform="rotate(-20 1161.4 391.6)"/><ellipse cx="1173.5" cy="391.6" rx="3.2" ry="1.5" transform="rotate(-20 1173.5 391.6)"/><ellipse cx="1185.7" cy="391.6" rx="3.2" ry="1.5" transform="rotate(-20 1185.7 391.6)"/><ellipse cx="1197.8" cy="391.6" rx="3.2" ry="1.5" transform="rotate(-20 1197.8 391.6)"/><ellipse cx="1210" cy="391.6" rx="3.2" ry="1.5" transform="rotate(-20 1210 391.6)"/><ellipse cx="1222.2" cy="391.6" rx="3.2" ry="1.5" transform="rotate(-20 1222.2 391.6)"/><ellipse cx="1234.3" cy="391.6" rx="3.2" ry="1.5" transform="rotate(-20 1234.3 391.6)"/><ellipse cx="1246.5" cy="391.6" rx="3.2" ry="1.5" transform="rotate(-20 1246.5 391.6)"/><ellipse cx="1112.8" cy="403.7" rx="3.2" ry="1.5" transform="rotate(-20 1112.8 403.7)"/><ellipse cx="1125" cy="403.7" rx="3.2" ry="1.5" transform="rotate(-20 1125 403.7)"/><ellipse cx="1137.1" cy="403.7" rx="3.2" ry="1.5" transform="rotate(-20 1137.1 403.7)"/><ellipse cx="1149.2" cy="403.7" rx="3.2" ry="1.5" transform="rotate(-20 1149.2 403.7)"/><ellipse cx="1161.4" cy="403.7" rx="3.2" ry="1.5" transform="rotate(-20 1161.4 403.7)"/><ellipse cx="1173.5" cy="403.7" rx="3.2" ry="1.5" transform="rotate(-20 1173.5 403.7)"/><ellipse cx="1185.7" cy="403.7" rx="3.2" ry="1.5" transform="rotate(-20 1185.7 403.7)"/><ellipse cx="1197.8" cy="403.7" rx="3.2" ry="1.5" transform="rotate(-20 1197.8 403.7)"/><ellipse cx="1210" cy="403.7" rx="3.2" ry="1.5" transform="rotate(-20 1210 403.7)"/><ellipse cx="1222.2" cy="403.7" rx="3.2" ry="1.5" transform="rotate(-20 1222.2 403.7)"/><ellipse cx="1234.3" cy="403.7" rx="3.2" ry="1.5" transform="rotate(-20 1234.3 403.7)"/><ellipse cx="1088.5" cy="415.9" rx="3.2" ry="1.5" transform="rotate(-20 1088.5 415.9)"/><ellipse cx="1100.7" cy="415.9" rx="3.2" ry="1.5" transform="rotate(-20 1100.7 415.9)"/><ellipse cx="1112.8" cy="415.9" rx="3.2" ry="1.5" transform="rotate(-20 1112.8 415.9)"/><ellipse cx="1125" cy="415.9" rx="3.2" ry="1.5" transform="rotate(-20 1125 415.9)"/><ellipse cx="1137.1" cy="415.9" rx="3.2" ry="1.5" transform="rotate(-20 1137.1 415.9)"/><ellipse cx="1149.2" cy="415.9" rx="3.2" ry="1.5" transform="rotate(-20 1149.2 415.9)"/><ellipse cx="1161.4" cy="415.9" rx="3.2" ry="1.5" transform="rotate(-20 1161.4 415.9)"/><ellipse cx="1173.5" cy="415.9" rx="3.2" ry="1.5" transform="rotate(-20 1173.5 415.9)"/><ellipse cx="1185.7" cy="415.9" rx="3.2" ry="1.5" transform="rotate(-20 1185.7 415.9)"/><ellipse cx="1197.8" cy="415.9" rx="3.2" ry="1.5" transform="rotate(-20 1197.8 415.9)"/><ellipse cx="1210" cy="415.9" rx="3.2" ry="1.5" transform="rotate(-20 1210 415.9)"/><ellipse cx="1222.2" cy="415.9" rx="3.2" ry="1.5" transform="rotate(-20 1222.2 415.9)"/><ellipse cx="1234.3" cy="415.9" rx="3.2" ry="1.5" transform="rotate(-20 1234.3 415.9)"/><ellipse cx="1246.5" cy="415.9" rx="3.2" ry="1.5" transform="rotate(-20 1246.5 415.9)"/><ellipse cx="1270.8" cy="415.9" rx="3.2" ry="1.5" transform="rotate(-20 1270.8 415.9)"/><ellipse cx="1282.9" cy="415.9" rx="3.2" ry="1.5" transform="rotate(-20 1282.9 415.9)"/><ellipse cx="1088.5" cy="428" rx="3.2" ry="1.5" transform="rotate(-20 1088.5 428)"/><ellipse cx="1100.7" cy="428" rx="3.2" ry="1.5" transform="rotate(-20 1100.7 428)"/><ellipse cx="1112.8" cy="428" rx="3.2" ry="1.5" transform="rotate(-20 1112.8 428)"/><ellipse cx="1125" cy="428" rx="3.2" ry="1.5" transform="rotate(-20 1125 428)"/><ellipse cx="1137.1" cy="428" rx="3.2" ry="1.5" transform="rotate(-20 1137.1 428)"/><ellipse cx="1149.2" cy="428" rx="3.2" ry="1.5" transform="rotate(-20 1149.2 428)"/><ellipse cx="1161.4" cy="428" rx="3.2" ry="1.5" transform="rotate(-20 1161.4 428)"/><ellipse cx="1173.5" cy="428" rx="3.2" ry="1.5" transform="rotate(-20 1173.5 428)"/><ellipse cx="1222.2" cy="428" rx="3.2" ry="1.5" transform="rotate(-20 1222.2 428)"/><ellipse cx="1234.3" cy="428" rx="3.2" ry="1.5" transform="rotate(-20 1234.3 428)"/><ellipse cx="1246.5" cy="428" rx="3.2" ry="1.5" transform="rotate(-20 1246.5 428)"/><ellipse cx="1282.9" cy="428" rx="3.2" ry="1.5" transform="rotate(-20 1282.9 428)"/></g>
<g fill="none" stroke="#3a3036" stroke-width="0.9" opacity="0.75"><ellipse cx="1173.5" cy="440.2" rx="3.3" ry="1.1" transform="rotate(-20 1173.5 440.2)"/><ellipse cx="1185.7" cy="440.2" rx="3.3" ry="2.5" transform="rotate(-12 1185.7 440.2)"/><ellipse cx="1197.8" cy="440.2" rx="3.3" ry="1.1" transform="rotate(-20 1197.8 440.2)"/><ellipse cx="1210" cy="440.2" rx="3.3" ry="1.1" transform="rotate(-20 1210 440.2)"/><ellipse cx="1161.4" cy="452.3" rx="3.3" ry="1.1" transform="rotate(-20 1161.4 452.3)"/><ellipse cx="1173.5" cy="452.3" rx="3.3" ry="1.9" transform="rotate(-12 1173.5 452.3)"/><ellipse cx="1185.7" cy="452.3" rx="3.3" ry="2.5" transform="rotate(-12 1185.7 452.3)"/><ellipse cx="1197.8" cy="452.3" rx="3.3" ry="1.9" transform="rotate(-12 1197.8 452.3)"/><ellipse cx="1210" cy="452.3" rx="3.3" ry="1.1" transform="rotate(-20 1210 452.3)"/><ellipse cx="1222.2" cy="452.3" rx="3.3" ry="1.1" transform="rotate(-20 1222.2 452.3)"/><ellipse cx="1173.5" cy="464.5" rx="3.3" ry="1.9" transform="rotate(-12 1173.5 464.5)"/><ellipse cx="1185.7" cy="464.5" rx="3.3" ry="2.5" transform="rotate(-12 1185.7 464.5)"/><ellipse cx="1197.8" cy="464.5" rx="3.3" ry="2.5" transform="rotate(-12 1197.8 464.5)"/><ellipse cx="1210" cy="464.5" rx="3.3" ry="1.9" transform="rotate(-12 1210 464.5)"/><ellipse cx="1222.2" cy="464.5" rx="3.3" ry="2.5" transform="rotate(-12 1222.2 464.5)"/><ellipse cx="1234.3" cy="464.5" rx="3.3" ry="1.9" transform="rotate(-12 1234.3 464.5)"/><ellipse cx="1246.5" cy="464.5" rx="3.3" ry="1.1" transform="rotate(-20 1246.5 464.5)"/><ellipse cx="1258.6" cy="464.5" rx="3.3" ry="1.1" transform="rotate(-20 1258.6 464.5)"/><ellipse cx="1173.5" cy="476.6" rx="3.3" ry="1.1" transform="rotate(-20 1173.5 476.6)"/><ellipse cx="1185.7" cy="476.6" rx="3.3" ry="1.9" transform="rotate(-12 1185.7 476.6)"/><ellipse cx="1197.8" cy="476.6" rx="3.3" ry="2.5" transform="rotate(-12 1197.8 476.6)"/><ellipse cx="1210" cy="476.6" rx="3.3" ry="2.5" transform="rotate(-12 1210 476.6)"/><ellipse cx="1222.2" cy="476.6" rx="3.3" ry="2.5" transform="rotate(-12 1222.2 476.6)"/><ellipse cx="1234.3" cy="476.6" rx="3.3" ry="2.5" transform="rotate(-12 1234.3 476.6)"/><ellipse cx="1246.5" cy="476.6" rx="3.3" ry="1.9" transform="rotate(-12 1246.5 476.6)"/><ellipse cx="1258.6" cy="476.6" rx="3.3" ry="1.1" transform="rotate(-20 1258.6 476.6)"/><ellipse cx="1270.8" cy="476.6" rx="3.3" ry="1.1" transform="rotate(-20 1270.8 476.6)"/><ellipse cx="1185.7" cy="488.8" rx="3.3" ry="1.1" transform="rotate(-20 1185.7 488.8)"/><ellipse cx="1197.8" cy="488.8" rx="3.3" ry="2.5" transform="rotate(-12 1197.8 488.8)"/><ellipse cx="1210" cy="488.8" rx="3.3" ry="2.5" transform="rotate(-12 1210 488.8)"/><ellipse cx="1222.2" cy="488.8" rx="3.3" ry="2.5" transform="rotate(-12 1222.2 488.8)"/><ellipse cx="1234.3" cy="488.8" rx="3.3" ry="2.5" transform="rotate(-12 1234.3 488.8)"/><ellipse cx="1246.5" cy="488.8" rx="3.3" ry="2.5" transform="rotate(-12 1246.5 488.8)"/><ellipse cx="1258.6" cy="488.8" rx="3.3" ry="1.9" transform="rotate(-12 1258.6 488.8)"/><ellipse cx="1270.8" cy="488.8" rx="3.3" ry="1.1" transform="rotate(-20 1270.8 488.8)"/><ellipse cx="1282.9" cy="488.8" rx="3.3" ry="1.1" transform="rotate(-20 1282.9 488.8)"/><ellipse cx="1197.8" cy="500.9" rx="3.3" ry="1.9" transform="rotate(-12 1197.8 500.9)"/><ellipse cx="1210" cy="500.9" rx="3.3" ry="2.5" transform="rotate(-12 1210 500.9)"/><ellipse cx="1222.2" cy="500.9" rx="3.3" ry="2.5" transform="rotate(-12 1222.2 500.9)"/><ellipse cx="1234.3" cy="500.9" rx="3.3" ry="2.5" transform="rotate(-12 1234.3 500.9)"/><ellipse cx="1246.5" cy="500.9" rx="3.3" ry="2.5" transform="rotate(-12 1246.5 500.9)"/><ellipse cx="1258.6" cy="500.9" rx="3.3" ry="1.9" transform="rotate(-12 1258.6 500.9)"/><ellipse cx="1270.8" cy="500.9" rx="3.3" ry="1.9" transform="rotate(-12 1270.8 500.9)"/><ellipse cx="1282.9" cy="500.9" rx="3.3" ry="1.1" transform="rotate(-20 1282.9 500.9)"/><ellipse cx="1295" cy="500.9" rx="3.3" ry="1.1" transform="rotate(-20 1295 500.9)"/><ellipse cx="1307.2" cy="500.9" rx="3.3" ry="1.1" transform="rotate(-20 1307.2 500.9)"/><ellipse cx="1197.8" cy="513" rx="3.3" ry="1.1" transform="rotate(-20 1197.8 513)"/><ellipse cx="1210" cy="513" rx="3.3" ry="1.9" transform="rotate(-12 1210 513)"/><ellipse cx="1222.2" cy="513" rx="3.3" ry="2.5" transform="rotate(-12 1222.2 513)"/><ellipse cx="1234.3" cy="513" rx="3.3" ry="2.5" transform="rotate(-12 1234.3 513)"/><ellipse cx="1246.5" cy="513" rx="3.3" ry="2.5" transform="rotate(-12 1246.5 513)"/><ellipse cx="1258.6" cy="513" rx="3.3" ry="2.5" transform="rotate(-12 1258.6 513)"/><ellipse cx="1270.8" cy="513" rx="3.3" ry="2.5" transform="rotate(-12 1270.8 513)"/><ellipse cx="1282.9" cy="513" rx="3.3" ry="1.9" transform="rotate(-12 1282.9 513)"/><ellipse cx="1295" cy="513" rx="3.3" ry="1.1" transform="rotate(-20 1295 513)"/><ellipse cx="1307.2" cy="513" rx="3.3" ry="1.1" transform="rotate(-20 1307.2 513)"/><ellipse cx="1319.3" cy="513" rx="3.3" ry="1.1" transform="rotate(-20 1319.3 513)"/><ellipse cx="1197.8" cy="525.2" rx="3.3" ry="1.1" transform="rotate(-20 1197.8 525.2)"/><ellipse cx="1210" cy="525.2" rx="3.3" ry="1.9" transform="rotate(-12 1210 525.2)"/><ellipse cx="1222.2" cy="525.2" rx="3.3" ry="2.5" transform="rotate(-12 1222.2 525.2)"/><ellipse cx="1234.3" cy="525.2" rx="3.3" ry="2.5" transform="rotate(-12 1234.3 525.2)"/><ellipse cx="1246.5" cy="525.2" rx="3.3" ry="2.5" transform="rotate(-12 1246.5 525.2)"/><ellipse cx="1258.6" cy="525.2" rx="3.3" ry="2.5" transform="rotate(-12 1258.6 525.2)"/><ellipse cx="1270.8" cy="525.2" rx="3.3" ry="2.5" transform="rotate(-12 1270.8 525.2)"/><ellipse cx="1282.9" cy="525.2" rx="3.3" ry="1.9" transform="rotate(-12 1282.9 525.2)"/><ellipse cx="1295" cy="525.2" rx="3.3" ry="1.1" transform="rotate(-20 1295 525.2)"/><ellipse cx="1307.2" cy="525.2" rx="3.3" ry="1.1" transform="rotate(-20 1307.2 525.2)"/><ellipse cx="1319.3" cy="525.2" rx="3.3" ry="1.1" transform="rotate(-20 1319.3 525.2)"/><ellipse cx="1210" cy="537.4" rx="3.3" ry="1.1" transform="rotate(-20 1210 537.4)"/><ellipse cx="1222.2" cy="537.4" rx="3.3" ry="1.9" transform="rotate(-12 1222.2 537.4)"/><ellipse cx="1234.3" cy="537.4" rx="3.3" ry="2.5" transform="rotate(-12 1234.3 537.4)"/><ellipse cx="1246.5" cy="537.4" rx="3.3" ry="2.5" transform="rotate(-12 1246.5 537.4)"/><ellipse cx="1258.6" cy="537.4" rx="3.3" ry="2.5" transform="rotate(-12 1258.6 537.4)"/><ellipse cx="1270.8" cy="537.4" rx="3.3" ry="1.9" transform="rotate(-12 1270.8 537.4)"/><ellipse cx="1282.9" cy="537.4" rx="3.3" ry="1.9" transform="rotate(-12 1282.9 537.4)"/><ellipse cx="1295" cy="537.4" rx="3.3" ry="1.1" transform="rotate(-20 1295 537.4)"/><ellipse cx="1307.2" cy="537.4" rx="3.3" ry="1.1" transform="rotate(-20 1307.2 537.4)"/><ellipse cx="1319.3" cy="537.4" rx="3.3" ry="1.1" transform="rotate(-20 1319.3 537.4)"/><ellipse cx="1222.2" cy="549.5" rx="3.3" ry="1.1" transform="rotate(-20 1222.2 549.5)"/><ellipse cx="1234.3" cy="549.5" rx="3.3" ry="1.9" transform="rotate(-12 1234.3 549.5)"/><ellipse cx="1246.5" cy="549.5" rx="3.3" ry="2.5" transform="rotate(-12 1246.5 549.5)"/><ellipse cx="1258.6" cy="549.5" rx="3.3" ry="2.5" transform="rotate(-12 1258.6 549.5)"/><ellipse cx="1270.8" cy="549.5" rx="3.3" ry="1.9" transform="rotate(-12 1270.8 549.5)"/><ellipse cx="1282.9" cy="549.5" rx="3.3" ry="1.9" transform="rotate(-12 1282.9 549.5)"/><ellipse cx="1295" cy="549.5" rx="3.3" ry="1.1" transform="rotate(-20 1295 549.5)"/><ellipse cx="1307.2" cy="549.5" rx="3.3" ry="1.1" transform="rotate(-20 1307.2 549.5)"/><ellipse cx="1319.3" cy="549.5" rx="3.3" ry="1.1" transform="rotate(-20 1319.3 549.5)"/><ellipse cx="1234.3" cy="561.6" rx="3.3" ry="1.1" transform="rotate(-20 1234.3 561.6)"/><ellipse cx="1246.5" cy="561.6" rx="3.3" ry="2.5" transform="rotate(-12 1246.5 561.6)"/><ellipse cx="1258.6" cy="561.6" rx="3.3" ry="2.5" transform="rotate(-12 1258.6 561.6)"/><ellipse cx="1270.8" cy="561.6" rx="3.3" ry="1.9" transform="rotate(-12 1270.8 561.6)"/><ellipse cx="1282.9" cy="561.6" rx="3.3" ry="1.9" transform="rotate(-12 1282.9 561.6)"/><ellipse cx="1295" cy="561.6" rx="3.3" ry="1.1" transform="rotate(-20 1295 561.6)"/><ellipse cx="1307.2" cy="561.6" rx="3.3" ry="1.1" transform="rotate(-20 1307.2 561.6)"/><ellipse cx="1319.3" cy="561.6" rx="3.3" ry="1.1" transform="rotate(-20 1319.3 561.6)"/><ellipse cx="1246.5" cy="573.8" rx="3.3" ry="1.9" transform="rotate(-12 1246.5 573.8)"/><ellipse cx="1258.6" cy="573.8" rx="3.3" ry="1.9" transform="rotate(-12 1258.6 573.8)"/><ellipse cx="1270.8" cy="573.8" rx="3.3" ry="1.9" transform="rotate(-12 1270.8 573.8)"/><ellipse cx="1282.9" cy="573.8" rx="3.3" ry="1.9" transform="rotate(-12 1282.9 573.8)"/><ellipse cx="1295" cy="573.8" rx="3.3" ry="1.9" transform="rotate(-12 1295 573.8)"/><ellipse cx="1307.2" cy="573.8" rx="3.3" ry="1.1" transform="rotate(-20 1307.2 573.8)"/><ellipse cx="1319.3" cy="573.8" rx="3.3" ry="1.1" transform="rotate(-20 1319.3 573.8)"/><ellipse cx="1246.5" cy="586" rx="3.3" ry="1.1" transform="rotate(-20 1246.5 586)"/><ellipse cx="1258.6" cy="586" rx="3.3" ry="1.9" transform="rotate(-12 1258.6 586)"/><ellipse cx="1270.8" cy="586" rx="3.3" ry="1.9" transform="rotate(-12 1270.8 586)"/><ellipse cx="1282.9" cy="586" rx="3.3" ry="1.9" transform="rotate(-12 1282.9 586)"/><ellipse cx="1295" cy="586" rx="3.3" ry="1.1" transform="rotate(-20 1295 586)"/><ellipse cx="1307.2" cy="586" rx="3.3" ry="1.1" transform="rotate(-20 1307.2 586)"/><ellipse cx="1319.3" cy="586" rx="3.3" ry="1.1" transform="rotate(-20 1319.3 586)"/></g>
<path d="M1084.9,330.8h7.2M1097.1,330.8h7.2M1109.2,330.8h7.2M1121.4,330.8h7.2M1133.5,330.8h7.2M1145.7,330.8h7.2M1158.2,332.5L1164.6,329.1M1170.4,332.5L1176.7,329.1M1182.5,332.5L1188.9,329.1M1194.7,332.5L1201,329.1M1206.8,332.5L1213.2,329.1M1219,332.5L1225.3,329.1M1231.1,332.5L1237.5,329.1M1315.8,330.8h7.2M1327.9,330.8h7.2M1340.1,330.8h7.2M1352.2,330.8h7.2M1158.2,344.6L1164.6,341.3M1231.1,344.6L1237.5,341.3M1315.8,342.9h7.2M1327.9,342.9h7.2M1340.1,342.9h7.2M1352.2,342.9h7.2M1243.3,356.8L1249.6,353.4M1327.9,355.1h7.2M1340.1,355.1h7.2M1352.2,355.1h7.2M1194.7,368.9L1201,365.6M1255.4,368.9L1261.8,365.6M1340.1,367.2h7.2M1352.2,367.2h7.2M1255.4,381.1L1261.8,377.7M1267.6,381.1L1273.9,377.7M1279.7,381.1L1286.1,377.7M1084.9,391.6h7.2M1255.4,393.2L1261.8,389.9M1267.6,393.2L1273.9,389.9M1279.7,393.2L1286.1,389.9M1084.9,403.7h7.2M1097.1,403.7h7.2M1243.3,405.4L1249.6,402M1255.4,405.4L1261.8,402M1267.6,405.4L1273.9,402M1279.7,405.4L1286.1,402M1291.9,405.4L1298.2,402M1255.4,417.5L1261.8,414.2M1291.9,417.5L1298.2,414.2M1304,417.5L1310.4,414.2M1182.1,428h7.2M1194.2,428h7.2M1206.4,428h7.2M1255.4,429.7L1261.8,426.3M1267.6,429.7L1273.9,426.3M1291.9,429.7L1298.2,426.3M1304,429.7L1310.4,426.3M1316.2,429.7L1322.5,426.3M1084.9,440.2h7.2M1097.1,440.2h7.2M1109.2,440.2h7.2M1121.4,440.2h7.2M1133.5,440.2h7.2M1145.7,440.2h7.2M1157.8,440.2h7.2M1218.6,440.2h7.2M1230.7,440.2h7.2M1267.6,441.8L1273.9,438.5M1279.7,441.8L1286.1,438.5M1291.9,441.8L1298.2,438.5M1304,441.8L1310.4,438.5M1084.9,452.3h7.2M1097.1,452.3h7.2M1109.2,452.3h7.2M1121.4,452.3h7.2M1133.5,452.3h7.2M1145.7,452.3h7.2M1230.7,452.3h7.2M1242.9,452.3h7.2M1279.7,454L1286.1,450.6M1291.9,454L1298.2,450.6M1304,454L1310.4,450.6M1316.2,454L1322.5,450.6M1084.9,464.5h7.2M1097.1,464.5h7.2M1109.2,464.5h7.2M1121.4,464.5h7.2M1133.5,464.5h7.2M1145.7,464.5h7.2M1157.8,464.5h7.2M1304,466.1L1310.4,462.8M1316.2,466.1L1322.5,462.8M1084.9,476.6h7.2M1097.1,476.6h7.2M1109.2,476.6h7.2M1121.4,476.6h7.2M1133.5,476.6h7.2M1145.7,476.6h7.2M1157.8,476.6h7.2M1084.9,488.8h7.2M1097.1,488.8h7.2M1109.2,488.8h7.2M1121.4,488.8h7.2M1133.5,488.8h7.2M1145.7,488.8h7.2M1157.8,488.8h7.2M1170,488.8h7.2M1084.9,500.9h7.2M1097.1,500.9h7.2M1109.2,500.9h7.2M1121.4,500.9h7.2M1133.5,500.9h7.2M1145.7,500.9h7.2M1157.8,500.9h7.2M1170,500.9h7.2M1182.1,500.9h7.2M1084.9,513h7.2M1097.1,513h7.2M1109.2,513h7.2M1121.4,513h7.2M1133.5,513h7.2M1145.7,513h7.2M1157.8,513h7.2M1170,513h7.2M1182.1,513h7.2M1084.9,525.2h7.2M1097.1,525.2h7.2M1109.2,525.2h7.2M1121.4,525.2h7.2M1133.5,525.2h7.2M1145.7,525.2h7.2M1157.8,525.2h7.2M1170,525.2h7.2M1182.1,525.2h7.2M1084.9,537.4h7.2M1097.1,537.4h7.2M1109.2,537.4h7.2M1121.4,537.4h7.2M1133.5,537.4h7.2M1145.7,537.4h7.2M1157.8,537.4h7.2M1170,537.4h7.2M1182.1,537.4h7.2M1194.2,537.4h7.2M1084.9,549.5h7.2M1097.1,549.5h7.2M1109.2,549.5h7.2M1121.4,549.5h7.2M1133.5,549.5h7.2M1145.7,549.5h7.2M1157.8,549.5h7.2M1170,549.5h7.2M1182.1,549.5h7.2M1194.2,549.5h7.2M1206.4,549.5h7.2M1084.9,561.6h7.2M1097.1,561.6h7.2M1109.2,561.6h7.2M1121.4,561.6h7.2M1133.5,561.6h7.2M1145.7,561.6h7.2M1157.8,561.6h7.2M1170,561.6h7.2M1182.1,561.6h7.2M1194.2,561.6h7.2M1206.4,561.6h7.2M1218.6,561.6h7.2M1084.9,573.8h7.2M1097.1,573.8h7.2M1109.2,573.8h7.2M1121.4,573.8h7.2M1133.5,573.8h7.2M1145.7,573.8h7.2M1157.8,573.8h7.2M1170,573.8h7.2M1182.1,573.8h7.2M1194.2,573.8h7.2M1206.4,573.8h7.2M1218.6,573.8h7.2M1230.7,573.8h7.2M1084.9,586h7.2M1097.1,586h7.2M1109.2,586h7.2M1121.4,586h7.2M1133.5,586h7.2M1145.7,586h7.2M1157.8,586h7.2M1170,586h7.2M1182.1,586h7.2M1194.2,586h7.2M1206.4,586h7.2M1218.6,586h7.2M1230.7,586h7.2" stroke="#fbf2ee" stroke-width="1.35" opacity="0.75" fill="none"/>
<path d="M1242.9,330.8h7.2M1255,330.8h7.2M1267.2,330.8h7.2M1279.3,330.8h7.2M1291.5,330.8h7.2M1303.6,330.8h7.2M1242.9,342.9h7.2M1255,342.9h7.2M1267.2,342.9h7.2M1279.3,342.9h7.2M1291.5,342.9h7.2M1303.6,342.9h7.2M1255,355.1h7.2M1267.2,355.1h7.2M1279.3,355.1h7.2M1291.5,355.1h7.2M1303.6,355.1h7.2M1315.8,355.1h7.2M1267.2,367.2h7.2M1279.3,367.2h7.2M1291.5,367.2h7.2M1303.6,367.2h7.2M1315.8,367.2h7.2M1327.9,367.2h7.2M1291.5,379.4h7.2M1303.6,379.4h7.2M1315.8,379.4h7.2M1327.9,379.4h7.2M1340.1,379.4h7.2M1352.2,379.4h7.2M1291.5,391.6h7.2M1303.6,391.6h7.2M1315.8,391.6h7.2M1327.9,391.6h7.2M1340.1,391.6h7.2M1352.2,391.6h7.2M1303.6,403.7h7.2M1315.8,403.7h7.2M1327.9,403.7h7.2M1340.1,403.7h7.2M1352.2,403.7h7.2M1315.8,415.9h7.2M1327.9,415.9h7.2M1340.1,415.9h7.2M1352.2,415.9h7.2M1327.9,428h7.2M1340.1,428h7.2M1352.2,428h7.2M1243.3,441.8L1249.6,438.5M1255.4,441.8L1261.8,438.5M1316.2,441.8L1322.5,438.5M1327.9,440.2h7.2M1340.1,440.2h7.2M1352.2,440.2h7.2M1255.4,454L1261.8,450.6M1267.6,454L1273.9,450.6M1327.9,452.3h7.2M1340.1,452.3h7.2M1352.2,452.3h7.2M1267.6,466.1L1273.9,462.8M1279.7,466.1L1286.1,462.8M1291.9,466.1L1298.2,462.8M1328.3,466.1L1334.7,462.8M1340.1,464.5h7.2M1352.2,464.5h7.2M1279.7,478.3L1286.1,474.9M1291.9,478.3L1298.2,474.9M1304,478.3L1310.4,474.9M1316.2,478.3L1322.5,474.9M1328.3,478.3L1334.7,474.9M1340.5,478.3L1346.8,474.9M1352.2,476.6h7.2M1291.9,490.4L1298.2,487.1M1304,490.4L1310.4,487.1M1316.2,490.4L1322.5,487.1M1328.3,490.4L1334.7,487.1M1340.5,490.4L1346.8,487.1M1352.6,490.4L1359,487.1M1316.2,502.6L1322.5,499.2M1328.3,502.6L1334.7,499.2M1340.5,502.6L1346.8,499.2M1352.2,500.9h7.2M1328.3,514.7L1334.7,511.4M1340.5,514.7L1346.8,511.4M1352.2,513h7.2M1328.3,526.9L1334.7,523.5M1340.5,526.9L1346.8,523.5M1352.2,525.2h7.2M1328.3,539L1334.7,535.7M1340.1,537.4h7.2M1352.2,537.4h7.2M1328.3,551.2L1334.7,547.8M1340.1,549.5h7.2M1352.2,549.5h7.2M1328.3,563.3L1334.7,560M1340.1,561.6h7.2M1352.2,561.6h7.2M1327.9,573.8h7.2M1340.1,573.8h7.2M1352.2,573.8h7.2M1327.9,586h7.2M1340.1,586h7.2M1352.2,586h7.2" stroke="#4a3630" stroke-width="1.35" opacity="0.75" fill="none"/>
</g>
<rect x="1284.6" y="382.5" width="60.5" height="2.4" fill="#000"/>
<defs><linearGradient id="cph" x1="0" y1="0" x2="1" y2="1"><stop offset="0" stop-color="#c9a9c6"/><stop offset="0.5" stop-color="#d0b2cb"/><stop offset="1" stop-color="#c7a2bf"/></linearGradient></defs>
<polygon points="1143.8,482.7 1205.4,543.2 1152.5,597.5 1090.7,539.5" fill="#cfa6b8"/>
<polygon points="1143.8,482.7 1205.4,543.2 1190.4,558.6 1135.5,506.4 1091.8,537.7 1090.7,539.5" fill="#dac4d8"/>
<polygon points="1119,514.9 1142.1,512.7 1170.4,544.7 1160,576.7 1117.5,520.1" fill="#d7b4cc"/>
<path d="M1143.8,482.7 L1158,496.5 C1150,497 1140,494 1133,490 Z" fill="#d8b8c8" opacity="0.8"/>
<path d="M1092.5,539.5 C1105,530 1122,515 1135.5,508.2 L1189.5,560.5" fill="none" stroke="#f4f4ff" stroke-width="1.4"/>
<path d="M1091.8,537.7 C1104,528 1121,514 1135.5,506.4 L1190.4,558.6" fill="none" stroke="#6c5cc0" stroke-width="1.2"/>
<polygon points="1119,514.9 1142.1,512.7 1170.4,544.7 1160,576.7 1117.5,520.1" fill="none" stroke="#111" stroke-width="1.2"/>
<text x="1138.4" y="533.2" font-size="17.5" text-anchor="middle" fill="#111">3</text>
<text x="1180" y="538.4" font-size="17.5" text-anchor="middle" fill="#111">0</text>
<text x="1118.3" y="560" font-size="17.5" text-anchor="middle" fill="#111">6</text>
<path d="M1153.3,587.8 L1139,571 M1153.3,587.8 L1170.5,573.5" fill="none" stroke="#111" stroke-width="1"/>
<polygon points="1137.6,569.2 1138.6,575 1142.3,572.3" fill="#111"/><polygon points="1171.9,572.2 1166,573 1168.6,576.8" fill="#111"/>
<text x="1131" y="567.8" font-size="6.5" font-weight="bold" font-family="Liberation Serif, serif" fill="#111">ZZ</text>
<text x="1167.4" y="570.7" font-size="6.5" font-weight="bold" font-family="Liberation Serif, serif" fill="#111">AC</text>
<path d="M1081.6,359.6 C1083,350 1085,340 1087,334 C1089,329 1093,325 1099.2,322.5 C1102,324 1104,325.5 1108,326 C1115,327 1122,327 1128.4,326.7 L1210.4,313.4 L1353,484.2 L1301.3,638 Z" fill="none" stroke="#111" stroke-width="1.3" stroke-linejoin="round"/>
<rect x="1090.2" y="603.3" width="123.6" height="25.5" fill="#7470b8"/>
<circle cx="1103.2" cy="615.8" r="10" fill="none" stroke="#fff" stroke-width="1.3"/>
<text x="1120.6" y="621.6" font-size="16.5" fill="#fff">left</text>
<circle cx="1161.8" cy="615.8" r="10" fill="none" stroke="#1a1414" stroke-width="1.5"/>
<text x="1180" y="620.8" font-size="16.5" fill="#1a1414">right</text>
<text x="1397.9" y="45.6" font-size="43.5" font-weight="bold" fill="#120808">(D)</text>
<defs><linearGradient id="dcyl" x1="0" y1="0" x2="1" y2="0"><stop offset="0" stop-color="#e49aa2"/><stop offset="0.35" stop-color="#f4c4c8"/><stop offset="0.7" stop-color="#f0b8be"/><stop offset="1" stop-color="#de929a"/></linearGradient><linearGradient id="dcone" x1="0" y1="0" x2="1" y2="0"><stop offset="0" stop-color="#e69ca4" stop-opacity="0.7"/><stop offset="0.4" stop-color="#f4ccd0" stop-opacity="0.5"/><stop offset="1" stop-color="#e4989f" stop-opacity="0.7"/></linearGradient><linearGradient id="dslabtop" x1="0" y1="0" x2="1" y2="1"><stop offset="0" stop-color="#b2dde8"/><stop offset="1" stop-color="#a6d4e2"/></linearGradient></defs>
<polygon points="1425.5,183.3 1732.5,244 1732.5,262.3 1425.5,201.5" fill="#5e93a2"/>
<polygon points="1732.5,244 1796.7,133.5 1796.7,146 1732.5,262.3" fill="#6aa0ae"/>
<polygon points="1425.5,183.3 1575,106.5 1796.7,133.5 1732.5,244" fill="#a3d6e4"/>
<defs><clipPath id="dcbelow"><polygon points="1540,224.3 1720,259.9 1720,300 1540,300"/></clipPath><clipPath id="dcfront"><polygon points="1425.5,183.3 1732.5,244 1732.5,262.3 1425.5,201.5"/></clipPath><clipPath id="dctop"><polygon points="1425.5,183.3 1575,106.5 1796.7,133.5 1732.5,244"/></clipPath><radialGradient id="dpink" cx="0.5" cy="0.3" r="0.7"><stop offset="0" stop-color="#f2b4b6"/><stop offset="0.75" stop-color="#eaa6aa"/><stop offset="1" stop-color="#cf8a90"/></radialGradient><filter id="dshadow" x="-20%" y="-50%" width="140%" height="200%"><feGaussianBlur stdDeviation="3"/></filter></defs>
<ellipse cx="1622" cy="271" rx="74" ry="12" fill="#000" opacity="0.18" filter="url(#dshadow)"/>
<path d="M1557.5,150 L1557.5,246.4 A72.5,31 0 0 0 1702.5,246.4 L1702.5,150 Z" fill="url(#dpink)" clip-path="url(#dcbelow)"/>
<ellipse cx="1630" cy="226" rx="66" ry="12" fill="#f4c4c6" opacity="0.55" clip-path="url(#dcbelow)"/>
<path d="M1557.5,150 L1557.5,246.4 A72.5,31 0 0 0 1702.5,246.4 L1702.5,150 Z" fill="#6d565b" opacity="0.92" clip-path="url(#dcfront)"/>
<path d="M1557.5,150 L1557.5,246.4 A72.5,31 0 0 0 1702.5,246.4 L1702.5,150 Z" fill="#3f8aa0" opacity="0.42" clip-path="url(#dctop)"/>
<polygon points="1455,179.8 1494.2,156 1499.5,157.2 1460.5,181.8" fill="#f2d81e"/>
<polygon points="1460.5,181.8 1499.5,157.2 1499.5,159.2 1460.5,183.8" fill="#d09a10"/>
<polygon points="1455,179.8 1460.5,181.8 1460.5,183.8 1455,181.8" fill="#6a5008"/>
<polygon points="1483,153.6 1515,160.4 1515,163 1483,156.2" fill="#5a4208"/>
<polygon points="1515,160.4 1576.5,126.5 1576.5,129 1515,163" fill="#e0a818"/>
<polygon points="1483,153.6 1548.3,120.1 1576.5,126.5 1515,160.4" fill="#f6de26"/>
<path d="M1456,181 L1422,200 C1412,205 1411,210 1418,213" fill="none" stroke="#9a9a9a" stroke-width="1.6"/>
<path d="M1456,181 L1422,200" fill="none" stroke="#e8e8e8" stroke-width="0.6"/>
<path d="M1610.5,55.3 L1556,155.5 A74.8,23.8 0 0 0 1705,155.5 L1650.8,55.3 Z" fill="url(#dcone)"/>
<defs><clipPath id="dconeclip"><path d="M1610.5,55.3 L1556,155.5 A74.8,23.8 0 0 0 1705,155.5 L1650.8,55.3 Z"/></clipPath></defs>
<polygon points="1425.5,183.3 1575,106.5 1796.7,133.5 1732.5,244" fill="#a9d8e4" opacity="0.55" clip-path="url(#dconeclip)"/>
<ellipse cx="1630.3" cy="158.7" rx="74.8" ry="23.8" fill="#b85a2a"/>
<rect x="1555.5" y="155.5" width="149.6" height="3.2" fill="#b85a2a"/>
<ellipse cx="1630.3" cy="155.5" rx="74.8" ry="23.8" fill="#e8701e"/>
<ellipse cx="1630.3" cy="155.5" rx="65.3" ry="20.8" fill="#dcc0cc"/>
<ellipse cx="1630.3" cy="155.5" rx="56.1" ry="17.9" fill="#e8701e"/>
<ellipse cx="1630.3" cy="155.5" rx="41.9" ry="13.3" fill="#dcc0cc"/>
<ellipse cx="1630.3" cy="155.5" rx="32.9" ry="10.5" fill="#e8701e"/>
<ellipse cx="1630.3" cy="155.5" rx="18.3" ry="5.8" fill="#e6d0d8"/>
<path d="M1620.5,55 L1620.5,152 A10,3.5 0 0 0 1640.5,152 L1640.5,55 Z" fill="#e0a0a8" opacity="0.25"/>
<path d="M1620.5,57.3 L1620.5,65.3 A10,3.2 0 0 0 1640.5,65.3 L1640.5,57.3 Z" fill="#a86c74" opacity="0.42"/>
<ellipse cx="1630.5" cy="57.3" rx="10" ry="3.2" fill="#8a5a62" opacity="0.45"/>
<path d="M1620.5,83.5 L1620.5,93.5 A10,3.2 0 0 0 1640.5,93.5 L1640.5,83.5 Z" fill="#a86c74" opacity="0.42"/>
<ellipse cx="1630.5" cy="83.5" rx="10" ry="3.2" fill="#8a5a62" opacity="0.45"/>
<path d="M1620.5,101.6 L1620.5,111.7 A10,3.2 0 0 0 1640.5,111.7 L1640.5,101.6 Z" fill="#a86c74" opacity="0.42"/>
<ellipse cx="1630.5" cy="101.6" rx="10" ry="3.2" fill="#8a5a62" opacity="0.45"/>
<path d="M1620.5,121.7 L1620.5,131.8 A10,3.2 0 0 0 1640.5,131.8 L1640.5,121.7 Z" fill="#a86c74" opacity="0.42"/>
<ellipse cx="1630.5" cy="121.7" rx="10" ry="3.2" fill="#8a5a62" opacity="0.45"/>
<path d="M1620.5,139.8 L1620.5,149 A10,3.2 0 0 0 1640.5,149 L1640.5,139.8 Z" fill="#a86c74" opacity="0.42"/>
<ellipse cx="1630.5" cy="139.8" rx="10" ry="3.2" fill="#8a5a62" opacity="0.45"/>
<polygon points="1630.6,27.1 1610.5,55.3 1650.8,55.3" fill="#e8b4b8" opacity="0.85"/>
<polygon points="1630.6,27.1 1610.5,55.3 1630.6,52" fill="#f4d6d8" opacity="0.7"/>
<ellipse cx="1572.6" cy="141" rx="2.3" ry="1.7" fill="#2850b8"/><ellipse cx="1576.6" cy="141.4" rx="2.3" ry="1.7" fill="#d82828"/><ellipse cx="1640" cy="132.7" rx="2.3" ry="1.7" fill="#2850b8"/><ellipse cx="1644" cy="133.1" rx="2.3" ry="1.7" fill="#d82828"/><ellipse cx="1619.1" cy="138.7" rx="2.3" ry="1.7" fill="#2850b8"/><ellipse cx="1623.1" cy="139.1" rx="2.3" ry="1.7" fill="#d82828"/><ellipse cx="1604.5" cy="149.6" rx="2.3" ry="1.7" fill="#2850b8"/><ellipse cx="1608.5" cy="150" rx="2.3" ry="1.7" fill="#d82828"/><ellipse cx="1580.4" cy="158.3" rx="2.3" ry="1.7" fill="#2850b8"/><ellipse cx="1584.4" cy="158.7" rx="2.3" ry="1.7" fill="#d82828"/><ellipse cx="1650.1" cy="151" rx="2.3" ry="1.7" fill="#2850b8"/><ellipse cx="1654.1" cy="151.4" rx="2.3" ry="1.7" fill="#d82828"/><ellipse cx="1697.5" cy="152.8" rx="2.3" ry="1.7" fill="#2850b8"/><ellipse cx="1701.5" cy="153.2" rx="2.3" ry="1.7" fill="#d82828"/><ellipse cx="1636.4" cy="171" rx="2.3" ry="1.7" fill="#2850b8"/><ellipse cx="1640.4" cy="171.4" rx="2.3" ry="1.7" fill="#d82828"/><ellipse cx="1595.4" cy="177.4" rx="2.3" ry="1.7" fill="#2850b8"/><ellipse cx="1599.4" cy="177.8" rx="2.3" ry="1.7" fill="#d82828"/><ellipse cx="1680.2" cy="172.9" rx="2.3" ry="1.7" fill="#2850b8"/><ellipse cx="1684.2" cy="173.3" rx="2.3" ry="1.7" fill="#d82828"/>
<polygon points="1646.8,153.5 1730.4,164.3 1730.4,167.8 1646.8,157" fill="#b89810"/>
<polygon points="1646.8,151.2 1731,162 1734.5,163.8 1648,153.5" fill="#f0d41c"/>
<polygon points="1730.4,162 1734.5,163.8 1685.5,224.5 1681.5,223" fill="#f0d41c"/>
<polygon points="1734.5,163.8 1734.5,167.5 1685.5,228 1685.5,224.5" fill="#a88c10"/>
<text x="1699.6" y="146.9" font-size="12.8" fill="#111" stroke="#111" stroke-width="0.25">WS<tspan font-size="9" dy="3.6">2</tspan></text>
<text x="1527.2" y="143.8" font-size="12" text-anchor="middle" font-weight="bold" fill="#111">Au</text>
<text x="1515.9" y="183.3" font-size="12" text-anchor="middle" fill="#111" stroke="#111" stroke-width="0.25">Sapphire</text>
<path d="M1683,224.5 L1662,248" fill="none" stroke="#8a8a8a" stroke-width="1.7"/><path d="M1683,224.5 L1662,248" fill="none" stroke="#f0f0f0" stroke-width="0.6"/>
<path d="M1662,248 C1656,256 1649,261 1638,260.5 L1537,239.3" fill="none" stroke="#111" stroke-width="1.7"/>
<path d="M1418,213 C1422,216 1428,217 1434,218.2 L1505.3,231.8" fill="none" stroke="#111" stroke-width="1.7"/>
<ellipse cx="1513.6" cy="234.3" rx="9.2" ry="17.6" transform="rotate(12 1513.6 234.3)" fill="#2a2624"/>
<ellipse cx="1534.5" cy="238.5" rx="6.7" ry="12.5" transform="rotate(12 1534.5 238.5)" fill="#2a2624"/>
<path d="M1450.9,281.6 H1470.2 V262.7 H1489.4 V281.6 H1508.6 V262.7 H1527.9 V281.6 H1547.9" fill="none" stroke="#e03c28" stroke-width="1.7"/>
<path d="M1450.6,254 V286.1 H1553" fill="none" stroke="#2a2a2a" stroke-width="1.5"/>
<polygon points="1450.6,250.5 1447.6,257 1453.6,257" fill="#2a2a2a"/><polygon points="1557,286.1 1550.5,283.1 1550.5,289.1" fill="#2a2a2a"/>
<text x="1438.5" y="260" font-size="12.5" text-anchor="middle" fill="#111"><tspan font-style="italic">V</tspan><tspan font-size="8.5" dy="3.5">g</tspan></text>
<text x="1556.5" y="299.5" font-size="12" text-anchor="middle" fill="#111" font-style="italic">t</text>
<polygon points="1452.8,462.8 1477.3,467.3 1501.7,494.8 1511.5,509.1 1521.3,509.9 1531.1,513.2 1540.9,521.4 1550.7,531.7 1560.4,530.4 1570.2,532.9 1580,541.1 1589.8,535.8 1599.6,537.8 1609.4,519.4 1619.2,507.1 1628.9,488.6 1638.7,472.2 1648.5,446.4 1658.3,451.7 1668.1,440.2 1677.9,434.1 1687.7,450.9 1697.4,446.4 1721.9,467.3 1746.4,498 1770.8,500.9 1795.3,526.3 1795.3,545.3 1770.8,519.9 1746.4,517 1721.9,486.3 1697.4,465.4 1687.7,469.9 1677.9,453.1 1668.1,459.2 1658.3,470.7 1648.5,465.4 1638.7,491.2 1628.9,507.6 1619.2,526.1 1609.4,538.4 1599.6,556.8 1589.8,554.8 1580,560.1 1570.2,551.9 1560.4,549.4 1550.7,550.7 1540.9,540.4 1531.1,532.2 1521.3,528.9 1511.5,528.1 1501.7,513.8 1477.3,486.3 1452.8,481.8" fill="#f8d6d6" stroke="#a89898" stroke-width="0.8"/>
<polygon points="1452.8,435.3 1477.3,423.8 1501.7,446.4 1511.5,448.4 1521.3,449.2 1531.1,449.2 1540.9,450.9 1550.7,474.3 1560.4,466.1 1570.2,462 1580,467.3 1589.8,473 1599.6,488.6 1609.4,477.1 1619.2,478.8 1628.9,484.5 1638.7,493.9 1648.5,503.8 1658.3,499.7 1668.1,508.3 1677.9,515.3 1687.7,523.5 1697.4,524.3 1721.9,519.4 1746.4,521.4 1770.8,533.7 1795.3,540.7 1795.3,559.7 1770.8,552.7 1746.4,540.4 1721.9,538.4 1697.4,543.3 1687.7,542.5 1677.9,534.3 1668.1,527.3 1658.3,518.7 1648.5,522.8 1638.7,512.9 1628.9,503.5 1619.2,497.8 1609.4,496.1 1599.6,507.6 1589.8,492 1580,486.3 1570.2,481 1560.4,485.1 1550.7,493.3 1540.9,469.9 1531.1,468.2 1521.3,468.2 1511.5,467.4 1501.7,465.4 1477.3,442.8 1452.8,454.3" fill="#d8e4f4" fill-opacity="0.85" stroke="#9a9ca6" stroke-width="0.8"/>
<polygon points="1452.8,423 1477.3,441.8 1501.7,472.6 1526.2,504.2 1550.7,512.4 1575.1,539 1599.6,537 1624.1,497.2 1648.5,422.2 1673,374.2 1697.4,394.7 1721.9,430.4 1746.4,448.8 1770.8,487.8 1795.3,514.4 1795.3,522.8 1770.8,496.2 1746.4,457.2 1721.9,438.8 1697.4,403.1 1673,382.6 1648.5,430.6 1624.1,505.6 1599.6,545.4 1575.1,547.4 1550.7,520.8 1526.2,512.6 1501.7,481 1477.3,450.2 1452.8,431.4" fill="#dcdcdc" fill-opacity="0.75" stroke="#505050" stroke-width="0.9"/>
<path d="M1575.1,333.7V602.5M1624.1,333.7V602.5M1673,333.7V602.5" stroke="#9a9a9a" stroke-width="0.9" stroke-dasharray="4 3"/>
<defs><clipPath id="dinl"><rect x="1530.8" y="344" width="49" height="98.5"/></clipPath><clipPath id="dinr"><rect x="1580.8" y="344" width="49" height="98.5"/></clipPath><radialGradient id="dspot" cx="0.5" cy="0.5" r="0.5"><stop offset="0" stop-color="#fff4b0"/><stop offset="0.35" stop-color="#ffb030"/><stop offset="0.6" stop-color="#c04010"/><stop offset="0.8" stop-color="#40106a"/><stop offset="1" stop-color="#180a30"/></radialGradient></defs>
<rect x="1530.8" y="344" width="98.9" height="98.5" fill="#7d6d5d"/>
<g clip-path="url(#dinl)" fill="none" stroke="#ab9d8b" stroke-width="6"><circle cx="1579.5" cy="393" r="19.5"/><circle cx="1579.5" cy="393" r="31.7"/><circle cx="1579.5" cy="393" r="43.9"/><circle cx="1579.5" cy="393" r="56.1"/><circle cx="1579.5" cy="393" r="68.3"/><circle cx="1579.5" cy="393" r="80.5"/><circle cx="1579.5" cy="393" r="92.7"/></g>
<g clip-path="url(#dinr)" fill="none" stroke="#857565" stroke-width="5"><circle cx="1579.5" cy="393" r="19.5"/><circle cx="1579.5" cy="393" r="31.7"/><circle cx="1579.5" cy="393" r="43.9"/><circle cx="1579.5" cy="393" r="56.1"/><circle cx="1579.5" cy="393" r="68.3"/><circle cx="1579.5" cy="393" r="80.5"/><circle cx="1579.5" cy="393" r="92.7"/></g>
<path d="M1531.5,344.5 L1565.5,378 M1531,393.5 H1563 M1565,406 L1552,419 M1629,344.5 L1592,381 M1596,393.5 H1629.5 M1591,405 L1628.5,441.5" stroke="#d8b262" stroke-width="0.9"/>
<line x1="1579.5" y1="344" x2="1579.5" y2="442.5" stroke="#d8b262" stroke-width="0.9"/>
<rect x="1530.8" y="415.5" width="27.8" height="27" fill="#1c0c36"/>
<defs><linearGradient id="dspcb" x1="0" y1="0" x2="0" y2="1"><stop offset="0" stop-color="#fff8d0"/><stop offset="0.4" stop-color="#f0a040"/><stop offset="0.7" stop-color="#a02878"/><stop offset="1" stop-color="#200838"/></linearGradient></defs>
<rect x="1557.6" y="416" width="1.6" height="24" fill="url(#dspcb)"/>
<circle cx="1543.7" cy="427.5" r="8.2" fill="url(#dspot)"/>
<line x1="1547" y1="440" x2="1554" y2="440" stroke="#fff" stroke-width="0.8"/>
<line x1="1603" y1="438.5" x2="1625" y2="438.5" stroke="#fff" stroke-width="1.1"/>
<g fill="#e8e0d0" font-size="3.2" text-anchor="middle" opacity="0.8"><text x="1555" y="350">WS2 metalens</text><text x="1555" y="354">image</text><text x="1604" y="350">Reflection</text><text x="1604" y="354">image</text><text x="1614" y="436">20 μm</text><text x="1548" y="438.5">5 μm</text></g>
<path d="M1452.8,333.7H1795.3V602.5H1452.8Z" fill="none" stroke="#6a6262" stroke-width="1.1"/>
<path d="M1452.8,333.7h3M1452.8,374.5h3M1452.8,415.2h3M1452.8,456h3M1452.8,496.8h3M1452.8,537.5h3M1452.8,578.3h3M1501.7,602.5v-3M1550.7,602.5v-3M1599.6,602.5v-3M1648.5,602.5v-3M1697.4,602.5v-3M1746.4,602.5v-3M1795.3,602.5v-3" stroke="#6a6262" stroke-width="1" fill="none"/>
<path d="M1452.8,472.3 L1477.3,476.8 L1501.7,504.3 L1511.5,518.6 L1521.3,519.4 L1531.1,522.7 L1540.9,530.9 L1550.7,541.2 L1560.4,539.9 L1570.2,542.4 L1580,550.6 L1589.8,545.3 L1599.6,547.3 L1609.4,528.9 L1619.2,516.6 L1628.9,498.1 L1638.7,481.7 L1648.5,455.9 L1658.3,461.2 L1668.1,449.7 L1677.9,443.6 L1687.7,460.4 L1697.4,455.9 L1721.9,476.8 L1746.4,507.5 L1770.8,510.4 L1795.3,535.8" fill="none" stroke="#e0463a" stroke-width="1.3"/><circle cx="1452.8" cy="472.3" r="2.9" fill="#fff" stroke="#e0463a" stroke-width="1.2"/><circle cx="1477.3" cy="476.8" r="2.9" fill="#fff" stroke="#e0463a" stroke-width="1.2"/><circle cx="1501.7" cy="504.3" r="2.9" fill="#fff" stroke="#e0463a" stroke-width="1.2"/><circle cx="1511.5" cy="518.6" r="2.9" fill="#fff" stroke="#e0463a" stroke-width="1.2"/><circle cx="1521.3" cy="519.4" r="2.9" fill="#fff" stroke="#e0463a" stroke-width="1.2"/><circle cx="1531.1" cy="522.7" r="2.9" fill="#fff" stroke="#e0463a" stroke-width="1.2"/><circle cx="1540.9" cy="530.9" r="2.9" fill="#fff" stroke="#e0463a" stroke-width="1.2"/><circle cx="1550.7" cy="541.2" r="2.9" fill="#fff" stroke="#e0463a" stroke-width="1.2"/><circle cx="1560.4" cy="539.9" r="2.9" fill="#fff" stroke="#e0463a" stroke-width="1.2"/><circle cx="1570.2" cy="542.4" r="2.9" fill="#fff" stroke="#e0463a" stroke-width="1.2"/><circle cx="1580" cy="550.6" r="2.9" fill="#fff" stroke="#e0463a" stroke-width="1.2"/><circle cx="1589.8" cy="545.3" r="2.9" fill="#fff" stroke="#e0463a" stroke-width="1.2"/><circle cx="1599.6" cy="547.3" r="2.9" fill="#fff" stroke="#e0463a" stroke-width="1.2"/><circle cx="1609.4" cy="528.9" r="2.9" fill="#fff" stroke="#e0463a" stroke-width="1.2"/><circle cx="1619.2" cy="516.6" r="2.9" fill="#fff" stroke="#e0463a" stroke-width="1.2"/><circle cx="1628.9" cy="498.1" r="2.9" fill="#fff" stroke="#e0463a" stroke-width="1.2"/><circle cx="1638.7" cy="481.7" r="2.9" fill="#fff" stroke="#e0463a" stroke-width="1.2"/><circle cx="1648.5" cy="455.9" r="2.9" fill="#fff" stroke="#e0463a" stroke-width="1.2"/><circle cx="1658.3" cy="461.2" r="2.9" fill="#fff" stroke="#e0463a" stroke-width="1.2"/><circle cx="1668.1" cy="449.7" r="2.9" fill="#fff" stroke="#e0463a" stroke-width="1.2"/><circle cx="1677.9" cy="443.6" r="2.9" fill="#fff" stroke="#e0463a" stroke-width="1.2"/><circle cx="1687.7" cy="460.4" r="2.9" fill="#fff" stroke="#e0463a" stroke-width="1.2"/><circle cx="1697.4" cy="455.9" r="2.9" fill="#fff" stroke="#e0463a" stroke-width="1.2"/><circle cx="1721.9" cy="476.8" r="2.9" fill="#fff" stroke="#e0463a" stroke-width="1.2"/><circle cx="1746.4" cy="507.5" r="2.9" fill="#fff" stroke="#e0463a" stroke-width="1.2"/><circle cx="1770.8" cy="510.4" r="2.9" fill="#fff" stroke="#e0463a" stroke-width="1.2"/><circle cx="1795.3" cy="535.8" r="2.9" fill="#fff" stroke="#e0463a" stroke-width="1.2"/>
<path d="M1452.8,444.8 L1477.3,433.3 L1501.7,455.9 L1511.5,457.9 L1521.3,458.7 L1531.1,458.7 L1540.9,460.4 L1550.7,483.8 L1560.4,475.6 L1570.2,471.5 L1580,476.8 L1589.8,482.5 L1599.6,498.1 L1609.4,486.6 L1619.2,488.3 L1628.9,494 L1638.7,503.4 L1648.5,513.3 L1658.3,509.2 L1668.1,517.8 L1677.9,524.8 L1687.7,533 L1697.4,533.8 L1721.9,528.9 L1746.4,530.9 L1770.8,543.2 L1795.3,550.2" fill="none" stroke="#3a66c4" stroke-width="1.3"/><circle cx="1452.8" cy="444.8" r="2.9" fill="#fff" stroke="#3a66c4" stroke-width="1.2"/><circle cx="1477.3" cy="433.3" r="2.9" fill="#fff" stroke="#3a66c4" stroke-width="1.2"/><circle cx="1501.7" cy="455.9" r="2.9" fill="#fff" stroke="#3a66c4" stroke-width="1.2"/><circle cx="1511.5" cy="457.9" r="2.9" fill="#fff" stroke="#3a66c4" stroke-width="1.2"/><circle cx="1521.3" cy="458.7" r="2.9" fill="#fff" stroke="#3a66c4" stroke-width="1.2"/><circle cx="1531.1" cy="458.7" r="2.9" fill="#fff" stroke="#3a66c4" stroke-width="1.2"/><circle cx="1540.9" cy="460.4" r="2.9" fill="#fff" stroke="#3a66c4" stroke-width="1.2"/><circle cx="1550.7" cy="483.8" r="2.9" fill="#fff" stroke="#3a66c4" stroke-width="1.2"/><circle cx="1560.4" cy="475.6" r="2.9" fill="#fff" stroke="#3a66c4" stroke-width="1.2"/><circle cx="1570.2" cy="471.5" r="2.9" fill="#fff" stroke="#3a66c4" stroke-width="1.2"/><circle cx="1580" cy="476.8" r="2.9" fill="#fff" stroke="#3a66c4" stroke-width="1.2"/><circle cx="1589.8" cy="482.5" r="2.9" fill="#fff" stroke="#3a66c4" stroke-width="1.2"/><circle cx="1599.6" cy="498.1" r="2.9" fill="#fff" stroke="#3a66c4" stroke-width="1.2"/><circle cx="1609.4" cy="486.6" r="2.9" fill="#fff" stroke="#3a66c4" stroke-width="1.2"/><circle cx="1619.2" cy="488.3" r="2.9" fill="#fff" stroke="#3a66c4" stroke-width="1.2"/><circle cx="1628.9" cy="494" r="2.9" fill="#fff" stroke="#3a66c4" stroke-width="1.2"/><circle cx="1638.7" cy="503.4" r="2.9" fill="#fff" stroke="#3a66c4" stroke-width="1.2"/><circle cx="1648.5" cy="513.3" r="2.9" fill="#fff" stroke="#3a66c4" stroke-width="1.2"/><circle cx="1658.3" cy="509.2" r="2.9" fill="#fff" stroke="#3a66c4" stroke-width="1.2"/><circle cx="1668.1" cy="517.8" r="2.9" fill="#fff" stroke="#3a66c4" stroke-width="1.2"/><circle cx="1677.9" cy="524.8" r="2.9" fill="#fff" stroke="#3a66c4" stroke-width="1.2"/><circle cx="1687.7" cy="533" r="2.9" fill="#fff" stroke="#3a66c4" stroke-width="1.2"/><circle cx="1697.4" cy="533.8" r="2.9" fill="#fff" stroke="#3a66c4" stroke-width="1.2"/><circle cx="1721.9" cy="528.9" r="2.9" fill="#fff" stroke="#3a66c4" stroke-width="1.2"/><circle cx="1746.4" cy="530.9" r="2.9" fill="#fff" stroke="#3a66c4" stroke-width="1.2"/><circle cx="1770.8" cy="543.2" r="2.9" fill="#fff" stroke="#3a66c4" stroke-width="1.2"/><circle cx="1795.3" cy="550.2" r="2.9" fill="#fff" stroke="#3a66c4" stroke-width="1.2"/>
<path d="M1452.8,427.2 L1477.3,446 L1501.7,476.8 L1526.2,508.4 L1550.7,516.6 L1575.1,543.2 L1599.6,541.2 L1624.1,501.4 L1648.5,426.4 L1673,378.4 L1697.4,398.9 L1721.9,434.6 L1746.4,453 L1770.8,492 L1795.3,518.6" fill="none" stroke="#4a4a4a" stroke-width="1.1"/>
<circle cx="1452.8" cy="427.2" r="3" fill="#fff" stroke="#3a3a3a" stroke-width="1.2"/><circle cx="1477.3" cy="446" r="3" fill="#fff" stroke="#3a3a3a" stroke-width="1.2"/><circle cx="1501.7" cy="476.8" r="3" fill="#fff" stroke="#3a3a3a" stroke-width="1.2"/><circle cx="1526.2" cy="508.4" r="3" fill="#fff" stroke="#3a3a3a" stroke-width="1.2"/><circle cx="1550.7" cy="516.6" r="3" fill="#fff" stroke="#3a3a3a" stroke-width="1.2"/><circle cx="1575.1" cy="543.2" r="3" fill="#fff" stroke="#3a3a3a" stroke-width="1.2"/><circle cx="1599.6" cy="541.2" r="3" fill="#fff" stroke="#3a3a3a" stroke-width="1.2"/><circle cx="1624.1" cy="501.4" r="3" fill="#fff" stroke="#3a3a3a" stroke-width="1.2"/><circle cx="1648.5" cy="426.4" r="3" fill="#fff" stroke="#3a3a3a" stroke-width="1.2"/><circle cx="1673" cy="378.4" r="3" fill="#fff" stroke="#3a3a3a" stroke-width="1.2"/><circle cx="1697.4" cy="398.9" r="3" fill="#fff" stroke="#3a3a3a" stroke-width="1.2"/><circle cx="1721.9" cy="434.6" r="3" fill="#fff" stroke="#3a3a3a" stroke-width="1.2"/><circle cx="1746.4" cy="453" r="3" fill="#fff" stroke="#3a3a3a" stroke-width="1.2"/><circle cx="1770.8" cy="492" r="3" fill="#fff" stroke="#3a3a3a" stroke-width="1.2"/><circle cx="1795.3" cy="518.6" r="3" fill="#fff" stroke="#3a3a3a" stroke-width="1.2"/>
<polygon points="1568.2,602.1 1582,602.1 1575.1,590.4" fill="#2f5fb0"/>
<polygon points="1617.2,602.1 1631,602.1 1624.1,590.4" fill="#d83030"/>
<polygon points="1666.1,602.1 1679.9,602.1 1673,590.4" fill="#404040"/>
<text transform="translate(1447.3,582.2) scale(1.08,1)" font-size="10.5" text-anchor="end" font-weight="bold" fill="#222">0.03</text>
<text transform="translate(1447.3,500.7) scale(1.08,1)" font-size="10.5" text-anchor="end" font-weight="bold" fill="#222">0.04</text>
<text transform="translate(1447.3,419.1) scale(1.08,1)" font-size="10.5" text-anchor="end" font-weight="bold" fill="#222">0.05</text>
<text transform="translate(1447.3,337.6) scale(1.08,1)" font-size="10.5" text-anchor="end" font-weight="bold" fill="#222">0.06</text>
<text transform="translate(1452.8,616.8)" font-size="11" text-anchor="middle" fill="#222" stroke="#222" stroke-width="0.25">580</text>
<text transform="translate(1501.73,616.8)" font-size="11" text-anchor="middle" fill="#222" stroke="#222" stroke-width="0.25">590</text>
<text transform="translate(1550.66,616.8)" font-size="11" text-anchor="middle" fill="#222" stroke="#222" stroke-width="0.25">600</text>
<text transform="translate(1599.59,616.8)" font-size="11" text-anchor="middle" fill="#222" stroke="#222" stroke-width="0.25">610</text>
<text transform="translate(1648.52,616.8)" font-size="11" text-anchor="middle" fill="#222" stroke="#222" stroke-width="0.25">620</text>
<text transform="translate(1697.45,616.8)" font-size="11" text-anchor="middle" fill="#222" stroke="#222" stroke-width="0.25">630</text>
<text transform="translate(1746.38,616.8)" font-size="11" text-anchor="middle" fill="#222" stroke="#222" stroke-width="0.25">640</text>
<text transform="translate(1795.31,616.8)" font-size="11" text-anchor="middle" fill="#222" stroke="#222" stroke-width="0.25">650</text>
<text transform="translate(1623.5,632.3)" font-size="10.5" text-anchor="middle" fill="#222" stroke="#222" stroke-width="0.2">Wavelength (nm)</text>
<text transform="translate(1417.2,464.1) rotate(-90) scale(1.085,1)" font-size="10.5" text-anchor="middle" fill="#222" stroke="#222" stroke-width="0.2">Focusing efficiency (%)</text>
<text x="1762.2" y="355.6" font-size="10" fill="#e03a2c">0 V</text>
<text x="1762.2" y="372" font-size="10" fill="#2f5fc0">3 V</text>
<text x="1762.2" y="389.6" font-size="10" fill="#333">0 V</text>
</svg>
</body></html>
